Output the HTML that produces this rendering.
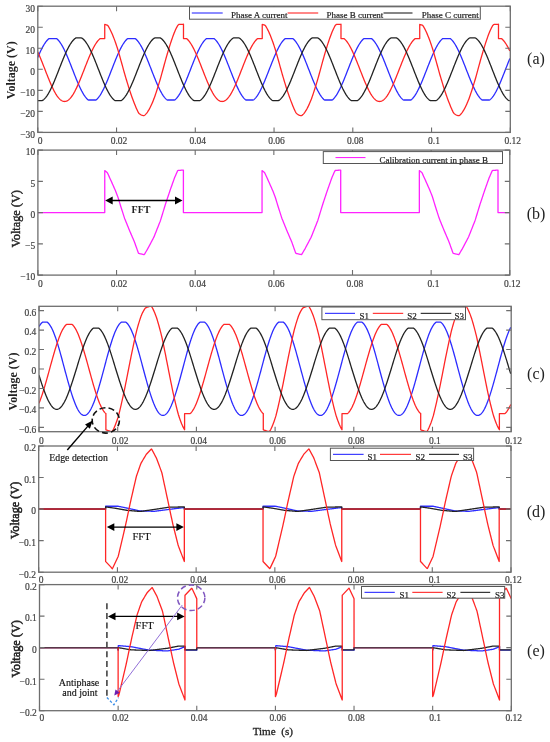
<!DOCTYPE html>
<html><head><meta charset="utf-8"><title>Figure</title>
<style>html,body{margin:0;padding:0;background:#fff;}svg{display:block;}text{font-family:"Liberation Serif", "Times New Roman", serif;}.tl{fill:#444;stroke:#444;stroke-width:0.2px;}.lt{fill:#222;stroke:#222;stroke-width:0.2px;}.an{stroke:#111;stroke-width:0.15px;}</style>
</head><body>
<svg width="550" height="742" viewBox="0 0 550 742">
<rect width="550" height="742" fill="#fff"/>
<clipPath id="ca"><rect x="37.8" y="6.2" width="472.50" height="126.20"/></clipPath>
<g clip-path="url(#ca)">
<polyline points="37.80,57.45 38.27,56.33 38.74,55.23 39.22,54.15 39.69,53.09 40.16,52.06 40.63,51.04 41.11,50.06 41.58,49.10 42.05,48.17 42.52,47.27 43.00,46.40 43.47,45.57 43.94,44.76 44.41,44.00 44.89,43.27 45.36,42.57 45.83,41.91 46.30,41.30 46.78,40.72 47.25,40.18 47.72,39.69 48.20,39.23 48.67,38.82 49.14,38.59 49.61,38.59 50.08,38.59 50.56,38.59 51.03,38.59 51.50,38.59 51.97,38.59 52.45,38.59 52.92,38.59 53.39,38.59 53.86,38.59 54.34,38.59 54.81,38.59 55.28,38.59 55.75,38.59 56.23,38.59 56.70,38.69 57.17,39.09 57.64,39.53 58.12,40.01 58.59,40.54 59.06,41.10 59.53,41.70 60.01,42.35 60.48,43.03 60.95,43.75 61.42,44.50 61.90,45.29 62.37,46.12 62.84,46.98 63.31,47.87 63.79,48.79 64.26,49.74 64.73,50.71 65.20,51.72 65.68,52.74 66.15,53.80 66.62,54.87 67.09,55.96 67.57,57.08 68.04,58.21 68.51,59.36 68.98,60.52 69.46,61.69 69.93,62.87 70.40,64.07 70.88,65.27 71.35,66.47 71.82,67.68 72.29,68.90 72.77,70.11 73.24,71.32 73.71,72.53 74.18,73.73 74.66,74.93 75.13,76.12 75.60,77.30 76.07,78.47 76.55,79.63 77.02,80.77 77.49,81.89 77.96,83.00 78.44,84.09 78.91,85.16 79.38,86.20 79.85,87.22 80.33,88.22 80.80,89.18 81.27,90.12 81.74,91.03 82.22,91.91 82.69,92.76 83.16,93.57 83.63,94.35 84.10,95.10 84.58,95.80 85.05,96.47 85.52,97.10 86.00,97.69 86.47,98.24 86.94,98.75 87.41,99.22 87.88,99.65 88.36,100.01 88.83,100.01 89.30,100.01 89.78,100.01 90.25,100.01 90.72,100.01 91.19,100.01 91.67,100.01 92.14,100.01 92.61,100.01 93.08,100.01 93.56,100.01 94.03,100.01 94.50,100.01 94.97,100.01 95.44,100.01 95.92,100.01 96.39,99.65 96.86,99.22 97.33,98.75 97.81,98.24 98.28,97.69 98.75,97.10 99.22,96.47 99.70,95.80 100.17,95.10 100.64,94.35 101.12,93.57 101.59,92.76 102.06,91.91 102.53,91.03 103.01,90.12 103.48,89.18 103.95,88.22 104.42,87.22 104.74,86.54 104.74,86.54 104.89,86.20 105.37,85.16 105.84,84.09 106.31,83.00 106.78,81.89 107.26,80.77 107.73,79.63 108.20,78.47 108.68,77.30 109.15,76.12 109.62,74.93 110.09,73.73 110.56,72.53 111.04,71.32 111.51,70.11 111.98,68.90 112.45,67.68 112.93,66.47 113.40,65.27 113.87,64.07 114.34,62.87 114.82,61.69 115.29,60.52 115.76,59.36 116.23,58.21 116.71,57.08 117.18,55.96 117.65,54.87 118.13,53.80 118.60,52.74 119.07,51.72 119.54,50.71 120.02,49.74 120.49,48.79 120.96,47.87 121.43,46.98 121.91,46.12 122.38,45.29 122.85,44.50 123.32,43.75 123.80,43.03 124.27,42.35 124.74,41.70 125.21,41.10 125.68,40.54 126.16,40.01 126.63,39.53 127.10,39.09 127.58,38.69 128.05,38.59 128.52,38.59 128.99,38.59 129.47,38.59 129.94,38.59 130.41,38.59 130.88,38.59 131.35,38.59 131.83,38.59 132.30,38.59 132.77,38.59 133.25,38.59 133.72,38.59 134.19,38.59 134.66,38.59 135.13,38.59 135.61,38.82 136.08,39.23 136.55,39.69 137.03,40.18 137.50,40.72 137.97,41.30 138.44,41.91 138.92,42.57 139.39,43.27 139.86,44.00 140.33,44.76 140.81,45.57 141.28,46.40 141.75,47.27 142.22,48.17 142.69,49.10 143.17,50.06 143.64,51.04 144.11,52.06 144.59,53.09 145.06,54.15 145.53,55.23 146.00,56.33 146.48,57.45 146.95,58.59 147.42,59.74 147.89,60.91 148.37,62.08 148.84,63.27 149.31,64.47 149.78,65.67 150.25,66.88 150.73,68.09 151.20,69.30 151.67,70.51 152.14,71.72 152.62,72.93 153.09,74.13 153.56,75.33 154.03,76.52 154.51,77.69 154.98,78.86 155.45,80.01 155.93,81.15 156.40,82.27 156.87,83.37 157.34,84.45 157.81,85.51 158.29,86.54 158.76,87.56 159.23,88.54 159.71,89.50 160.18,90.43 160.65,91.33 161.12,92.20 161.60,93.03 162.07,93.84 162.54,94.60 163.01,95.33 163.49,96.03 163.96,96.69 164.43,97.30 164.90,97.88 165.38,98.42 165.85,98.91 166.32,99.37 166.79,99.78 167.26,100.01 167.74,100.01 168.21,100.01 168.68,100.01 169.16,100.01 169.63,100.01 170.10,100.01 170.57,100.01 171.05,100.01 171.52,100.01 171.99,100.01 172.46,100.01 172.94,100.01 173.41,100.01 173.88,100.01 174.35,100.01 174.82,99.91 175.30,99.51 175.77,99.07 176.24,98.59 176.71,98.06 177.19,97.50 177.66,96.90 178.13,96.25 178.61,95.57 179.08,94.85 179.55,94.10 180.02,93.31 180.50,92.48 180.97,91.62 181.44,90.73 181.91,89.81 182.38,88.86 182.86,87.89 183.33,86.88 183.49,86.54 183.49,86.54 183.80,85.86 184.28,84.80 184.75,83.73 185.22,82.64 185.69,81.52 186.17,80.39 186.64,79.24 187.11,78.08 187.58,76.91 188.06,75.73 188.53,74.53 189.00,73.33 189.47,72.13 189.94,70.92 190.42,69.70 190.89,68.49 191.36,67.28 191.84,66.07 192.31,64.87 192.78,63.67 193.25,62.48 193.73,61.30 194.20,60.13 194.67,58.97 195.14,57.83 195.62,56.71 196.09,55.60 196.56,54.51 197.03,53.44 197.50,52.40 197.98,51.38 198.45,50.38 198.92,49.42 199.40,48.48 199.87,47.57 200.34,46.69 200.81,45.84 201.29,45.03 201.76,44.25 202.23,43.50 202.70,42.80 203.18,42.13 203.65,41.50 204.12,40.91 204.59,40.36 205.07,39.85 205.54,39.38 206.01,38.95 206.48,38.59 206.95,38.59 207.43,38.59 207.90,38.59 208.37,38.59 208.85,38.59 209.32,38.59 209.79,38.59 210.26,38.59 210.74,38.59 211.21,38.59 211.68,38.59 212.15,38.59 212.62,38.59 213.10,38.59 213.57,38.59 214.04,38.59 214.51,38.95 214.99,39.38 215.46,39.85 215.93,40.36 216.41,40.91 216.88,41.50 217.35,42.13 217.82,42.80 218.29,43.50 218.77,44.25 219.24,45.03 219.71,45.84 220.19,46.69 220.66,47.57 221.13,48.48 221.60,49.42 222.07,50.38 222.55,51.38 223.02,52.40 223.49,53.44 223.97,54.51 224.44,55.60 224.91,56.71 225.38,57.83 225.86,58.97 226.33,60.13 226.80,61.30 227.27,62.48 227.75,63.67 228.22,64.87 228.69,66.07 229.16,67.28 229.63,68.49 230.11,69.70 230.58,70.92 231.05,72.13 231.52,73.33 232.00,74.53 232.47,75.73 232.94,76.91 233.42,78.08 233.89,79.24 234.36,80.39 234.83,81.52 235.31,82.64 235.78,83.73 236.25,84.80 236.72,85.86 237.20,86.88 237.67,87.89 238.14,88.86 238.61,89.81 239.08,90.73 239.56,91.62 240.03,92.48 240.50,93.31 240.98,94.10 241.45,94.85 241.92,95.57 242.39,96.25 242.87,96.90 243.34,97.50 243.81,98.06 244.28,98.59 244.75,99.07 245.23,99.51 245.70,99.91 246.17,100.01 246.65,100.01 247.12,100.01 247.59,100.01 248.06,100.01 248.54,100.01 249.01,100.01 249.48,100.01 249.95,100.01 250.43,100.01 250.90,100.01 251.37,100.01 251.84,100.01 252.31,100.01 252.79,100.01 253.26,100.01 253.73,99.78 254.21,99.37 254.68,98.91 255.15,98.42 255.62,97.88 256.10,97.30 256.57,96.69 257.04,96.03 257.51,95.33 257.99,94.60 258.46,93.84 258.93,93.03 259.40,92.20 259.88,91.33 260.35,90.43 260.82,89.50 261.29,88.54 261.77,87.56 262.24,86.54 262.24,86.54 262.24,86.54 262.71,85.51 263.18,84.45 263.65,83.37 264.13,82.27 264.60,81.15 265.07,80.01 265.55,78.86 266.02,77.69 266.49,76.52 266.96,75.33 267.44,74.13 267.91,72.93 268.38,71.72 268.85,70.51 269.32,69.30 269.80,68.09 270.27,66.88 270.74,65.67 271.21,64.47 271.69,63.27 272.16,62.08 272.63,60.91 273.11,59.74 273.58,58.59 274.05,57.45 274.52,56.33 275.00,55.23 275.47,54.15 275.94,53.09 276.41,52.06 276.88,51.04 277.36,50.06 277.83,49.10 278.30,48.17 278.78,47.27 279.25,46.40 279.72,45.57 280.19,44.76 280.67,44.00 281.14,43.27 281.61,42.57 282.08,41.91 282.56,41.30 283.03,40.72 283.50,40.18 283.97,39.69 284.44,39.23 284.92,38.82 285.39,38.59 285.86,38.59 286.33,38.59 286.81,38.59 287.28,38.59 287.75,38.59 288.23,38.59 288.70,38.59 289.17,38.59 289.64,38.59 290.12,38.59 290.59,38.59 291.06,38.59 291.53,38.59 292.01,38.59 292.48,38.59 292.95,38.69 293.42,39.09 293.90,39.53 294.37,40.01 294.84,40.54 295.31,41.10 295.79,41.70 296.26,42.35 296.73,43.03 297.20,43.75 297.68,44.50 298.15,45.29 298.62,46.12 299.09,46.98 299.56,47.87 300.04,48.79 300.51,49.74 300.98,50.71 301.46,51.72 301.93,52.74 302.40,53.80 302.87,54.87 303.35,55.96 303.82,57.08 304.29,58.21 304.76,59.36 305.24,60.52 305.71,61.69 306.18,62.87 306.65,64.07 307.13,65.27 307.60,66.47 308.07,67.68 308.54,68.90 309.02,70.11 309.49,71.32 309.96,72.53 310.43,73.73 310.91,74.93 311.38,76.12 311.85,77.30 312.32,78.47 312.80,79.63 313.27,80.77 313.74,81.89 314.21,83.00 314.69,84.09 315.16,85.16 315.63,86.20 316.10,87.22 316.58,88.22 317.05,89.18 317.52,90.12 317.99,91.03 318.47,91.91 318.94,92.76 319.41,93.57 319.88,94.35 320.36,95.10 320.83,95.80 321.30,96.47 321.77,97.10 322.25,97.69 322.72,98.24 323.19,98.75 323.66,99.22 324.14,99.65 324.61,100.01 325.08,100.01 325.55,100.01 326.03,100.01 326.50,100.01 326.97,100.01 327.44,100.01 327.92,100.01 328.39,100.01 328.86,100.01 329.33,100.01 329.81,100.01 330.28,100.01 330.75,100.01 331.22,100.01 331.70,100.01 332.17,100.01 332.64,99.65 333.11,99.22 333.59,98.75 334.06,98.24 334.53,97.69 335.00,97.10 335.48,96.47 335.95,95.80 336.42,95.10 336.89,94.35 337.37,93.57 337.84,92.76 338.31,91.91 338.78,91.03 339.25,90.12 339.73,89.18 340.20,88.22 340.67,87.22 340.99,86.54 340.99,86.54 341.14,86.20 341.62,85.16 342.09,84.09 342.56,83.00 343.04,81.89 343.51,80.77 343.98,79.63 344.45,78.47 344.93,77.30 345.40,76.12 345.87,74.93 346.34,73.73 346.82,72.53 347.29,71.32 347.76,70.11 348.23,68.90 348.70,67.68 349.18,66.47 349.65,65.27 350.12,64.07 350.59,62.87 351.07,61.69 351.54,60.52 352.01,59.36 352.49,58.21 352.96,57.08 353.43,55.96 353.90,54.87 354.38,53.80 354.85,52.74 355.32,51.72 355.79,50.71 356.27,49.74 356.74,48.79 357.21,47.87 357.68,46.98 358.16,46.12 358.63,45.29 359.10,44.50 359.57,43.75 360.05,43.03 360.52,42.35 360.99,41.70 361.46,41.10 361.94,40.54 362.41,40.01 362.88,39.53 363.35,39.09 363.82,38.69 364.30,38.59 364.77,38.59 365.24,38.59 365.72,38.59 366.19,38.59 366.66,38.59 367.13,38.59 367.61,38.59 368.08,38.59 368.55,38.59 369.02,38.59 369.50,38.59 369.97,38.59 370.44,38.59 370.91,38.59 371.39,38.59 371.86,38.82 372.33,39.23 372.80,39.69 373.28,40.18 373.75,40.72 374.22,41.30 374.69,41.91 375.17,42.57 375.64,43.27 376.11,44.00 376.58,44.76 377.06,45.57 377.53,46.40 378.00,47.27 378.47,48.17 378.95,49.10 379.42,50.06 379.89,51.04 380.36,52.06 380.84,53.09 381.31,54.15 381.78,55.23 382.25,56.33 382.73,57.45 383.20,58.59 383.67,59.74 384.14,60.91 384.62,62.08 385.09,63.27 385.56,64.47 386.03,65.67 386.50,66.88 386.98,68.09 387.45,69.30 387.92,70.51 388.40,71.72 388.87,72.93 389.34,74.13 389.81,75.33 390.29,76.52 390.76,77.69 391.23,78.86 391.70,80.01 392.18,81.15 392.65,82.27 393.12,83.37 393.59,84.45 394.07,85.51 394.54,86.54 395.01,87.56 395.48,88.54 395.96,89.50 396.43,90.43 396.90,91.33 397.37,92.20 397.85,93.03 398.32,93.84 398.79,94.60 399.26,95.33 399.74,96.03 400.21,96.69 400.68,97.30 401.15,97.88 401.62,98.42 402.10,98.91 402.57,99.37 403.04,99.78 403.52,100.01 403.99,100.01 404.46,100.01 404.93,100.01 405.41,100.01 405.88,100.01 406.35,100.01 406.82,100.01 407.30,100.01 407.77,100.01 408.24,100.01 408.71,100.01 409.19,100.01 409.66,100.01 410.13,100.01 410.60,100.01 411.08,99.91 411.55,99.51 412.02,99.07 412.49,98.59 412.97,98.06 413.44,97.50 413.91,96.90 414.38,96.25 414.86,95.57 415.33,94.85 415.80,94.10 416.27,93.31 416.75,92.48 417.22,91.62 417.69,90.73 418.16,89.81 418.64,88.86 419.11,87.89 419.58,86.88 419.74,86.54 419.74,86.54 420.05,85.86 420.53,84.80 421.00,83.73 421.47,82.64 421.94,81.52 422.42,80.39 422.89,79.24 423.36,78.08 423.83,76.91 424.31,75.73 424.78,74.53 425.25,73.33 425.72,72.13 426.20,70.92 426.67,69.70 427.14,68.49 427.61,67.28 428.09,66.07 428.56,64.87 429.03,63.67 429.50,62.48 429.98,61.30 430.45,60.13 430.92,58.97 431.39,57.83 431.87,56.71 432.34,55.60 432.81,54.51 433.28,53.44 433.76,52.40 434.23,51.38 434.70,50.38 435.17,49.42 435.65,48.48 436.12,47.57 436.59,46.69 437.06,45.84 437.54,45.03 438.01,44.25 438.48,43.50 438.95,42.80 439.43,42.13 439.90,41.50 440.37,40.91 440.84,40.36 441.31,39.85 441.79,39.38 442.26,38.95 442.73,38.59 443.20,38.59 443.68,38.59 444.15,38.59 444.62,38.59 445.10,38.59 445.57,38.59 446.04,38.59 446.51,38.59 446.99,38.59 447.46,38.59 447.93,38.59 448.40,38.59 448.88,38.59 449.35,38.59 449.82,38.59 450.29,38.59 450.76,38.95 451.24,39.38 451.71,39.85 452.18,40.36 452.66,40.91 453.13,41.50 453.60,42.13 454.07,42.80 454.55,43.50 455.02,44.25 455.49,45.03 455.96,45.84 456.44,46.69 456.91,47.57 457.38,48.48 457.85,49.42 458.33,50.38 458.80,51.38 459.27,52.40 459.74,53.44 460.22,54.51 460.69,55.60 461.16,56.71 461.63,57.83 462.11,58.97 462.58,60.13 463.05,61.30 463.52,62.48 464.00,63.67 464.47,64.87 464.94,66.07 465.41,67.28 465.88,68.49 466.36,69.70 466.83,70.92 467.30,72.13 467.78,73.33 468.25,74.53 468.72,75.73 469.19,76.91 469.67,78.08 470.14,79.24 470.61,80.39 471.08,81.52 471.56,82.64 472.03,83.73 472.50,84.80 472.97,85.86 473.45,86.88 473.92,87.89 474.39,88.86 474.86,89.81 475.33,90.73 475.81,91.62 476.28,92.48 476.75,93.31 477.23,94.10 477.70,94.85 478.17,95.57 478.64,96.25 479.12,96.90 479.59,97.50 480.06,98.06 480.53,98.59 481.01,99.07 481.48,99.51 481.95,99.91 482.42,100.01 482.90,100.01 483.37,100.01 483.84,100.01 484.31,100.01 484.79,100.01 485.26,100.01 485.73,100.01 486.20,100.01 486.68,100.01 487.15,100.01 487.62,100.01 488.09,100.01 488.56,100.01 489.04,100.01 489.51,100.01 489.98,99.78 490.46,99.37 490.93,98.91 491.40,98.42 491.87,97.88 492.35,97.30 492.82,96.69 493.29,96.03 493.76,95.33 494.24,94.60 494.71,93.84 495.18,93.03 495.65,92.20 496.13,91.33 496.60,90.43 497.07,89.50 497.54,88.54 498.02,87.56 498.49,86.54 498.49,86.54 498.49,86.54 498.96,85.51 499.43,84.45 499.91,83.37 500.38,82.27 500.85,81.15 501.32,80.01 501.80,78.86 502.27,77.69 502.74,76.52 503.21,75.33 503.69,74.13 504.16,72.93 504.63,71.72 505.10,70.51 505.58,69.30 506.05,68.09 506.52,66.88 506.99,65.67 507.47,64.47 507.94,63.27 508.41,62.08 508.88,60.91 509.36,59.74 509.83,58.59" fill="none" stroke="#2c2cff" stroke-width="1.3" stroke-linejoin="round" />
<polyline points="37.80,52.06 38.27,53.09 38.74,54.15 39.22,55.23 39.69,56.33 40.16,57.45 40.63,58.59 41.11,59.74 41.58,60.91 42.05,62.08 42.52,63.27 43.00,64.47 43.47,65.67 43.94,66.88 44.41,68.09 44.89,69.30 45.36,70.51 45.83,71.72 46.30,72.93 46.78,74.13 47.25,75.33 47.72,76.52 48.20,77.69 48.67,78.86 49.14,80.01 49.61,81.15 50.08,82.27 50.56,83.37 51.03,84.45 51.50,85.51 51.97,86.54 52.45,87.56 52.92,88.54 53.39,89.50 53.86,90.43 54.34,91.33 54.81,92.20 55.28,93.03 55.75,93.84 56.23,94.60 56.70,95.33 57.17,96.03 57.64,96.69 58.12,97.30 58.59,97.88 59.06,98.42 59.53,98.91 60.01,99.37 60.48,99.78 60.95,100.15 61.42,100.47 61.90,100.75 62.37,100.98 62.84,101.17 63.31,101.32 63.79,101.42 64.26,101.47 64.73,101.48 65.20,101.44 65.68,101.36 66.15,101.23 66.62,101.05 67.09,100.83 67.57,100.57 68.04,100.26 68.51,99.91 68.98,99.51 69.46,99.07 69.93,98.59 70.40,98.06 70.88,97.50 71.35,96.90 71.82,96.25 72.29,95.57 72.77,94.85 73.24,94.10 73.71,93.31 74.18,92.48 74.66,91.62 75.13,90.73 75.60,89.81 76.07,88.86 76.55,87.89 77.02,86.88 77.49,85.86 77.96,84.80 78.44,83.73 78.91,82.64 79.38,81.52 79.85,80.39 80.33,79.24 80.80,78.08 81.27,76.91 81.74,75.73 82.22,74.53 82.69,73.33 83.16,72.13 83.63,70.92 84.10,69.70 84.58,68.49 85.05,67.28 85.52,66.07 86.00,64.87 86.47,63.67 86.94,62.48 87.41,61.30 87.88,60.13 88.36,58.97 88.83,57.83 89.30,56.71 89.78,55.60 90.25,54.51 90.72,53.44 91.19,52.40 91.67,51.38 92.14,50.38 92.61,49.42 93.08,48.48 93.56,47.57 94.03,46.69 94.50,45.84 94.97,45.03 95.44,44.25 95.92,43.50 96.39,42.80 96.86,42.13 97.33,41.50 97.81,40.91 98.28,40.36 98.75,39.85 99.22,39.38 99.70,38.95 100.17,38.59 100.64,38.59 101.12,38.59 101.59,38.59 102.06,38.59 102.53,38.59 103.01,38.59 103.48,38.59 103.95,38.59 104.42,38.59 104.74,38.59 104.74,24.44 104.89,24.48 105.37,24.61 105.84,24.74 106.31,24.88 106.78,25.01 107.26,25.14 107.73,25.43 108.20,26.15 108.68,26.92 109.15,27.74 109.62,28.60 110.09,29.50 110.56,30.44 111.04,31.42 111.51,32.44 111.98,33.50 112.45,34.61 112.93,35.74 113.40,36.92 113.87,38.12 114.34,39.36 114.82,40.63 115.29,41.93 115.76,43.28 116.23,44.69 116.71,46.12 117.18,47.57 117.65,49.05 118.13,50.58 118.60,52.21 119.07,53.86 119.54,55.52 120.02,57.21 120.49,58.90 120.96,60.58 121.43,62.27 121.91,63.97 122.38,65.67 122.85,67.38 123.32,69.09 123.80,70.81 124.27,72.52 124.74,74.17 125.21,75.77 125.68,77.36 126.16,78.95 126.63,80.52 127.10,82.09 127.58,83.64 128.05,85.18 128.52,86.70 128.99,88.21 129.47,89.69 129.94,91.14 130.41,92.56 130.88,93.96 131.35,95.33 131.83,96.68 132.30,97.99 132.77,99.28 133.25,100.54 133.72,101.77 134.19,102.96 134.66,104.16 135.13,105.36 135.61,106.53 136.08,107.66 136.55,108.75 137.03,109.80 137.50,110.81 137.97,111.78 138.44,112.71 138.92,113.25 139.39,113.69 139.86,114.08 140.33,114.42 140.81,114.72 141.28,114.98 141.75,115.19 142.22,115.36 142.69,115.48 143.17,115.55 143.64,115.58 144.11,115.56 144.59,115.28 145.06,114.87 145.53,114.42 146.00,113.92 146.48,113.38 146.95,112.80 147.42,112.17 147.89,111.47 148.37,110.71 148.84,109.92 149.31,109.08 149.78,108.20 150.25,107.28 150.73,106.32 151.20,105.33 151.67,104.29 152.14,103.22 152.62,102.12 153.09,100.98 153.56,99.81 154.03,98.61 154.51,97.28 154.98,95.92 155.45,94.53 155.93,93.12 156.40,91.69 156.87,90.23 157.34,88.74 157.81,87.24 158.29,85.72 158.76,84.18 159.23,82.63 159.71,81.07 160.18,79.49 160.65,77.87 161.12,76.15 161.60,74.43 162.07,72.70 162.54,70.97 163.01,69.24 163.49,67.50 163.96,65.77 164.43,64.04 164.90,62.32 165.38,60.60 165.85,58.93 166.32,57.28 166.79,55.64 167.26,54.01 167.74,52.40 168.21,50.81 168.68,49.23 169.16,47.67 169.63,46.14 170.10,44.63 170.57,43.15 171.05,41.72 171.52,40.31 171.99,38.94 172.46,37.59 172.94,36.28 173.41,34.99 173.88,33.74 174.35,32.53 174.82,31.40 175.30,30.34 175.77,29.32 176.24,28.33 176.71,27.39 177.19,26.48 177.66,25.62 178.13,25.07 178.61,24.64 179.08,24.40 179.55,24.38 180.02,24.37 180.50,24.36 180.97,24.34 181.44,24.33 181.91,24.31 182.38,24.30 182.86,24.29 183.33,24.27 183.49,24.27 183.49,38.59 183.80,38.59 184.28,38.59 184.75,38.59 185.22,38.59 185.69,38.59 186.17,38.59 186.64,38.69 187.11,39.09 187.58,39.53 188.06,40.01 188.53,40.54 189.00,41.10 189.47,41.70 189.94,42.35 190.42,43.03 190.89,43.75 191.36,44.50 191.84,45.29 192.31,46.12 192.78,46.98 193.25,47.87 193.73,48.79 194.20,49.74 194.67,50.71 195.14,51.72 195.62,52.74 196.09,53.80 196.56,54.87 197.03,55.96 197.50,57.08 197.98,58.21 198.45,59.36 198.92,60.52 199.40,61.69 199.87,62.87 200.34,64.07 200.81,65.27 201.29,66.47 201.76,67.68 202.23,68.90 202.70,70.11 203.18,71.32 203.65,72.53 204.12,73.73 204.59,74.93 205.07,76.12 205.54,77.30 206.01,78.47 206.48,79.63 206.95,80.77 207.43,81.89 207.90,83.00 208.37,84.09 208.85,85.16 209.32,86.20 209.79,87.22 210.26,88.22 210.74,89.18 211.21,90.12 211.68,91.03 212.15,91.91 212.62,92.76 213.10,93.57 213.57,94.35 214.04,95.10 214.51,95.80 214.99,96.47 215.46,97.10 215.93,97.69 216.41,98.24 216.88,98.75 217.35,99.22 217.82,99.65 218.29,100.03 218.77,100.37 219.24,100.66 219.71,100.91 220.19,101.12 220.66,101.28 221.13,101.39 221.60,101.46 222.07,101.48 222.55,101.46 223.02,101.39 223.49,101.28 223.97,101.12 224.44,100.91 224.91,100.66 225.38,100.37 225.86,100.03 226.33,99.65 226.80,99.22 227.27,98.75 227.75,98.24 228.22,97.69 228.69,97.10 229.16,96.47 229.63,95.80 230.11,95.10 230.58,94.35 231.05,93.57 231.52,92.76 232.00,91.91 232.47,91.03 232.94,90.12 233.42,89.18 233.89,88.22 234.36,87.22 234.83,86.20 235.31,85.16 235.78,84.09 236.25,83.00 236.72,81.89 237.20,80.77 237.67,79.63 238.14,78.47 238.61,77.30 239.08,76.12 239.56,74.93 240.03,73.73 240.50,72.53 240.98,71.32 241.45,70.11 241.92,68.90 242.39,67.68 242.87,66.47 243.34,65.27 243.81,64.07 244.28,62.87 244.75,61.69 245.23,60.52 245.70,59.36 246.17,58.21 246.65,57.08 247.12,55.96 247.59,54.87 248.06,53.80 248.54,52.74 249.01,51.72 249.48,50.71 249.95,49.74 250.43,48.79 250.90,47.87 251.37,46.98 251.84,46.12 252.31,45.29 252.79,44.50 253.26,43.75 253.73,43.03 254.21,42.35 254.68,41.70 255.15,41.10 255.62,40.54 256.10,40.01 256.57,39.53 257.04,39.09 257.51,38.69 257.99,38.59 258.46,38.59 258.93,38.59 259.40,38.59 259.88,38.59 260.35,38.59 260.82,38.59 261.29,38.59 261.77,38.59 262.24,38.59 262.24,24.44 262.24,24.44 262.71,24.57 263.18,24.70 263.65,24.83 264.13,24.96 264.60,25.10 265.07,25.32 265.55,25.90 266.02,26.66 266.49,27.46 266.96,28.31 267.44,29.19 267.91,30.12 268.38,31.09 268.85,32.09 269.32,33.14 269.80,34.23 270.27,35.36 270.74,36.52 271.21,37.72 271.69,38.94 272.16,40.20 272.63,41.49 273.11,42.82 273.58,44.22 274.05,45.64 274.52,47.09 275.00,48.55 275.47,50.05 275.94,51.66 276.41,53.31 276.88,54.97 277.36,56.64 277.83,58.33 278.30,60.02 278.78,61.71 279.25,63.40 279.72,65.10 280.19,66.81 280.67,68.52 281.14,70.23 281.61,71.95 282.08,73.64 282.56,75.24 283.03,76.83 283.50,78.42 283.97,80.00 284.44,81.57 284.92,83.12 285.39,84.67 285.86,86.19 286.33,87.71 286.81,89.20 287.28,90.66 287.75,92.09 288.23,93.49 288.70,94.87 289.17,96.23 289.64,97.56 290.12,98.86 290.59,100.13 291.06,101.36 291.53,102.57 292.01,103.75 292.48,104.97 292.95,106.15 293.42,107.29 293.90,108.39 294.37,109.45 294.84,110.48 295.31,111.46 295.79,112.40 296.26,113.10 296.73,113.55 297.20,113.95 297.68,114.31 298.15,114.63 298.62,114.90 299.09,115.13 299.56,115.31 300.04,115.44 300.51,115.53 300.98,115.58 301.46,115.57 301.93,115.40 302.40,115.01 302.87,114.58 303.35,114.09 303.82,113.57 304.29,113.00 304.76,112.38 305.24,111.71 305.71,110.97 306.18,110.19 306.65,109.36 307.13,108.49 307.60,107.59 308.07,106.64 308.54,105.66 309.02,104.64 309.49,103.58 309.96,102.49 310.43,101.37 310.91,100.21 311.38,99.02 311.85,97.73 312.32,96.38 312.80,95.00 313.27,93.60 313.74,92.17 314.21,90.71 314.69,89.24 315.16,87.74 315.63,86.23 316.10,84.70 316.58,83.15 317.05,81.59 317.52,80.02 317.99,78.43 318.47,76.73 318.94,75.01 319.41,73.28 319.88,71.55 320.36,69.82 320.83,68.08 321.30,66.35 321.77,64.62 322.25,62.89 322.72,61.18 323.19,59.48 323.66,57.82 324.14,56.18 324.61,54.55 325.08,52.93 325.55,51.33 326.03,49.75 326.50,48.19 326.97,46.65 327.44,45.13 327.92,43.64 328.39,42.19 328.86,40.78 329.33,39.39 329.81,38.04 330.28,36.71 330.75,35.42 331.22,34.16 331.70,32.93 332.17,31.76 332.64,30.69 333.11,29.65 333.59,28.66 334.06,27.70 334.53,26.78 335.00,25.90 335.48,25.22 335.95,24.78 336.42,24.40 336.89,24.39 337.37,24.37 337.84,24.36 338.31,24.35 338.78,24.33 339.25,24.32 339.73,24.30 340.20,24.29 340.67,24.28 340.99,24.27 340.99,38.59 341.14,38.59 341.62,38.59 342.09,38.59 342.56,38.59 343.04,38.59 343.51,38.59 343.98,38.59 344.45,38.95 344.93,39.38 345.40,39.85 345.87,40.36 346.34,40.91 346.82,41.50 347.29,42.13 347.76,42.80 348.23,43.50 348.70,44.25 349.18,45.03 349.65,45.84 350.12,46.69 350.59,47.57 351.07,48.48 351.54,49.42 352.01,50.38 352.49,51.38 352.96,52.40 353.43,53.44 353.90,54.51 354.38,55.60 354.85,56.71 355.32,57.83 355.79,58.97 356.27,60.13 356.74,61.30 357.21,62.48 357.68,63.67 358.16,64.87 358.63,66.07 359.10,67.28 359.57,68.49 360.05,69.70 360.52,70.92 360.99,72.13 361.46,73.33 361.94,74.53 362.41,75.73 362.88,76.91 363.35,78.08 363.82,79.24 364.30,80.39 364.77,81.52 365.24,82.64 365.72,83.73 366.19,84.80 366.66,85.86 367.13,86.88 367.61,87.89 368.08,88.86 368.55,89.81 369.02,90.73 369.50,91.62 369.97,92.48 370.44,93.31 370.91,94.10 371.39,94.85 371.86,95.57 372.33,96.25 372.80,96.90 373.28,97.50 373.75,98.06 374.22,98.59 374.69,99.07 375.17,99.51 375.64,99.91 376.11,100.26 376.58,100.57 377.06,100.83 377.53,101.05 378.00,101.23 378.47,101.36 378.95,101.44 379.42,101.48 379.89,101.47 380.36,101.42 380.84,101.32 381.31,101.17 381.78,100.98 382.25,100.75 382.73,100.47 383.20,100.15 383.67,99.78 384.14,99.37 384.62,98.91 385.09,98.42 385.56,97.88 386.03,97.30 386.50,96.69 386.98,96.03 387.45,95.33 387.92,94.60 388.40,93.84 388.87,93.03 389.34,92.20 389.81,91.33 390.29,90.43 390.76,89.50 391.23,88.54 391.70,87.56 392.18,86.54 392.65,85.51 393.12,84.45 393.59,83.37 394.07,82.27 394.54,81.15 395.01,80.01 395.48,78.86 395.96,77.69 396.43,76.52 396.90,75.33 397.37,74.13 397.85,72.93 398.32,71.72 398.79,70.51 399.26,69.30 399.74,68.09 400.21,66.88 400.68,65.67 401.15,64.47 401.62,63.27 402.10,62.08 402.57,60.91 403.04,59.74 403.52,58.59 403.99,57.45 404.46,56.33 404.93,55.23 405.41,54.15 405.88,53.09 406.35,52.06 406.82,51.04 407.30,50.06 407.77,49.10 408.24,48.17 408.71,47.27 409.19,46.40 409.66,45.57 410.13,44.76 410.60,44.00 411.08,43.27 411.55,42.57 412.02,41.91 412.49,41.30 412.97,40.72 413.44,40.18 413.91,39.69 414.38,39.23 414.86,38.82 415.33,38.59 415.80,38.59 416.27,38.59 416.75,38.59 417.22,38.59 417.69,38.59 418.16,38.59 418.64,38.59 419.11,38.59 419.58,38.59 419.74,38.59 419.74,24.44 420.05,24.52 420.53,24.66 421.00,24.79 421.47,24.92 421.94,25.05 422.42,25.20 422.89,25.65 423.36,26.40 423.83,27.19 424.31,28.02 424.78,28.89 425.25,29.81 425.72,30.76 426.20,31.75 426.67,32.79 427.14,33.87 427.61,34.98 428.09,36.13 428.56,37.31 429.03,38.53 429.50,39.78 429.98,41.06 430.45,42.37 430.92,43.75 431.39,45.16 431.87,46.60 432.34,48.06 432.81,49.55 433.28,51.12 433.76,52.76 434.23,54.41 434.70,56.08 435.17,57.77 435.65,59.46 436.12,61.14 436.59,62.83 437.06,64.54 437.54,66.24 438.01,67.95 438.48,69.66 438.95,71.38 439.43,73.09 439.90,74.71 440.37,76.30 440.84,77.89 441.31,79.47 441.79,81.05 442.26,82.61 442.73,84.15 443.20,85.69 443.68,87.20 444.15,88.70 444.62,90.18 445.10,91.61 445.57,93.03 446.04,94.42 446.51,95.78 446.99,97.12 447.46,98.43 447.93,99.71 448.40,100.95 448.88,102.17 449.35,103.35 449.82,104.57 450.29,105.76 450.76,106.91 451.24,108.03 451.71,109.10 452.18,110.14 452.66,111.14 453.13,112.09 453.60,112.94 454.07,113.40 454.55,113.82 455.02,114.20 455.49,114.53 455.96,114.81 456.44,115.05 456.91,115.25 457.38,115.40 457.85,115.51 458.33,115.57 458.80,115.58 459.27,115.52 459.74,115.15 460.22,114.73 460.69,114.26 461.16,113.75 461.63,113.19 462.11,112.59 462.58,111.95 463.05,111.22 463.52,110.45 464.00,109.64 464.47,108.79 464.94,107.90 465.41,106.96 465.88,105.99 466.36,104.98 466.83,103.94 467.30,102.86 467.78,101.74 468.25,100.60 468.72,99.42 469.19,98.17 469.67,96.83 470.14,95.46 470.61,94.07 471.08,92.65 471.56,91.20 472.03,89.73 472.50,88.24 472.97,86.74 473.45,85.21 473.92,83.67 474.39,82.11 474.86,80.54 475.33,78.96 475.81,77.30 476.28,75.58 476.75,73.86 477.23,72.13 477.70,70.39 478.17,68.66 478.64,66.93 479.12,65.20 479.59,63.47 480.06,61.75 480.53,60.03 481.01,58.38 481.48,56.73 481.95,55.09 482.42,53.47 482.90,51.87 483.37,50.28 483.84,48.71 484.31,47.16 484.79,45.63 485.26,44.13 485.73,42.67 486.20,41.25 486.68,39.85 487.15,38.48 487.62,37.15 488.09,35.84 488.56,34.57 489.04,33.34 489.51,32.13 489.98,31.04 490.46,29.99 490.93,28.98 491.40,28.01 491.87,27.08 492.35,26.19 492.82,25.37 493.29,24.92 493.76,24.51 494.24,24.39 494.71,24.38 495.18,24.37 495.65,24.35 496.13,24.34 496.60,24.32 497.07,24.31 497.54,24.30 498.02,24.28 498.49,24.27 498.49,38.59 498.49,38.59 498.96,38.59 499.43,38.59 499.91,38.59 500.38,38.59 500.85,38.59 501.32,38.59 501.80,38.82 502.27,39.23 502.74,39.69 503.21,40.18 503.69,40.72 504.16,41.30 504.63,41.91 505.10,42.57 505.58,43.27 506.05,44.00 506.52,44.76 506.99,45.57 507.47,46.40 507.94,47.27 508.41,48.17 508.88,49.10 509.36,50.06 509.83,51.04" fill="none" stroke="#ff2626" stroke-width="1.3" stroke-linejoin="round" />
<polyline points="37.80,100.64 38.27,100.64 38.74,100.64 39.22,100.64 39.69,100.64 40.16,100.64 40.63,100.64 41.11,100.64 41.58,100.64 42.05,100.64 42.52,100.47 43.00,100.15 43.47,99.78 43.94,99.37 44.41,98.91 44.89,98.42 45.36,97.88 45.83,97.30 46.30,96.69 46.78,96.03 47.25,95.33 47.72,94.60 48.20,93.84 48.67,93.03 49.14,92.20 49.61,91.33 50.08,90.43 50.56,89.50 51.03,88.54 51.50,87.56 51.97,86.54 52.45,85.51 52.92,84.45 53.39,83.37 53.86,82.27 54.34,81.15 54.81,80.01 55.28,78.86 55.75,77.69 56.23,76.52 56.70,75.33 57.17,74.13 57.64,72.93 58.12,71.72 58.59,70.51 59.06,69.30 59.53,68.09 60.01,66.88 60.48,65.67 60.95,64.47 61.42,63.27 61.90,62.08 62.37,60.91 62.84,59.74 63.31,58.59 63.79,57.45 64.26,56.33 64.73,55.23 65.20,54.15 65.68,53.09 66.15,52.06 66.62,51.04 67.09,50.06 67.57,49.10 68.04,48.17 68.51,47.27 68.98,46.40 69.46,45.57 69.93,44.76 70.40,44.00 70.88,43.27 71.35,42.57 71.82,41.91 72.29,41.30 72.77,40.72 73.24,40.18 73.71,39.69 74.18,39.23 74.66,38.82 75.13,38.45 75.60,38.13 76.07,37.96 76.55,37.96 77.02,37.96 77.49,37.96 77.96,37.96 78.44,37.96 78.91,37.96 79.38,37.96 79.85,37.96 80.33,37.96 80.80,37.96 81.27,37.96 81.74,38.03 82.22,38.34 82.69,38.69 83.16,39.09 83.63,39.53 84.10,40.01 84.58,40.54 85.05,41.10 85.52,41.70 86.00,42.35 86.47,43.03 86.94,43.75 87.41,44.50 87.88,45.29 88.36,46.12 88.83,46.98 89.30,47.87 89.78,48.79 90.25,49.74 90.72,50.71 91.19,51.72 91.67,52.74 92.14,53.80 92.61,54.87 93.08,55.96 93.56,57.08 94.03,58.21 94.50,59.36 94.97,60.52 95.44,61.69 95.92,62.87 96.39,64.07 96.86,65.27 97.33,66.47 97.81,67.68 98.28,68.90 98.75,70.11 99.22,71.32 99.70,72.53 100.17,73.73 100.64,74.93 101.12,76.12 101.59,77.30 102.06,78.47 102.53,79.63 103.01,80.77 103.48,81.89 103.95,83.00 104.42,84.09 104.74,84.80 104.74,84.80 104.89,85.16 105.37,86.20 105.84,87.22 106.31,88.22 106.78,89.18 107.26,90.12 107.73,91.03 108.20,91.91 108.68,92.76 109.15,93.57 109.62,94.35 110.09,95.10 110.56,95.80 111.04,96.47 111.51,97.10 111.98,97.69 112.45,98.24 112.93,98.75 113.40,99.22 113.87,99.65 114.34,100.03 114.82,100.37 115.29,100.64 115.76,100.64 116.23,100.64 116.71,100.64 117.18,100.64 117.65,100.64 118.13,100.64 118.60,100.64 119.07,100.64 119.54,100.64 120.02,100.64 120.49,100.64 120.96,100.64 121.43,100.37 121.91,100.03 122.38,99.65 122.85,99.22 123.32,98.75 123.80,98.24 124.27,97.69 124.74,97.10 125.21,96.47 125.68,95.80 126.16,95.10 126.63,94.35 127.10,93.57 127.58,92.76 128.05,91.91 128.52,91.03 128.99,90.12 129.47,89.18 129.94,88.22 130.41,87.22 130.88,86.20 131.35,85.16 131.83,84.09 132.30,83.00 132.77,81.89 133.25,80.77 133.72,79.63 134.19,78.47 134.66,77.30 135.13,76.12 135.61,74.93 136.08,73.73 136.55,72.53 137.03,71.32 137.50,70.11 137.97,68.90 138.44,67.68 138.92,66.47 139.39,65.27 139.86,64.07 140.33,62.87 140.81,61.69 141.28,60.52 141.75,59.36 142.22,58.21 142.69,57.08 143.17,55.96 143.64,54.87 144.11,53.80 144.59,52.74 145.06,51.72 145.53,50.71 146.00,49.74 146.48,48.79 146.95,47.87 147.42,46.98 147.89,46.12 148.37,45.29 148.84,44.50 149.31,43.75 149.78,43.03 150.25,42.35 150.73,41.70 151.20,41.10 151.67,40.54 152.14,40.01 152.62,39.53 153.09,39.09 153.56,38.69 154.03,38.34 154.51,38.03 154.98,37.96 155.45,37.96 155.93,37.96 156.40,37.96 156.87,37.96 157.34,37.96 157.81,37.96 158.29,37.96 158.76,37.96 159.23,37.96 159.71,37.96 160.18,37.96 160.65,38.13 161.12,38.45 161.60,38.82 162.07,39.23 162.54,39.69 163.01,40.18 163.49,40.72 163.96,41.30 164.43,41.91 164.90,42.57 165.38,43.27 165.85,44.00 166.32,44.76 166.79,45.57 167.26,46.40 167.74,47.27 168.21,48.17 168.68,49.10 169.16,50.06 169.63,51.04 170.10,52.06 170.57,53.09 171.05,54.15 171.52,55.23 171.99,56.33 172.46,57.45 172.94,58.59 173.41,59.74 173.88,60.91 174.35,62.08 174.82,63.27 175.30,64.47 175.77,65.67 176.24,66.88 176.71,68.09 177.19,69.30 177.66,70.51 178.13,71.72 178.61,72.93 179.08,74.13 179.55,75.33 180.02,76.52 180.50,77.69 180.97,78.86 181.44,80.01 181.91,81.15 182.38,82.27 182.86,83.37 183.33,84.45 183.49,84.80 183.49,84.80 183.80,85.51 184.28,86.54 184.75,87.56 185.22,88.54 185.69,89.50 186.17,90.43 186.64,91.33 187.11,92.20 187.58,93.03 188.06,93.84 188.53,94.60 189.00,95.33 189.47,96.03 189.94,96.69 190.42,97.30 190.89,97.88 191.36,98.42 191.84,98.91 192.31,99.37 192.78,99.78 193.25,100.15 193.73,100.47 194.20,100.64 194.67,100.64 195.14,100.64 195.62,100.64 196.09,100.64 196.56,100.64 197.03,100.64 197.50,100.64 197.98,100.64 198.45,100.64 198.92,100.64 199.40,100.64 199.87,100.57 200.34,100.26 200.81,99.91 201.29,99.51 201.76,99.07 202.23,98.59 202.70,98.06 203.18,97.50 203.65,96.90 204.12,96.25 204.59,95.57 205.07,94.85 205.54,94.10 206.01,93.31 206.48,92.48 206.95,91.62 207.43,90.73 207.90,89.81 208.37,88.86 208.85,87.89 209.32,86.88 209.79,85.86 210.26,84.80 210.74,83.73 211.21,82.64 211.68,81.52 212.15,80.39 212.62,79.24 213.10,78.08 213.57,76.91 214.04,75.73 214.51,74.53 214.99,73.33 215.46,72.13 215.93,70.92 216.41,69.70 216.88,68.49 217.35,67.28 217.82,66.07 218.29,64.87 218.77,63.67 219.24,62.48 219.71,61.30 220.19,60.13 220.66,58.97 221.13,57.83 221.60,56.71 222.07,55.60 222.55,54.51 223.02,53.44 223.49,52.40 223.97,51.38 224.44,50.38 224.91,49.42 225.38,48.48 225.86,47.57 226.33,46.69 226.80,45.84 227.27,45.03 227.75,44.25 228.22,43.50 228.69,42.80 229.16,42.13 229.63,41.50 230.11,40.91 230.58,40.36 231.05,39.85 231.52,39.38 232.00,38.95 232.47,38.57 232.94,38.23 233.42,37.96 233.89,37.96 234.36,37.96 234.83,37.96 235.31,37.96 235.78,37.96 236.25,37.96 236.72,37.96 237.20,37.96 237.67,37.96 238.14,37.96 238.61,37.96 239.08,37.96 239.56,38.23 240.03,38.57 240.50,38.95 240.98,39.38 241.45,39.85 241.92,40.36 242.39,40.91 242.87,41.50 243.34,42.13 243.81,42.80 244.28,43.50 244.75,44.25 245.23,45.03 245.70,45.84 246.17,46.69 246.65,47.57 247.12,48.48 247.59,49.42 248.06,50.38 248.54,51.38 249.01,52.40 249.48,53.44 249.95,54.51 250.43,55.60 250.90,56.71 251.37,57.83 251.84,58.97 252.31,60.13 252.79,61.30 253.26,62.48 253.73,63.67 254.21,64.87 254.68,66.07 255.15,67.28 255.62,68.49 256.10,69.70 256.57,70.92 257.04,72.13 257.51,73.33 257.99,74.53 258.46,75.73 258.93,76.91 259.40,78.08 259.88,79.24 260.35,80.39 260.82,81.52 261.29,82.64 261.77,83.73 262.24,84.80 262.24,84.80 262.24,84.80 262.71,85.86 263.18,86.88 263.65,87.89 264.13,88.86 264.60,89.81 265.07,90.73 265.55,91.62 266.02,92.48 266.49,93.31 266.96,94.10 267.44,94.85 267.91,95.57 268.38,96.25 268.85,96.90 269.32,97.50 269.80,98.06 270.27,98.59 270.74,99.07 271.21,99.51 271.69,99.91 272.16,100.26 272.63,100.57 273.11,100.64 273.58,100.64 274.05,100.64 274.52,100.64 275.00,100.64 275.47,100.64 275.94,100.64 276.41,100.64 276.88,100.64 277.36,100.64 277.83,100.64 278.30,100.64 278.78,100.47 279.25,100.15 279.72,99.78 280.19,99.37 280.67,98.91 281.14,98.42 281.61,97.88 282.08,97.30 282.56,96.69 283.03,96.03 283.50,95.33 283.97,94.60 284.44,93.84 284.92,93.03 285.39,92.20 285.86,91.33 286.33,90.43 286.81,89.50 287.28,88.54 287.75,87.56 288.23,86.54 288.70,85.51 289.17,84.45 289.64,83.37 290.12,82.27 290.59,81.15 291.06,80.01 291.53,78.86 292.01,77.69 292.48,76.52 292.95,75.33 293.42,74.13 293.90,72.93 294.37,71.72 294.84,70.51 295.31,69.30 295.79,68.09 296.26,66.88 296.73,65.67 297.20,64.47 297.68,63.27 298.15,62.08 298.62,60.91 299.09,59.74 299.56,58.59 300.04,57.45 300.51,56.33 300.98,55.23 301.46,54.15 301.93,53.09 302.40,52.06 302.87,51.04 303.35,50.06 303.82,49.10 304.29,48.17 304.76,47.27 305.24,46.40 305.71,45.57 306.18,44.76 306.65,44.00 307.13,43.27 307.60,42.57 308.07,41.91 308.54,41.30 309.02,40.72 309.49,40.18 309.96,39.69 310.43,39.23 310.91,38.82 311.38,38.45 311.85,38.13 312.32,37.96 312.80,37.96 313.27,37.96 313.74,37.96 314.21,37.96 314.69,37.96 315.16,37.96 315.63,37.96 316.10,37.96 316.58,37.96 317.05,37.96 317.52,37.96 317.99,38.03 318.47,38.34 318.94,38.69 319.41,39.09 319.88,39.53 320.36,40.01 320.83,40.54 321.30,41.10 321.77,41.70 322.25,42.35 322.72,43.03 323.19,43.75 323.66,44.50 324.14,45.29 324.61,46.12 325.08,46.98 325.55,47.87 326.03,48.79 326.50,49.74 326.97,50.71 327.44,51.72 327.92,52.74 328.39,53.80 328.86,54.87 329.33,55.96 329.81,57.08 330.28,58.21 330.75,59.36 331.22,60.52 331.70,61.69 332.17,62.87 332.64,64.07 333.11,65.27 333.59,66.47 334.06,67.68 334.53,68.90 335.00,70.11 335.48,71.32 335.95,72.53 336.42,73.73 336.89,74.93 337.37,76.12 337.84,77.30 338.31,78.47 338.78,79.63 339.25,80.77 339.73,81.89 340.20,83.00 340.67,84.09 340.99,84.80 340.99,84.80 341.14,85.16 341.62,86.20 342.09,87.22 342.56,88.22 343.04,89.18 343.51,90.12 343.98,91.03 344.45,91.91 344.93,92.76 345.40,93.57 345.87,94.35 346.34,95.10 346.82,95.80 347.29,96.47 347.76,97.10 348.23,97.69 348.70,98.24 349.18,98.75 349.65,99.22 350.12,99.65 350.59,100.03 351.07,100.37 351.54,100.64 352.01,100.64 352.49,100.64 352.96,100.64 353.43,100.64 353.90,100.64 354.38,100.64 354.85,100.64 355.32,100.64 355.79,100.64 356.27,100.64 356.74,100.64 357.21,100.64 357.68,100.37 358.16,100.03 358.63,99.65 359.10,99.22 359.57,98.75 360.05,98.24 360.52,97.69 360.99,97.10 361.46,96.47 361.94,95.80 362.41,95.10 362.88,94.35 363.35,93.57 363.82,92.76 364.30,91.91 364.77,91.03 365.24,90.12 365.72,89.18 366.19,88.22 366.66,87.22 367.13,86.20 367.61,85.16 368.08,84.09 368.55,83.00 369.02,81.89 369.50,80.77 369.97,79.63 370.44,78.47 370.91,77.30 371.39,76.12 371.86,74.93 372.33,73.73 372.80,72.53 373.28,71.32 373.75,70.11 374.22,68.90 374.69,67.68 375.17,66.47 375.64,65.27 376.11,64.07 376.58,62.87 377.06,61.69 377.53,60.52 378.00,59.36 378.47,58.21 378.95,57.08 379.42,55.96 379.89,54.87 380.36,53.80 380.84,52.74 381.31,51.72 381.78,50.71 382.25,49.74 382.73,48.79 383.20,47.87 383.67,46.98 384.14,46.12 384.62,45.29 385.09,44.50 385.56,43.75 386.03,43.03 386.50,42.35 386.98,41.70 387.45,41.10 387.92,40.54 388.40,40.01 388.87,39.53 389.34,39.09 389.81,38.69 390.29,38.34 390.76,38.03 391.23,37.96 391.70,37.96 392.18,37.96 392.65,37.96 393.12,37.96 393.59,37.96 394.07,37.96 394.54,37.96 395.01,37.96 395.48,37.96 395.96,37.96 396.43,37.96 396.90,38.13 397.37,38.45 397.85,38.82 398.32,39.23 398.79,39.69 399.26,40.18 399.74,40.72 400.21,41.30 400.68,41.91 401.15,42.57 401.62,43.27 402.10,44.00 402.57,44.76 403.04,45.57 403.52,46.40 403.99,47.27 404.46,48.17 404.93,49.10 405.41,50.06 405.88,51.04 406.35,52.06 406.82,53.09 407.30,54.15 407.77,55.23 408.24,56.33 408.71,57.45 409.19,58.59 409.66,59.74 410.13,60.91 410.60,62.08 411.08,63.27 411.55,64.47 412.02,65.67 412.49,66.88 412.97,68.09 413.44,69.30 413.91,70.51 414.38,71.72 414.86,72.93 415.33,74.13 415.80,75.33 416.27,76.52 416.75,77.69 417.22,78.86 417.69,80.01 418.16,81.15 418.64,82.27 419.11,83.37 419.58,84.45 419.74,84.80 419.74,84.80 420.05,85.51 420.53,86.54 421.00,87.56 421.47,88.54 421.94,89.50 422.42,90.43 422.89,91.33 423.36,92.20 423.83,93.03 424.31,93.84 424.78,94.60 425.25,95.33 425.72,96.03 426.20,96.69 426.67,97.30 427.14,97.88 427.61,98.42 428.09,98.91 428.56,99.37 429.03,99.78 429.50,100.15 429.98,100.47 430.45,100.64 430.92,100.64 431.39,100.64 431.87,100.64 432.34,100.64 432.81,100.64 433.28,100.64 433.76,100.64 434.23,100.64 434.70,100.64 435.17,100.64 435.65,100.64 436.12,100.57 436.59,100.26 437.06,99.91 437.54,99.51 438.01,99.07 438.48,98.59 438.95,98.06 439.43,97.50 439.90,96.90 440.37,96.25 440.84,95.57 441.31,94.85 441.79,94.10 442.26,93.31 442.73,92.48 443.20,91.62 443.68,90.73 444.15,89.81 444.62,88.86 445.10,87.89 445.57,86.88 446.04,85.86 446.51,84.80 446.99,83.73 447.46,82.64 447.93,81.52 448.40,80.39 448.88,79.24 449.35,78.08 449.82,76.91 450.29,75.73 450.76,74.53 451.24,73.33 451.71,72.13 452.18,70.92 452.66,69.70 453.13,68.49 453.60,67.28 454.07,66.07 454.55,64.87 455.02,63.67 455.49,62.48 455.96,61.30 456.44,60.13 456.91,58.97 457.38,57.83 457.85,56.71 458.33,55.60 458.80,54.51 459.27,53.44 459.74,52.40 460.22,51.38 460.69,50.38 461.16,49.42 461.63,48.48 462.11,47.57 462.58,46.69 463.05,45.84 463.52,45.03 464.00,44.25 464.47,43.50 464.94,42.80 465.41,42.13 465.88,41.50 466.36,40.91 466.83,40.36 467.30,39.85 467.78,39.38 468.25,38.95 468.72,38.57 469.19,38.23 469.67,37.96 470.14,37.96 470.61,37.96 471.08,37.96 471.56,37.96 472.03,37.96 472.50,37.96 472.97,37.96 473.45,37.96 473.92,37.96 474.39,37.96 474.86,37.96 475.33,37.96 475.81,38.23 476.28,38.57 476.75,38.95 477.23,39.38 477.70,39.85 478.17,40.36 478.64,40.91 479.12,41.50 479.59,42.13 480.06,42.80 480.53,43.50 481.01,44.25 481.48,45.03 481.95,45.84 482.42,46.69 482.90,47.57 483.37,48.48 483.84,49.42 484.31,50.38 484.79,51.38 485.26,52.40 485.73,53.44 486.20,54.51 486.68,55.60 487.15,56.71 487.62,57.83 488.09,58.97 488.56,60.13 489.04,61.30 489.51,62.48 489.98,63.67 490.46,64.87 490.93,66.07 491.40,67.28 491.87,68.49 492.35,69.70 492.82,70.92 493.29,72.13 493.76,73.33 494.24,74.53 494.71,75.73 495.18,76.91 495.65,78.08 496.13,79.24 496.60,80.39 497.07,81.52 497.54,82.64 498.02,83.73 498.49,84.80 498.49,84.80 498.49,84.80 498.96,85.86 499.43,86.88 499.91,87.89 500.38,88.86 500.85,89.81 501.32,90.73 501.80,91.62 502.27,92.48 502.74,93.31 503.21,94.10 503.69,94.85 504.16,95.57 504.63,96.25 505.10,96.90 505.58,97.50 506.05,98.06 506.52,98.59 506.99,99.07 507.47,99.51 507.94,99.91 508.41,100.26 508.88,100.57 509.36,100.64 509.83,100.64" fill="none" stroke="#222" stroke-width="1.3" stroke-linejoin="round" />
</g>
<rect x="37.8" y="6.2" width="472.50" height="126.20" fill="none" stroke="#6e6e6e" stroke-width="1.3"/>
<path d="M37.80,132.4v-5.0M37.80,6.2v5.0M116.55,132.4v-5.0M116.55,6.2v5.0M195.30,132.4v-5.0M195.30,6.2v5.0M274.05,132.4v-5.0M274.05,6.2v5.0M352.80,132.4v-5.0M352.80,6.2v5.0M431.55,132.4v-5.0M431.55,6.2v5.0M510.30,132.4v-5.0M510.30,6.2v5.0M37.8,132.40h5.0M510.3,132.40h-5.0M37.8,111.37h5.0M510.3,111.37h-5.0M37.8,90.33h5.0M510.3,90.33h-5.0M37.8,69.30h5.0M510.3,69.30h-5.0M37.8,48.27h5.0M510.3,48.27h-5.0M37.8,27.23h5.0M510.3,27.23h-5.0M37.8,6.20h5.0M510.3,6.20h-5.0" stroke="#6e6e6e" stroke-width="1.1" fill="none"/>
<rect x="189.5" y="6.8" width="290.80" height="12.40" fill="#fff" stroke="#555" stroke-width="1"/>
<line x1="191.8" y1="13.00" x2="222.7" y2="13.00" stroke="#2c2cff" stroke-width="1.1"/>
<text x="230.9" y="18.24" font-size="9.0" class="lt">Phase A current</text>
<line x1="287.6" y1="13.00" x2="318.2" y2="13.00" stroke="#ff2626" stroke-width="1.1"/>
<text x="326.4" y="18.24" font-size="9.0" class="lt">Phase B current</text>
<line x1="383.5" y1="13.00" x2="412.5" y2="13.00" stroke="#222" stroke-width="1.1"/>
<text x="421.7" y="18.24" font-size="9.0" class="lt">Phase C current</text>
<text x="40.20" y="144.30" text-anchor="middle" font-size="9.5" class="tl">0</text>
<text x="118.95" y="144.30" text-anchor="middle" font-size="9.5" class="tl">0.02</text>
<text x="197.70" y="144.30" text-anchor="middle" font-size="9.5" class="tl">0.04</text>
<text x="276.45" y="144.30" text-anchor="middle" font-size="9.5" class="tl">0.06</text>
<text x="355.20" y="144.30" text-anchor="middle" font-size="9.5" class="tl">0.08</text>
<text x="433.95" y="144.30" text-anchor="middle" font-size="9.5" class="tl">0.1</text>
<text x="512.70" y="144.30" text-anchor="middle" font-size="9.5" class="tl">0.12</text>
<text x="35.10" y="137.73" text-anchor="end" font-size="9.5" class="tl">−30</text>
<text x="35.10" y="116.70" text-anchor="end" font-size="9.5" class="tl">−20</text>
<text x="35.10" y="95.67" text-anchor="end" font-size="9.5" class="tl">−10</text>
<text x="35.10" y="74.64" text-anchor="end" font-size="9.5" class="tl">0</text>
<text x="35.10" y="53.60" text-anchor="end" font-size="9.5" class="tl">10</text>
<text x="35.10" y="32.57" text-anchor="end" font-size="9.5" class="tl">20</text>
<text x="35.10" y="11.54" text-anchor="end" font-size="9.5" class="tl">30</text>
<clipPath id="cb"><rect x="37.9" y="150.1" width="471.90" height="125.00"/></clipPath>
<g clip-path="url(#cb)">
<polyline points="37.90,212.60 38.37,212.60 38.84,212.60 39.32,212.60 39.79,212.60 40.26,212.60 40.73,212.60 41.20,212.60 41.68,212.60 42.15,212.60 42.62,212.60 43.09,212.60 43.56,212.60 44.03,212.60 44.51,212.60 44.98,212.60 45.45,212.60 45.92,212.60 46.39,212.60 46.87,212.60 47.34,212.60 47.81,212.60 48.28,212.60 48.75,212.60 49.23,212.60 49.70,212.60 50.17,212.60 50.64,212.60 51.11,212.60 51.59,212.60 52.06,212.60 52.53,212.60 53.00,212.60 53.47,212.60 53.94,212.60 54.42,212.60 54.89,212.60 55.36,212.60 55.83,212.60 56.30,212.60 56.78,212.60 57.25,212.60 57.72,212.60 58.19,212.60 58.66,212.60 59.14,212.60 59.61,212.60 60.08,212.60 60.55,212.60 61.02,212.60 61.50,212.60 61.97,212.60 62.44,212.60 62.91,212.60 63.38,212.60 63.85,212.60 64.33,212.60 64.80,212.60 65.27,212.60 65.74,212.60 66.21,212.60 66.69,212.60 67.16,212.60 67.63,212.60 68.10,212.60 68.57,212.60 69.05,212.60 69.52,212.60 69.99,212.60 70.46,212.60 70.93,212.60 71.40,212.60 71.88,212.60 72.35,212.60 72.82,212.60 73.29,212.60 73.76,212.60 74.24,212.60 74.71,212.60 75.18,212.60 75.65,212.60 76.12,212.60 76.60,212.60 77.07,212.60 77.54,212.60 78.01,212.60 78.48,212.60 78.96,212.60 79.43,212.60 79.90,212.60 80.37,212.60 80.84,212.60 81.31,212.60 81.79,212.60 82.26,212.60 82.73,212.60 83.20,212.60 83.67,212.60 84.15,212.60 84.62,212.60 85.09,212.60 85.56,212.60 86.03,212.60 86.51,212.60 86.98,212.60 87.45,212.60 87.92,212.60 88.39,212.60 88.87,212.60 89.34,212.60 89.81,212.60 90.28,212.60 90.75,212.60 91.22,212.60 91.70,212.60 92.17,212.60 92.64,212.60 93.11,212.60 93.58,212.60 94.06,212.60 94.53,212.60 95.00,212.60 95.47,212.60 95.94,212.60 96.42,212.60 96.89,212.60 97.36,212.60 97.83,212.60 98.30,212.60 98.78,212.60 99.25,212.60 99.72,212.60 100.19,212.60 100.66,212.60 101.13,212.60 101.61,212.60 102.08,212.60 102.55,212.60 103.02,212.60 103.49,212.60 103.97,212.60 104.44,212.60 104.75,212.60 104.75,170.54 104.91,170.67 105.38,171.06 105.85,171.45 106.33,171.84 106.80,172.24 107.27,172.63 107.74,173.50 108.21,174.54 108.69,175.58 109.16,176.62 109.63,177.66 110.10,178.70 110.57,179.73 111.04,180.77 111.52,181.81 111.99,182.88 112.46,183.95 112.93,185.01 113.40,186.08 113.88,187.14 114.35,188.21 114.82,189.28 115.29,190.34 115.76,191.50 116.24,192.72 116.71,193.94 117.18,195.15 117.65,196.37 118.12,197.68 118.59,199.24 119.07,200.80 119.54,202.36 120.01,203.92 120.48,205.47 120.95,206.96 121.43,208.45 121.90,209.93 122.37,211.42 122.84,212.90 123.31,214.39 123.79,215.87 124.26,217.36 124.73,218.68 125.20,219.85 125.67,221.01 126.15,222.17 126.62,223.34 127.09,224.50 127.56,225.66 128.03,226.83 128.50,227.99 128.98,229.15 129.45,230.32 129.92,231.42 130.39,232.52 130.86,233.62 131.34,234.71 131.81,235.81 132.28,236.91 132.75,238.01 133.22,239.11 133.70,240.20 134.17,241.30 134.64,242.51 135.11,243.84 135.58,245.17 136.06,246.49 136.53,247.82 137.00,249.15 137.47,250.48 137.94,251.80 138.41,253.13 138.89,253.44 139.36,253.55 139.83,253.66 140.30,253.77 140.77,253.88 141.25,253.98 141.72,254.09 142.19,254.20 142.66,254.31 143.13,254.42 143.61,254.53 144.08,254.64 144.55,254.08 145.02,253.30 145.49,252.53 145.97,251.75 146.44,250.97 146.91,250.20 147.38,249.42 147.85,248.55 148.32,247.66 148.80,246.76 149.27,245.87 149.74,244.97 150.21,244.08 150.68,243.18 151.16,242.29 151.63,241.39 152.10,240.49 152.57,239.60 153.04,238.70 153.52,237.81 153.99,236.91 154.46,235.72 154.93,234.53 155.40,233.34 155.88,232.15 156.35,230.96 156.82,229.77 157.29,228.58 157.76,227.39 158.23,226.19 158.71,225.00 159.18,223.81 159.65,222.62 160.12,221.43 160.59,220.15 161.07,218.60 161.54,217.06 162.01,215.51 162.48,213.96 162.95,212.41 163.43,210.87 163.90,209.32 164.37,207.77 164.84,206.23 165.31,204.68 165.78,203.22 166.26,201.81 166.73,200.40 167.20,198.99 167.67,197.58 168.14,196.17 168.62,194.76 169.09,193.35 169.56,191.94 170.03,190.53 170.50,189.14 170.98,187.82 171.45,186.49 171.92,185.16 172.39,183.84 172.86,182.51 173.34,181.18 173.81,179.85 174.28,178.53 174.75,177.34 175.22,176.25 175.69,175.16 176.17,174.07 176.64,172.99 177.11,171.90 177.58,170.81 178.05,170.51 178.53,170.47 179.00,170.42 179.47,170.38 179.94,170.34 180.41,170.30 180.89,170.26 181.36,170.22 181.83,170.18 182.30,170.13 182.77,170.09 183.25,170.05 183.40,170.04 183.40,212.60 183.72,212.60 184.19,212.60 184.66,212.60 185.13,212.60 185.60,212.60 186.08,212.60 186.55,212.60 187.02,212.60 187.49,212.60 187.96,212.60 188.44,212.60 188.91,212.60 189.38,212.60 189.85,212.60 190.32,212.60 190.80,212.60 191.27,212.60 191.74,212.60 192.21,212.60 192.68,212.60 193.16,212.60 193.63,212.60 194.10,212.60 194.57,212.60 195.04,212.60 195.51,212.60 195.99,212.60 196.46,212.60 196.93,212.60 197.40,212.60 197.87,212.60 198.35,212.60 198.82,212.60 199.29,212.60 199.76,212.60 200.23,212.60 200.71,212.60 201.18,212.60 201.65,212.60 202.12,212.60 202.59,212.60 203.07,212.60 203.54,212.60 204.01,212.60 204.48,212.60 204.95,212.60 205.42,212.60 205.90,212.60 206.37,212.60 206.84,212.60 207.31,212.60 207.78,212.60 208.26,212.60 208.73,212.60 209.20,212.60 209.67,212.60 210.14,212.60 210.62,212.60 211.09,212.60 211.56,212.60 212.03,212.60 212.50,212.60 212.97,212.60 213.45,212.60 213.92,212.60 214.39,212.60 214.86,212.60 215.33,212.60 215.81,212.60 216.28,212.60 216.75,212.60 217.22,212.60 217.69,212.60 218.17,212.60 218.64,212.60 219.11,212.60 219.58,212.60 220.05,212.60 220.53,212.60 221.00,212.60 221.47,212.60 221.94,212.60 222.41,212.60 222.88,212.60 223.36,212.60 223.83,212.60 224.30,212.60 224.77,212.60 225.24,212.60 225.72,212.60 226.19,212.60 226.66,212.60 227.13,212.60 227.60,212.60 228.08,212.60 228.55,212.60 229.02,212.60 229.49,212.60 229.96,212.60 230.44,212.60 230.91,212.60 231.38,212.60 231.85,212.60 232.32,212.60 232.79,212.60 233.27,212.60 233.74,212.60 234.21,212.60 234.68,212.60 235.15,212.60 235.63,212.60 236.10,212.60 236.57,212.60 237.04,212.60 237.51,212.60 237.99,212.60 238.46,212.60 238.93,212.60 239.40,212.60 239.87,212.60 240.35,212.60 240.82,212.60 241.29,212.60 241.76,212.60 242.23,212.60 242.70,212.60 243.18,212.60 243.65,212.60 244.12,212.60 244.59,212.60 245.06,212.60 245.54,212.60 246.01,212.60 246.48,212.60 246.95,212.60 247.42,212.60 247.90,212.60 248.37,212.60 248.84,212.60 249.31,212.60 249.78,212.60 250.26,212.60 250.73,212.60 251.20,212.60 251.67,212.60 252.14,212.60 252.61,212.60 253.09,212.60 253.56,212.60 254.03,212.60 254.50,212.60 254.97,212.60 255.45,212.60 255.92,212.60 256.39,212.60 256.86,212.60 257.33,212.60 257.81,212.60 258.28,212.60 258.75,212.60 259.22,212.60 259.69,212.60 260.16,212.60 260.64,212.60 261.11,212.60 261.58,212.60 262.05,212.60 262.05,170.54 262.05,170.54 262.52,170.93 263.00,171.32 263.47,171.71 263.94,172.10 264.41,172.50 264.88,173.16 265.36,174.20 265.83,175.23 266.30,176.27 266.77,177.31 267.24,178.35 267.72,179.39 268.19,180.43 268.66,181.47 269.13,182.52 269.60,183.59 270.07,184.66 270.55,185.72 271.02,186.79 271.49,187.86 271.96,188.92 272.43,189.99 272.91,191.09 273.38,192.31 273.85,193.53 274.32,194.75 274.79,195.97 275.27,197.19 275.74,198.72 276.21,200.28 276.68,201.84 277.15,203.40 277.63,204.96 278.10,206.47 278.57,207.95 279.04,209.44 279.51,210.92 279.98,212.41 280.46,213.89 280.93,215.38 281.40,216.86 281.87,218.29 282.34,219.46 282.82,220.62 283.29,221.78 283.76,222.95 284.23,224.11 284.70,225.27 285.18,226.44 285.65,227.60 286.12,228.76 286.59,229.93 287.06,231.05 287.54,232.15 288.01,233.25 288.48,234.35 288.95,235.45 289.42,236.54 289.89,237.64 290.37,238.74 290.84,239.84 291.31,240.94 291.78,242.07 292.25,243.40 292.73,244.72 293.20,246.05 293.67,247.38 294.14,248.71 294.61,250.03 295.09,251.36 295.56,252.69 296.03,253.40 296.50,253.51 296.97,253.62 297.44,253.73 297.92,253.84 298.39,253.95 298.86,254.06 299.33,254.16 299.80,254.27 300.28,254.38 300.75,254.49 301.22,254.60 301.69,254.34 302.16,253.56 302.64,252.79 303.11,252.01 303.58,251.23 304.05,250.45 304.52,249.68 305.00,248.85 305.47,247.96 305.94,247.06 306.41,246.17 306.88,245.27 307.35,244.37 307.83,243.48 308.30,242.58 308.77,241.69 309.24,240.79 309.71,239.90 310.19,239.00 310.66,238.11 311.13,237.21 311.60,236.12 312.07,234.93 312.55,233.74 313.02,232.55 313.49,231.35 313.96,230.16 314.43,228.97 314.91,227.78 315.38,226.59 315.85,225.40 316.32,224.21 316.79,223.02 317.26,221.83 317.74,220.64 318.21,219.12 318.68,217.57 319.15,216.02 319.62,214.48 320.10,212.93 320.57,211.38 321.04,209.84 321.51,208.29 321.98,206.74 322.46,205.19 322.93,203.69 323.40,202.28 323.87,200.87 324.34,199.46 324.82,198.05 325.29,196.64 325.76,195.23 326.23,193.82 326.70,192.41 327.17,191.00 327.65,189.59 328.12,188.26 328.59,186.93 329.06,185.60 329.53,184.28 330.01,182.95 330.48,181.62 330.95,180.30 331.42,178.97 331.89,177.70 332.37,176.61 332.84,175.53 333.31,174.44 333.78,173.35 334.25,172.26 334.73,171.17 335.20,170.52 335.67,170.48 336.14,170.44 336.61,170.40 337.08,170.35 337.56,170.31 338.03,170.27 338.50,170.23 338.97,170.19 339.44,170.15 339.92,170.11 340.39,170.07 340.70,170.04 340.70,212.60 340.86,212.60 341.33,212.60 341.80,212.60 342.28,212.60 342.75,212.60 343.22,212.60 343.69,212.60 344.16,212.60 344.63,212.60 345.11,212.60 345.58,212.60 346.05,212.60 346.52,212.60 346.99,212.60 347.47,212.60 347.94,212.60 348.41,212.60 348.88,212.60 349.35,212.60 349.83,212.60 350.30,212.60 350.77,212.60 351.24,212.60 351.71,212.60 352.19,212.60 352.66,212.60 353.13,212.60 353.60,212.60 354.07,212.60 354.54,212.60 355.02,212.60 355.49,212.60 355.96,212.60 356.43,212.60 356.90,212.60 357.38,212.60 357.85,212.60 358.32,212.60 358.79,212.60 359.26,212.60 359.74,212.60 360.21,212.60 360.68,212.60 361.15,212.60 361.62,212.60 362.10,212.60 362.57,212.60 363.04,212.60 363.51,212.60 363.98,212.60 364.45,212.60 364.93,212.60 365.40,212.60 365.87,212.60 366.34,212.60 366.81,212.60 367.29,212.60 367.76,212.60 368.23,212.60 368.70,212.60 369.17,212.60 369.65,212.60 370.12,212.60 370.59,212.60 371.06,212.60 371.53,212.60 372.01,212.60 372.48,212.60 372.95,212.60 373.42,212.60 373.89,212.60 374.36,212.60 374.84,212.60 375.31,212.60 375.78,212.60 376.25,212.60 376.72,212.60 377.20,212.60 377.67,212.60 378.14,212.60 378.61,212.60 379.08,212.60 379.56,212.60 380.03,212.60 380.50,212.60 380.97,212.60 381.44,212.60 381.92,212.60 382.39,212.60 382.86,212.60 383.33,212.60 383.80,212.60 384.27,212.60 384.75,212.60 385.22,212.60 385.69,212.60 386.16,212.60 386.63,212.60 387.11,212.60 387.58,212.60 388.05,212.60 388.52,212.60 388.99,212.60 389.47,212.60 389.94,212.60 390.41,212.60 390.88,212.60 391.35,212.60 391.83,212.60 392.30,212.60 392.77,212.60 393.24,212.60 393.71,212.60 394.18,212.60 394.66,212.60 395.13,212.60 395.60,212.60 396.07,212.60 396.54,212.60 397.02,212.60 397.49,212.60 397.96,212.60 398.43,212.60 398.90,212.60 399.38,212.60 399.85,212.60 400.32,212.60 400.79,212.60 401.26,212.60 401.73,212.60 402.21,212.60 402.68,212.60 403.15,212.60 403.62,212.60 404.09,212.60 404.57,212.60 405.04,212.60 405.51,212.60 405.98,212.60 406.45,212.60 406.93,212.60 407.40,212.60 407.87,212.60 408.34,212.60 408.81,212.60 409.29,212.60 409.76,212.60 410.23,212.60 410.70,212.60 411.17,212.60 411.64,212.60 412.12,212.60 412.59,212.60 413.06,212.60 413.53,212.60 414.00,212.60 414.48,212.60 414.95,212.60 415.42,212.60 415.89,212.60 416.36,212.60 416.84,212.60 417.31,212.60 417.78,212.60 418.25,212.60 418.72,212.60 419.20,212.60 419.35,212.60 419.35,170.54 419.67,170.80 420.14,171.19 420.61,171.58 421.08,171.97 421.55,172.37 422.03,172.81 422.50,173.85 422.97,174.89 423.44,175.93 423.91,176.97 424.39,178.00 424.86,179.04 425.33,180.08 425.80,181.12 426.27,182.17 426.75,183.24 427.22,184.30 427.69,185.37 428.16,186.43 428.63,187.50 429.11,188.57 429.58,189.63 430.05,190.70 430.52,191.90 430.99,193.12 431.46,194.34 431.94,195.56 432.41,196.78 432.88,198.20 433.35,199.76 433.82,201.32 434.30,202.88 434.77,204.44 435.24,205.97 435.71,207.46 436.18,208.94 436.66,210.43 437.13,211.91 437.60,213.40 438.07,214.88 438.54,216.37 439.02,217.85 439.49,219.07 439.96,220.23 440.43,221.40 440.90,222.56 441.37,223.72 441.85,224.89 442.32,226.05 442.79,227.21 443.26,228.38 443.73,229.54 444.21,230.69 444.68,231.79 445.15,232.88 445.62,233.98 446.09,235.08 446.57,236.18 447.04,237.28 447.51,238.37 447.98,239.47 448.45,240.57 448.92,241.67 449.40,242.96 449.87,244.28 450.34,245.61 450.81,246.94 451.28,248.26 451.76,249.59 452.23,250.92 452.70,252.24 453.17,253.37 453.64,253.48 454.12,253.59 454.59,253.69 455.06,253.80 455.53,253.91 456.00,254.02 456.48,254.13 456.95,254.24 457.42,254.35 457.89,254.45 458.36,254.56 458.83,254.60 459.31,253.82 459.78,253.04 460.25,252.27 460.72,251.49 461.19,250.71 461.67,249.94 462.14,249.15 462.61,248.25 463.08,247.36 463.55,246.46 464.03,245.57 464.50,244.67 464.97,243.78 465.44,242.88 465.91,241.99 466.39,241.09 466.86,240.20 467.33,239.30 467.80,238.40 468.27,237.51 468.74,236.52 469.22,235.32 469.69,234.13 470.16,232.94 470.63,231.75 471.10,230.56 471.58,229.37 472.05,228.18 472.52,226.99 472.99,225.80 473.46,224.61 473.94,223.42 474.41,222.22 474.88,221.03 475.35,219.63 475.82,218.09 476.30,216.54 476.77,214.99 477.24,213.45 477.71,211.90 478.18,210.35 478.65,208.80 479.13,207.26 479.60,205.71 480.07,204.16 480.54,202.75 481.01,201.34 481.49,199.93 481.96,198.52 482.43,197.11 482.90,195.70 483.37,194.29 483.85,192.88 484.32,191.47 484.79,190.06 485.26,188.70 485.73,187.37 486.21,186.05 486.68,184.72 487.15,183.39 487.62,182.07 488.09,180.74 488.56,179.41 489.04,178.09 489.51,176.98 489.98,175.89 490.45,174.80 490.92,173.71 491.40,172.62 491.87,171.54 492.34,170.53 492.81,170.49 493.28,170.45 493.76,170.41 494.23,170.37 494.70,170.33 495.17,170.29 495.64,170.24 496.11,170.20 496.59,170.16 497.06,170.12 497.53,170.08 498.00,170.04 498.00,212.60 498.00,212.60 498.47,212.60 498.95,212.60 499.42,212.60 499.89,212.60 500.36,212.60 500.83,212.60 501.31,212.60 501.78,212.60 502.25,212.60 502.72,212.60 503.19,212.60 503.67,212.60 504.14,212.60 504.61,212.60 505.08,212.60 505.55,212.60 506.02,212.60 506.50,212.60 506.97,212.60 507.44,212.60 507.91,212.60 508.38,212.60 508.86,212.60 509.33,212.60" fill="none" stroke="#ff22ff" stroke-width="1.3" stroke-linejoin="round" />
</g>
<rect x="37.9" y="150.1" width="471.90" height="125.00" fill="none" stroke="#6e6e6e" stroke-width="1.3"/>
<path d="M37.90,275.1v-5.0M37.90,150.1v5.0M116.55,275.1v-5.0M116.55,150.1v5.0M195.20,275.1v-5.0M195.20,150.1v5.0M273.85,275.1v-5.0M273.85,150.1v5.0M352.50,275.1v-5.0M352.50,150.1v5.0M431.15,275.1v-5.0M431.15,150.1v5.0M509.80,275.1v-5.0M509.80,150.1v5.0M37.9,275.10h5.0M509.8,275.10h-5.0M37.9,243.85h5.0M509.8,243.85h-5.0M37.9,212.60h5.0M509.8,212.60h-5.0M37.9,181.35h5.0M509.8,181.35h-5.0M37.9,150.10h5.0M509.8,150.10h-5.0" stroke="#6e6e6e" stroke-width="1.1" fill="none"/>
<rect x="323.3" y="151.6" width="179.20" height="11.90" fill="#fff" stroke="#555" stroke-width="1"/>
<line x1="335.5" y1="157.55" x2="365.5" y2="157.55" stroke="#ff22ff" stroke-width="1.1"/>
<text x="379.6" y="162.79" font-size="9.0" class="lt">Calibration current in phase B</text>
<text x="40.30" y="286.70" text-anchor="middle" font-size="9.5" class="tl">0</text>
<text x="118.95" y="286.70" text-anchor="middle" font-size="9.5" class="tl">0.02</text>
<text x="197.60" y="286.70" text-anchor="middle" font-size="9.5" class="tl">0.04</text>
<text x="276.25" y="286.70" text-anchor="middle" font-size="9.5" class="tl">0.06</text>
<text x="354.90" y="286.70" text-anchor="middle" font-size="9.5" class="tl">0.08</text>
<text x="433.55" y="286.70" text-anchor="middle" font-size="9.5" class="tl">0.1</text>
<text x="512.20" y="286.70" text-anchor="middle" font-size="9.5" class="tl">0.12</text>
<text x="35.20" y="280.44" text-anchor="end" font-size="9.5" class="tl">−10</text>
<text x="35.20" y="249.19" text-anchor="end" font-size="9.5" class="tl">−5</text>
<text x="35.20" y="217.94" text-anchor="end" font-size="9.5" class="tl">0</text>
<text x="35.20" y="186.68" text-anchor="end" font-size="9.5" class="tl">5</text>
<text x="35.20" y="155.43" text-anchor="end" font-size="9.5" class="tl">10</text>
<clipPath id="cc"><rect x="39.0" y="306.3" width="472.20" height="125.40"/></clipPath>
<g clip-path="url(#cc)">
<polyline points="39.00,326.56 39.47,325.77 39.94,325.05 40.42,324.39 40.89,323.79 41.36,323.26 41.83,322.79 42.31,322.39 42.78,322.05 43.25,322.05 43.72,322.05 44.19,322.05 44.67,322.05 45.14,322.05 45.61,322.05 46.08,322.05 46.56,322.05 47.03,322.05 47.50,322.39 47.97,322.79 48.44,323.26 48.92,323.79 49.39,324.39 49.86,325.05 50.33,325.77 50.80,326.56 51.28,327.40 51.75,328.31 52.22,329.27 52.69,330.29 53.17,331.36 53.64,332.49 54.11,333.67 54.58,334.90 55.05,336.18 55.53,337.50 56.00,338.87 56.47,340.28 56.94,341.73 57.42,343.23 57.89,344.75 58.36,346.32 58.83,347.91 59.30,349.53 59.78,351.19 60.25,352.87 60.72,354.57 61.19,356.29 61.67,358.03 62.14,359.78 62.61,361.55 63.08,363.33 63.55,365.11 64.03,366.91 64.50,368.70 64.97,370.46 65.44,372.21 65.92,373.95 66.39,375.69 66.86,377.42 67.33,379.13 67.80,380.83 68.28,382.52 68.75,384.18 69.22,385.82 69.69,387.44 70.17,389.04 70.64,390.60 71.11,392.14 71.58,393.64 72.05,395.10 72.53,396.53 73.00,397.92 73.47,399.27 73.94,400.58 74.42,401.84 74.89,403.05 75.36,404.22 75.83,405.34 76.30,406.40 76.78,407.41 77.25,408.37 77.72,409.27 78.19,410.11 78.66,410.90 79.14,411.62 79.61,412.29 80.08,412.89 80.55,413.43 81.03,413.91 81.50,414.32 81.97,414.67 82.44,414.96 82.91,415.18 83.39,415.33 83.86,415.42 84.33,415.44 84.80,415.40 85.28,415.29 85.75,415.11 86.22,414.87 86.69,414.56 87.16,414.19 87.64,413.76 88.11,413.26 88.58,412.70 89.05,412.07 89.53,411.39 90.00,410.64 90.47,409.84 90.94,408.97 91.41,408.05 91.89,407.08 92.36,406.05 92.83,404.97 93.30,403.84 93.78,402.65 94.25,401.42 94.72,400.15 95.19,398.83 95.66,397.46 96.14,396.06 96.61,394.62 97.08,393.14 97.55,391.63 98.03,390.08 98.50,388.51 98.97,386.91 99.44,385.28 99.91,383.63 100.39,381.96 100.86,380.27 101.33,378.56 101.80,376.84 102.27,375.11 102.75,373.37 103.22,371.62 103.69,369.88 104.16,368.10 104.64,366.31 105.11,364.52 105.58,362.73 105.89,361.55 105.90,361.55 106.05,360.96 106.52,359.19 107.00,357.44 107.47,355.71 107.94,354.00 108.41,352.30 108.89,350.63 109.36,348.99 109.83,347.38 110.30,345.79 110.77,344.24 111.25,342.72 111.72,341.24 112.19,339.81 112.66,338.41 113.14,337.05 113.61,335.74 114.08,334.48 114.55,333.27 115.02,332.11 115.50,331.00 115.97,329.94 116.44,328.94 116.91,328.00 117.39,327.12 117.86,326.29 118.33,325.53 118.80,324.82 119.27,324.18 119.75,323.61 120.22,323.10 120.69,322.65 121.16,322.27 121.64,322.05 122.11,322.05 122.58,322.05 123.05,322.05 123.52,322.05 124.00,322.05 124.47,322.05 124.94,322.05 125.41,322.05 125.88,322.16 126.36,322.51 126.83,322.94 127.30,323.43 127.77,323.98 128.25,324.60 128.72,325.28 129.19,326.03 129.66,326.83 130.13,327.70 130.61,328.62 131.08,329.60 131.55,330.64 132.02,331.73 132.50,332.88 132.97,334.07 133.44,335.32 133.91,336.61 134.38,337.95 134.86,339.34 135.33,340.76 135.80,342.23 136.27,343.73 136.75,345.27 137.22,346.84 137.69,348.45 138.16,350.08 138.63,351.74 139.11,353.43 139.58,355.14 140.05,356.86 140.52,358.61 141.00,360.37 141.47,362.14 141.94,363.92 142.41,365.71 142.88,367.50 143.36,369.29 143.83,371.04 144.30,372.79 144.77,374.53 145.25,376.27 145.72,377.99 146.19,379.70 146.66,381.40 147.13,383.07 147.61,384.73 148.08,386.37 148.55,387.98 149.02,389.56 149.49,391.12 149.97,392.64 150.44,394.13 150.91,395.58 151.38,397.00 151.86,398.38 152.33,399.71 152.80,401.00 153.27,402.25 153.74,403.45 154.22,404.60 154.69,405.70 155.16,406.74 155.63,407.74 156.11,408.67 156.58,409.56 157.05,410.38 157.52,411.15 157.99,411.85 158.47,412.50 158.94,413.08 159.41,413.60 159.88,414.05 160.36,414.45 160.83,414.78 161.30,415.04 161.77,415.24 162.24,415.37 162.72,415.43 163.19,415.43 163.66,415.37 164.13,415.24 164.61,415.04 165.08,414.78 165.55,414.45 166.02,414.05 166.49,413.60 166.97,413.08 167.44,412.50 167.91,411.85 168.38,411.15 168.86,410.38 169.33,409.56 169.80,408.67 170.27,407.74 170.74,406.74 171.22,405.70 171.69,404.60 172.16,403.45 172.63,402.25 173.10,401.00 173.58,399.71 174.05,398.38 174.52,397.00 174.99,395.58 175.47,394.13 175.94,392.64 176.41,391.12 176.88,389.56 177.35,387.98 177.83,386.37 178.30,384.73 178.77,383.07 179.24,381.40 179.72,379.70 180.19,377.99 180.66,376.27 181.13,374.53 181.60,372.79 182.08,371.04 182.55,369.29 183.02,367.50 183.49,365.71 183.97,363.92 184.44,362.14 184.59,361.55 184.60,361.55 184.91,360.37 185.38,358.61 185.85,356.86 186.33,355.14 186.80,353.43 187.27,351.74 187.74,350.08 188.22,348.45 188.69,346.84 189.16,345.27 189.63,343.73 190.10,342.23 190.58,340.76 191.05,339.34 191.52,337.95 191.99,336.61 192.47,335.32 192.94,334.07 193.41,332.88 193.88,331.73 194.35,330.64 194.83,329.60 195.30,328.62 195.77,327.70 196.24,326.83 196.71,326.03 197.19,325.28 197.66,324.60 198.13,323.98 198.60,323.43 199.08,322.94 199.55,322.51 200.02,322.16 200.49,322.05 200.96,322.05 201.44,322.05 201.91,322.05 202.38,322.05 202.85,322.05 203.33,322.05 203.80,322.05 204.27,322.05 204.74,322.27 205.21,322.65 205.69,323.10 206.16,323.61 206.63,324.18 207.10,324.82 207.58,325.53 208.05,326.29 208.52,327.12 208.99,328.00 209.46,328.94 209.94,329.94 210.41,331.00 210.88,332.11 211.35,333.27 211.83,334.48 212.30,335.74 212.77,337.05 213.24,338.41 213.71,339.81 214.19,341.24 214.66,342.72 215.13,344.24 215.60,345.79 216.07,347.38 216.55,348.99 217.02,350.63 217.49,352.30 217.96,354.00 218.44,355.71 218.91,357.44 219.38,359.19 219.85,360.96 220.32,362.73 220.80,364.52 221.27,366.31 221.74,368.10 222.21,369.88 222.69,371.62 223.16,373.37 223.63,375.11 224.10,376.84 224.57,378.56 225.05,380.27 225.52,381.96 225.99,383.63 226.46,385.28 226.94,386.91 227.41,388.51 227.88,390.08 228.35,391.63 228.82,393.14 229.30,394.62 229.77,396.06 230.24,397.46 230.71,398.83 231.19,400.15 231.66,401.42 232.13,402.65 232.60,403.84 233.07,404.97 233.55,406.05 234.02,407.08 234.49,408.05 234.96,408.97 235.44,409.84 235.91,410.64 236.38,411.39 236.85,412.07 237.32,412.70 237.80,413.26 238.27,413.76 238.74,414.19 239.21,414.56 239.69,414.87 240.16,415.11 240.63,415.29 241.10,415.40 241.57,415.44 242.05,415.42 242.52,415.33 242.99,415.18 243.46,414.96 243.93,414.67 244.41,414.32 244.88,413.91 245.35,413.43 245.82,412.89 246.30,412.29 246.77,411.62 247.24,410.90 247.71,410.11 248.18,409.27 248.66,408.37 249.13,407.41 249.60,406.40 250.07,405.34 250.55,404.22 251.02,403.05 251.49,401.84 251.96,400.58 252.43,399.27 252.91,397.92 253.38,396.53 253.85,395.10 254.32,393.64 254.80,392.14 255.27,390.60 255.74,389.04 256.21,387.44 256.68,385.82 257.16,384.18 257.63,382.52 258.10,380.83 258.57,379.13 259.05,377.42 259.52,375.69 259.99,373.95 260.46,372.21 260.93,370.46 261.41,368.70 261.88,366.91 262.35,365.11 262.82,363.33 263.29,361.55 263.30,361.55 263.30,361.55 263.77,359.78 264.24,358.03 264.71,356.29 265.18,354.57 265.66,352.87 266.13,351.19 266.60,349.53 267.07,347.91 267.54,346.32 268.02,344.75 268.49,343.23 268.96,341.73 269.43,340.28 269.91,338.87 270.38,337.50 270.85,336.18 271.32,334.90 271.79,333.67 272.27,332.49 272.74,331.36 273.21,330.29 273.68,329.27 274.16,328.31 274.63,327.40 275.10,326.56 275.57,325.77 276.04,325.05 276.52,324.39 276.99,323.79 277.46,323.26 277.93,322.79 278.41,322.39 278.88,322.05 279.35,322.05 279.82,322.05 280.29,322.05 280.77,322.05 281.24,322.05 281.71,322.05 282.18,322.05 282.66,322.05 283.13,322.05 283.60,322.39 284.07,322.79 284.54,323.26 285.02,323.79 285.49,324.39 285.96,325.05 286.43,325.77 286.90,326.56 287.38,327.40 287.85,328.31 288.32,329.27 288.79,330.29 289.27,331.36 289.74,332.49 290.21,333.67 290.68,334.90 291.15,336.18 291.63,337.50 292.10,338.87 292.57,340.28 293.04,341.73 293.52,343.23 293.99,344.75 294.46,346.32 294.93,347.91 295.40,349.53 295.88,351.19 296.35,352.87 296.82,354.57 297.29,356.29 297.77,358.03 298.24,359.78 298.71,361.55 299.18,363.33 299.65,365.11 300.13,366.91 300.60,368.70 301.07,370.46 301.54,372.21 302.02,373.95 302.49,375.69 302.96,377.42 303.43,379.13 303.90,380.83 304.38,382.52 304.85,384.18 305.32,385.82 305.79,387.44 306.27,389.04 306.74,390.60 307.21,392.14 307.68,393.64 308.15,395.10 308.63,396.53 309.10,397.92 309.57,399.27 310.04,400.58 310.52,401.84 310.99,403.05 311.46,404.22 311.93,405.34 312.40,406.40 312.88,407.41 313.35,408.37 313.82,409.27 314.29,410.11 314.76,410.90 315.24,411.62 315.71,412.29 316.18,412.89 316.65,413.43 317.13,413.91 317.60,414.32 318.07,414.67 318.54,414.96 319.01,415.18 319.49,415.33 319.96,415.42 320.43,415.44 320.90,415.40 321.38,415.29 321.85,415.11 322.32,414.87 322.79,414.56 323.26,414.19 323.74,413.76 324.21,413.26 324.68,412.70 325.15,412.07 325.63,411.39 326.10,410.64 326.57,409.84 327.04,408.97 327.51,408.05 327.99,407.08 328.46,406.05 328.93,404.97 329.40,403.84 329.88,402.65 330.35,401.42 330.82,400.15 331.29,398.83 331.76,397.46 332.24,396.06 332.71,394.62 333.18,393.14 333.65,391.63 334.12,390.08 334.60,388.51 335.07,386.91 335.54,385.28 336.01,383.63 336.49,381.96 336.96,380.27 337.43,378.56 337.90,376.84 338.37,375.11 338.85,373.37 339.32,371.62 339.79,369.88 340.26,368.10 340.74,366.31 341.21,364.52 341.68,362.73 341.99,361.55 342.00,361.55 342.15,360.96 342.62,359.19 343.10,357.44 343.57,355.71 344.04,354.00 344.51,352.30 344.99,350.63 345.46,348.99 345.93,347.38 346.40,345.79 346.87,344.24 347.35,342.72 347.82,341.24 348.29,339.81 348.76,338.41 349.24,337.05 349.71,335.74 350.18,334.48 350.65,333.27 351.12,332.11 351.60,331.00 352.07,329.94 352.54,328.94 353.01,328.00 353.49,327.12 353.96,326.29 354.43,325.53 354.90,324.82 355.37,324.18 355.85,323.61 356.32,323.10 356.79,322.65 357.26,322.27 357.74,322.05 358.21,322.05 358.68,322.05 359.15,322.05 359.62,322.05 360.10,322.05 360.57,322.05 361.04,322.05 361.51,322.05 361.98,322.16 362.46,322.51 362.93,322.94 363.40,323.43 363.87,323.98 364.35,324.60 364.82,325.28 365.29,326.03 365.76,326.83 366.23,327.70 366.71,328.62 367.18,329.60 367.65,330.64 368.12,331.73 368.60,332.88 369.07,334.07 369.54,335.32 370.01,336.61 370.48,337.95 370.96,339.34 371.43,340.76 371.90,342.23 372.37,343.73 372.85,345.27 373.32,346.84 373.79,348.45 374.26,350.08 374.73,351.74 375.21,353.43 375.68,355.14 376.15,356.86 376.62,358.61 377.10,360.37 377.57,362.14 378.04,363.92 378.51,365.71 378.98,367.50 379.46,369.29 379.93,371.04 380.40,372.79 380.87,374.53 381.35,376.27 381.82,377.99 382.29,379.70 382.76,381.40 383.23,383.07 383.71,384.73 384.18,386.37 384.65,387.98 385.12,389.56 385.59,391.12 386.07,392.64 386.54,394.13 387.01,395.58 387.48,397.00 387.96,398.38 388.43,399.71 388.90,401.00 389.37,402.25 389.84,403.45 390.32,404.60 390.79,405.70 391.26,406.74 391.73,407.74 392.21,408.67 392.68,409.56 393.15,410.38 393.62,411.15 394.09,411.85 394.57,412.50 395.04,413.08 395.51,413.60 395.98,414.05 396.46,414.45 396.93,414.78 397.40,415.04 397.87,415.24 398.34,415.37 398.82,415.43 399.29,415.43 399.76,415.37 400.23,415.24 400.71,415.04 401.18,414.78 401.65,414.45 402.12,414.05 402.59,413.60 403.07,413.08 403.54,412.50 404.01,411.85 404.48,411.15 404.96,410.38 405.43,409.56 405.90,408.67 406.37,407.74 406.84,406.74 407.32,405.70 407.79,404.60 408.26,403.45 408.73,402.25 409.20,401.00 409.68,399.71 410.15,398.38 410.62,397.00 411.09,395.58 411.57,394.13 412.04,392.64 412.51,391.12 412.98,389.56 413.45,387.98 413.93,386.37 414.40,384.73 414.87,383.07 415.34,381.40 415.82,379.70 416.29,377.99 416.76,376.27 417.23,374.53 417.70,372.79 418.18,371.04 418.65,369.29 419.12,367.50 419.59,365.71 420.07,363.92 420.54,362.14 420.69,361.55 420.70,361.55 421.01,360.37 421.48,358.61 421.95,356.86 422.43,355.14 422.90,353.43 423.37,351.74 423.84,350.08 424.32,348.45 424.79,346.84 425.26,345.27 425.73,343.73 426.20,342.23 426.68,340.76 427.15,339.34 427.62,337.95 428.09,336.61 428.56,335.32 429.04,334.07 429.51,332.88 429.98,331.73 430.45,330.64 430.93,329.60 431.40,328.62 431.87,327.70 432.34,326.83 432.81,326.03 433.29,325.28 433.76,324.60 434.23,323.98 434.70,323.43 435.18,322.94 435.65,322.51 436.12,322.16 436.59,322.05 437.06,322.05 437.54,322.05 438.01,322.05 438.48,322.05 438.95,322.05 439.43,322.05 439.90,322.05 440.37,322.05 440.84,322.27 441.31,322.65 441.79,323.10 442.26,323.61 442.73,324.18 443.20,324.82 443.68,325.53 444.15,326.29 444.62,327.12 445.09,328.00 445.56,328.94 446.04,329.94 446.51,331.00 446.98,332.11 447.45,333.27 447.93,334.48 448.40,335.74 448.87,337.05 449.34,338.41 449.81,339.81 450.29,341.24 450.76,342.72 451.23,344.24 451.70,345.79 452.17,347.38 452.65,348.99 453.12,350.63 453.59,352.30 454.06,354.00 454.54,355.71 455.01,357.44 455.48,359.19 455.95,360.96 456.42,362.73 456.90,364.52 457.37,366.31 457.84,368.10 458.31,369.88 458.79,371.62 459.26,373.37 459.73,375.11 460.20,376.84 460.67,378.56 461.15,380.27 461.62,381.96 462.09,383.63 462.56,385.28 463.04,386.91 463.51,388.51 463.98,390.08 464.45,391.63 464.92,393.14 465.40,394.62 465.87,396.06 466.34,397.46 466.81,398.83 467.29,400.15 467.76,401.42 468.23,402.65 468.70,403.84 469.17,404.97 469.65,406.05 470.12,407.08 470.59,408.05 471.06,408.97 471.54,409.84 472.01,410.64 472.48,411.39 472.95,412.07 473.42,412.70 473.90,413.26 474.37,413.76 474.84,414.19 475.31,414.56 475.79,414.87 476.26,415.11 476.73,415.29 477.20,415.40 477.67,415.44 478.15,415.42 478.62,415.33 479.09,415.18 479.56,414.96 480.03,414.67 480.51,414.32 480.98,413.91 481.45,413.43 481.92,412.89 482.40,412.29 482.87,411.62 483.34,410.90 483.81,410.11 484.28,409.27 484.76,408.37 485.23,407.41 485.70,406.40 486.17,405.34 486.65,404.22 487.12,403.05 487.59,401.84 488.06,400.58 488.53,399.27 489.01,397.92 489.48,396.53 489.95,395.10 490.42,393.64 490.90,392.14 491.37,390.60 491.84,389.04 492.31,387.44 492.78,385.82 493.26,384.18 493.73,382.52 494.20,380.83 494.67,379.13 495.15,377.42 495.62,375.69 496.09,373.95 496.56,372.21 497.03,370.46 497.51,368.70 497.98,366.91 498.45,365.11 498.92,363.33 499.39,361.55 499.39,361.55 499.40,361.55 499.87,359.78 500.34,358.03 500.81,356.29 501.28,354.57 501.76,352.87 502.23,351.19 502.70,349.53 503.17,347.91 503.64,346.32 504.12,344.75 504.59,343.23 505.06,341.73 505.53,340.28 506.01,338.87 506.48,337.50 506.95,336.18 507.42,334.90 507.89,333.67 508.37,332.49 508.84,331.36 509.31,330.29 509.78,329.27 510.26,328.31 510.73,327.40" fill="none" stroke="#2c2cff" stroke-width="1.3" stroke-linejoin="round" />
<polyline points="39.00,403.27 39.47,402.11 39.94,400.90 40.42,399.64 40.89,398.34 41.36,397.00 41.83,395.62 42.31,394.20 42.78,392.75 43.25,391.26 43.72,389.74 44.19,388.19 44.67,386.62 45.14,385.02 45.61,383.39 46.08,381.75 46.56,380.08 47.03,378.41 47.50,376.71 47.97,375.01 48.44,373.30 48.92,371.58 49.39,369.86 49.86,368.14 50.33,366.42 50.80,364.70 51.28,362.99 51.75,361.29 52.22,359.59 52.69,357.92 53.17,356.25 53.64,354.61 54.11,352.98 54.58,351.38 55.05,349.81 55.53,348.26 56.00,346.74 56.47,345.25 56.94,343.80 57.42,342.38 57.89,341.00 58.36,339.66 58.83,338.36 59.30,337.10 59.78,335.89 60.25,334.73 60.72,333.61 61.19,332.55 61.67,331.54 62.14,330.58 62.61,329.67 63.08,328.83 63.55,328.03 64.03,327.30 64.50,326.63 64.97,326.01 65.44,325.46 65.92,324.97 66.39,324.54 66.86,324.28 67.33,324.28 67.80,324.28 68.28,324.28 68.75,324.28 69.22,324.28 69.69,324.28 70.17,324.28 70.64,324.28 71.11,324.28 71.58,324.28 72.05,324.41 72.53,324.82 73.00,325.29 73.47,325.82 73.94,326.42 74.42,327.07 74.89,327.78 75.36,328.56 75.83,329.38 76.30,330.27 76.78,331.21 77.25,332.21 77.72,333.25 78.19,334.35 78.66,335.50 79.14,336.69 79.61,337.93 80.08,339.22 80.55,340.55 81.03,341.91 81.50,343.32 81.97,344.76 82.44,346.24 82.91,347.75 83.39,349.29 83.86,350.85 84.33,352.45 84.80,354.07 85.28,355.70 85.75,357.36 86.22,359.03 86.69,360.72 87.16,362.42 87.64,364.13 88.11,365.84 88.58,367.56 89.05,369.29 89.53,371.01 90.00,372.73 90.47,374.44 90.94,376.15 91.41,377.84 91.89,379.53 92.36,381.19 92.83,382.85 93.30,384.48 93.78,386.09 94.25,387.67 94.72,389.23 95.19,390.76 95.66,392.26 96.14,393.72 96.61,395.15 97.08,396.55 97.55,397.90 98.03,399.21 98.50,400.48 98.97,401.71 99.44,402.89 99.91,404.02 100.39,405.10 100.86,406.13 101.33,407.11 101.80,408.03 102.27,408.90 102.75,409.71 103.22,410.46 103.69,411.16 104.16,411.79 104.64,412.36 105.11,412.87 105.58,413.32 105.89,413.59 105.90,429.73 106.05,429.90 106.52,430.06 107.00,430.21 107.47,430.37 107.94,430.53 108.41,430.68 108.89,430.84 109.36,430.99 109.83,431.15 110.30,431.30 110.77,431.46 111.25,431.60 111.72,431.37 112.19,431.08 112.66,430.72 113.14,429.88 113.61,428.93 114.08,427.93 114.55,426.87 115.02,425.75 115.50,424.57 115.97,423.34 116.44,422.05 116.91,420.71 117.39,419.32 117.86,417.88 118.33,416.39 118.80,414.65 119.27,412.77 119.75,410.83 120.22,408.86 120.69,406.85 121.16,404.80 121.64,402.72 122.11,400.60 122.58,398.45 123.05,396.28 123.52,394.08 124.00,391.85 124.47,389.60 124.94,387.33 125.41,385.04 125.88,382.73 126.36,380.35 126.83,377.96 127.30,375.56 127.77,373.15 128.25,370.75 128.72,368.34 129.19,365.94 129.66,363.54 130.13,361.14 130.61,358.76 131.08,356.39 131.55,354.07 132.02,351.78 132.50,349.52 132.97,347.27 133.44,345.05 133.91,342.85 134.38,340.68 134.86,338.54 135.33,336.44 135.80,334.36 136.27,332.33 136.75,330.37 137.22,328.62 137.69,326.92 138.16,325.27 138.63,323.66 139.11,322.09 139.58,320.58 140.05,319.12 140.52,317.71 141.00,316.35 141.47,315.15 141.94,314.07 142.41,313.06 142.88,312.10 143.36,311.20 143.83,310.37 144.30,309.59 144.77,308.88 145.25,308.23 145.72,307.86 146.19,307.61 146.66,307.37 147.13,307.22 147.61,307.06 148.08,306.91 148.55,306.76 149.02,306.61 149.49,306.45 149.97,306.30 150.44,306.15 150.91,306.25 151.38,306.53 151.86,306.94 152.33,307.76 152.80,308.65 153.27,309.60 153.74,310.60 154.22,311.67 154.69,312.79 155.16,313.97 155.63,315.20 156.11,316.48 156.58,317.82 157.05,319.30 157.52,320.86 157.99,322.46 158.47,324.10 158.94,325.79 159.41,327.52 159.88,329.29 160.36,331.09 160.83,332.94 161.30,334.81 161.77,336.72 162.24,338.76 162.72,341.01 163.19,343.29 163.66,345.60 164.13,347.92 164.61,350.27 165.08,352.62 165.55,354.99 166.02,357.38 166.49,359.77 166.97,362.17 167.44,364.57 167.91,366.97 168.38,369.38 168.86,371.78 169.33,374.18 169.80,376.56 170.27,378.94 170.74,381.30 171.22,383.65 171.69,385.98 172.16,388.29 172.63,390.57 173.10,392.81 173.58,394.94 174.05,397.04 174.52,399.10 174.99,401.14 175.47,403.13 175.94,405.09 176.41,407.01 176.88,408.89 177.35,410.73 177.83,412.52 178.30,414.26 178.77,415.82 179.24,417.26 179.72,418.66 180.19,420.00 180.66,421.28 181.13,422.51 181.60,423.69 182.08,424.80 182.55,425.86 183.02,426.85 183.49,427.79 183.97,428.66 184.44,429.47 184.59,429.72 184.60,413.59 184.91,413.72 185.38,413.72 185.85,413.72 186.33,413.72 186.80,413.72 187.27,413.72 187.74,413.72 188.22,413.72 188.69,413.72 189.16,413.72 189.63,413.72 190.10,413.59 190.58,413.18 191.05,412.71 191.52,412.18 191.99,411.58 192.47,410.93 192.94,410.22 193.41,409.44 193.88,408.62 194.35,407.73 194.83,406.79 195.30,405.79 195.77,404.75 196.24,403.65 196.71,402.50 197.19,401.31 197.66,400.07 198.13,398.78 198.60,397.45 199.08,396.09 199.55,394.68 200.02,393.24 200.49,391.76 200.96,390.25 201.44,388.71 201.91,387.15 202.38,385.55 202.85,383.93 203.33,382.30 203.80,380.64 204.27,378.97 204.74,377.28 205.21,375.58 205.69,373.87 206.16,372.16 206.63,370.44 207.10,368.71 207.58,366.99 208.05,365.27 208.52,363.56 208.99,361.85 209.46,360.16 209.94,358.47 210.41,356.81 210.88,355.15 211.35,353.52 211.83,351.91 212.30,350.33 212.77,348.77 213.24,347.24 213.71,345.74 214.19,344.28 214.66,342.85 215.13,341.45 215.60,340.10 216.07,338.79 216.55,337.52 217.02,336.29 217.49,335.11 217.96,333.98 218.44,332.90 218.91,331.87 219.38,330.89 219.85,329.97 220.32,329.10 220.80,328.29 221.27,327.54 221.74,326.84 222.21,326.21 222.69,325.64 223.16,325.13 223.63,324.68 224.10,324.29 224.57,324.28 225.05,324.28 225.52,324.28 225.99,324.28 226.46,324.28 226.94,324.28 227.41,324.28 227.88,324.28 228.35,324.28 228.82,324.28 229.30,324.29 229.77,324.68 230.24,325.13 230.71,325.64 231.19,326.21 231.66,326.84 232.13,327.54 232.60,328.29 233.07,329.10 233.55,329.97 234.02,330.89 234.49,331.87 234.96,332.90 235.44,333.98 235.91,335.11 236.38,336.29 236.85,337.52 237.32,338.79 237.80,340.10 238.27,341.45 238.74,342.85 239.21,344.28 239.69,345.74 240.16,347.24 240.63,348.77 241.10,350.33 241.57,351.91 242.05,353.52 242.52,355.15 242.99,356.81 243.46,358.47 243.93,360.16 244.41,361.85 244.88,363.56 245.35,365.27 245.82,366.99 246.30,368.71 246.77,370.44 247.24,372.16 247.71,373.87 248.18,375.58 248.66,377.28 249.13,378.97 249.60,380.64 250.07,382.30 250.55,383.93 251.02,385.55 251.49,387.15 251.96,388.71 252.43,390.25 252.91,391.76 253.38,393.24 253.85,394.68 254.32,396.09 254.80,397.45 255.27,398.78 255.74,400.07 256.21,401.31 256.68,402.50 257.16,403.65 257.63,404.75 258.10,405.79 258.57,406.79 259.05,407.73 259.52,408.62 259.99,409.44 260.46,410.22 260.93,410.93 261.41,411.58 261.88,412.18 262.35,412.71 262.82,413.18 263.29,413.59 263.30,429.72 263.30,429.73 263.77,430.01 264.24,430.16 264.71,430.32 265.18,430.47 265.66,430.63 266.13,430.78 266.60,430.94 267.07,431.09 267.54,431.25 268.02,431.40 268.49,431.56 268.96,431.46 269.43,431.18 269.91,430.85 270.38,430.18 270.85,429.26 271.32,428.27 271.79,427.23 272.27,426.13 272.74,424.97 273.21,423.76 273.68,422.49 274.16,421.17 274.63,419.79 275.10,418.37 275.57,416.90 276.04,415.27 276.52,413.40 276.99,411.48 277.46,409.52 277.93,407.53 278.41,405.49 278.88,403.42 279.35,401.31 279.82,399.17 280.29,397.01 280.77,394.81 281.24,392.59 281.71,390.35 282.18,388.09 282.66,385.81 283.13,383.51 283.60,381.14 284.07,378.75 284.54,376.36 285.02,373.96 285.49,371.55 285.96,369.14 286.43,366.74 286.90,364.33 287.38,361.94 287.85,359.55 288.32,357.17 288.79,354.83 289.27,352.54 289.74,350.27 290.21,348.02 290.68,345.78 291.15,343.58 291.63,341.40 292.10,339.25 292.57,337.13 293.04,335.05 293.52,333.00 293.99,330.99 294.46,329.20 294.93,327.49 295.40,325.81 295.88,324.19 296.35,322.61 296.82,321.08 297.29,319.60 297.77,318.17 298.24,316.80 298.71,315.52 299.18,314.43 299.65,313.39 300.13,312.41 300.60,311.50 301.07,310.64 301.54,309.84 302.02,309.11 302.49,308.44 302.96,307.94 303.43,307.69 303.90,307.45 304.38,307.27 304.85,307.12 305.32,306.96 305.79,306.81 306.27,306.66 306.74,306.50 307.21,306.35 307.68,306.20 308.15,306.18 308.63,306.43 309.10,306.75 309.57,307.48 310.04,308.35 310.52,309.28 310.99,310.26 311.46,311.31 311.93,312.41 312.40,313.57 312.88,314.78 313.35,316.05 313.82,317.37 314.29,318.80 314.76,320.33 315.24,321.92 315.71,323.55 316.18,325.22 316.65,326.94 317.13,328.69 317.60,330.49 318.07,332.32 318.54,334.18 319.01,336.08 319.49,338.01 319.96,340.26 320.43,342.53 320.90,344.83 321.38,347.15 321.85,349.48 322.32,351.84 322.79,354.20 323.26,356.58 323.74,358.97 324.21,361.37 324.68,363.77 325.15,366.17 325.63,368.58 326.10,370.98 326.57,373.38 327.04,375.77 327.51,378.15 327.99,380.52 328.46,382.87 328.93,385.21 329.40,387.52 329.88,389.82 330.35,392.09 330.82,394.23 331.29,396.34 331.76,398.42 332.24,400.46 332.71,402.47 333.18,404.44 333.65,406.38 334.12,408.27 334.60,410.12 335.07,411.92 335.54,413.68 336.01,415.33 336.49,416.79 336.96,418.20 337.43,419.56 337.90,420.86 338.37,422.11 338.85,423.30 339.32,424.44 339.79,425.51 340.26,426.53 340.74,427.48 341.21,428.38 341.68,429.21 341.99,429.72 342.00,413.59 342.15,413.71 342.62,413.72 343.10,413.72 343.57,413.72 344.04,413.72 344.51,413.72 344.99,413.72 345.46,413.72 345.93,413.72 346.40,413.72 346.87,413.72 347.35,413.71 347.82,413.32 348.29,412.87 348.76,412.36 349.24,411.79 349.71,411.16 350.18,410.46 350.65,409.71 351.12,408.90 351.60,408.03 352.07,407.11 352.54,406.13 353.01,405.10 353.49,404.02 353.96,402.89 354.43,401.71 354.90,400.48 355.37,399.21 355.85,397.90 356.32,396.55 356.79,395.15 357.26,393.72 357.74,392.26 358.21,390.76 358.68,389.23 359.15,387.67 359.62,386.09 360.10,384.48 360.57,382.85 361.04,381.19 361.51,379.53 361.98,377.84 362.46,376.15 362.93,374.44 363.40,372.73 363.87,371.01 364.35,369.29 364.82,367.56 365.29,365.84 365.76,364.13 366.23,362.42 366.71,360.72 367.18,359.03 367.65,357.36 368.12,355.70 368.60,354.07 369.07,352.45 369.54,350.85 370.01,349.29 370.48,347.75 370.96,346.24 371.43,344.76 371.90,343.32 372.37,341.91 372.85,340.55 373.32,339.22 373.79,337.93 374.26,336.69 374.73,335.50 375.21,334.35 375.68,333.25 376.15,332.21 376.62,331.21 377.10,330.27 377.57,329.38 378.04,328.56 378.51,327.78 378.98,327.07 379.46,326.42 379.93,325.82 380.40,325.29 380.87,324.82 381.35,324.41 381.82,324.28 382.29,324.28 382.76,324.28 383.23,324.28 383.71,324.28 384.18,324.28 384.65,324.28 385.12,324.28 385.59,324.28 386.07,324.28 386.54,324.28 387.01,324.54 387.48,324.97 387.96,325.46 388.43,326.01 388.90,326.63 389.37,327.30 389.84,328.03 390.32,328.83 390.79,329.67 391.26,330.58 391.73,331.54 392.21,332.55 392.68,333.61 393.15,334.73 393.62,335.89 394.09,337.10 394.57,338.36 395.04,339.66 395.51,341.00 395.98,342.38 396.46,343.80 396.93,345.25 397.40,346.74 397.87,348.26 398.34,349.81 398.82,351.38 399.29,352.98 399.76,354.61 400.23,356.25 400.71,357.92 401.18,359.59 401.65,361.29 402.12,362.99 402.59,364.70 403.07,366.42 403.54,368.14 404.01,369.86 404.48,371.58 404.96,373.30 405.43,375.01 405.90,376.71 406.37,378.41 406.84,380.08 407.32,381.75 407.79,383.39 408.26,385.02 408.73,386.62 409.20,388.19 409.68,389.74 410.15,391.26 410.62,392.75 411.09,394.20 411.57,395.62 412.04,397.00 412.51,398.34 412.98,399.64 413.45,400.90 413.93,402.11 414.40,403.27 414.87,404.39 415.34,405.45 415.82,406.46 416.29,407.42 416.76,408.33 417.23,409.17 417.70,409.97 418.18,410.70 418.65,411.37 419.12,411.99 419.59,412.54 420.07,413.03 420.54,413.46 420.69,413.59 420.70,429.73 421.01,429.96 421.48,430.11 421.95,430.27 422.43,430.42 422.90,430.58 423.37,430.73 423.84,430.89 424.32,431.04 424.79,431.20 425.26,431.35 425.73,431.51 426.20,431.53 426.68,431.28 427.15,430.97 427.62,430.47 428.09,429.57 428.56,428.61 429.04,427.58 429.51,426.50 429.98,425.36 430.45,424.17 430.93,422.92 431.40,421.61 431.87,420.26 432.34,418.85 432.81,417.39 433.29,415.89 433.76,414.03 434.23,412.13 434.70,410.18 435.18,408.20 435.65,406.17 436.12,404.11 436.59,402.02 437.06,399.89 437.54,397.73 438.01,395.55 438.48,393.34 438.95,391.10 439.43,388.85 439.90,386.57 440.37,384.28 440.84,381.93 441.31,379.55 441.79,377.16 442.26,374.76 442.73,372.35 443.20,369.94 443.68,367.54 444.15,365.13 444.62,362.74 445.09,360.35 445.56,357.97 446.04,355.60 446.51,353.30 446.98,351.02 447.45,348.76 447.93,346.53 448.40,344.31 448.87,342.12 449.34,339.96 449.81,337.84 450.29,335.74 450.76,333.68 451.23,331.66 451.70,329.78 452.17,328.05 452.65,326.37 453.12,324.72 453.59,323.13 454.06,321.58 454.54,320.09 455.01,318.64 455.48,317.25 455.95,315.91 456.42,314.78 456.90,313.73 457.37,312.73 457.84,311.80 458.31,310.92 458.79,310.10 459.26,309.35 459.73,308.65 460.20,308.02 460.67,307.77 461.15,307.53 461.62,307.32 462.09,307.17 462.56,307.01 463.04,306.86 463.51,306.71 463.98,306.56 464.45,306.40 464.92,306.25 465.40,306.10 465.87,306.34 466.34,306.64 466.81,307.21 467.29,308.05 467.76,308.96 468.23,309.93 468.70,310.95 469.17,312.04 469.65,313.18 470.12,314.37 470.59,315.62 471.06,316.92 471.54,318.30 472.01,319.82 472.48,321.38 472.95,323.00 473.42,324.66 473.90,326.36 474.37,328.10 474.84,329.89 475.31,331.70 475.79,333.56 476.26,335.45 476.73,337.37 477.20,339.51 477.67,341.77 478.15,344.06 478.62,346.37 479.09,348.70 479.56,351.05 480.03,353.41 480.51,355.79 480.98,358.17 481.45,360.57 481.92,362.97 482.40,365.37 482.87,367.77 483.34,370.18 483.81,372.58 484.28,374.97 484.76,377.36 485.23,379.73 485.70,382.09 486.17,384.43 486.65,386.75 487.12,389.05 487.59,391.33 488.06,393.52 488.53,395.64 489.01,397.73 489.48,399.78 489.95,401.81 490.42,403.79 490.90,405.74 491.37,407.64 491.84,409.51 492.31,411.33 492.78,413.10 493.26,414.83 493.73,416.31 494.20,417.73 494.67,419.11 495.15,420.43 495.62,421.70 496.09,422.91 496.56,424.07 497.03,425.16 497.51,426.20 497.98,427.17 498.45,428.08 498.92,428.94 499.39,429.72 499.39,413.59 499.40,413.59 499.87,413.72 500.34,413.72 500.81,413.72 501.28,413.72 501.76,413.72 502.23,413.72 502.70,413.72 503.17,413.72 503.64,413.72 504.12,413.72 504.59,413.72 505.06,413.46 505.53,413.03 506.01,412.54 506.48,411.99 506.95,411.37 507.42,410.70 507.89,409.97 508.37,409.17 508.84,408.33 509.31,407.42 509.78,406.46 510.26,405.45 510.73,404.39" fill="none" stroke="#ff2626" stroke-width="1.3" stroke-linejoin="round" />
<polyline points="39.00,375.31 39.47,376.81 39.94,378.29 40.42,379.77 40.89,381.22 41.36,382.66 41.83,384.08 42.31,385.48 42.78,386.86 43.25,388.21 43.72,389.53 44.19,390.83 44.67,392.09 45.14,393.32 45.61,394.52 46.08,395.68 46.56,396.80 47.03,397.88 47.50,398.92 47.97,399.92 48.44,400.87 48.92,401.78 49.39,402.64 49.86,403.46 50.33,404.22 50.80,404.94 51.28,405.61 51.75,406.22 52.22,406.78 52.69,407.28 53.17,407.74 53.64,408.13 54.11,408.47 54.58,408.76 55.05,408.99 55.53,409.16 56.00,409.27 56.47,409.33 56.94,409.33 57.42,409.27 57.89,409.16 58.36,408.99 58.83,408.76 59.30,408.47 59.78,408.13 60.25,407.74 60.72,407.28 61.19,406.78 61.67,406.22 62.14,405.61 62.61,404.94 63.08,404.22 63.55,403.46 64.03,402.64 64.50,401.78 64.97,400.87 65.44,399.92 65.92,398.92 66.39,397.88 66.86,396.80 67.33,395.68 67.80,394.52 68.28,393.32 68.75,392.09 69.22,390.83 69.69,389.53 70.17,388.21 70.64,386.86 71.11,385.48 71.58,384.08 72.05,382.66 72.53,381.22 73.00,379.77 73.47,378.29 73.94,376.81 74.42,375.31 74.89,373.80 75.36,372.29 75.83,370.77 76.30,369.25 76.78,367.69 77.25,366.11 77.72,364.54 78.19,362.98 78.66,361.43 79.14,359.88 79.61,358.35 80.08,356.83 80.55,355.34 81.03,353.86 81.50,352.40 81.97,350.97 82.44,349.56 82.91,348.18 83.39,346.82 83.86,345.50 84.33,344.22 84.80,342.97 85.28,341.75 85.75,340.58 86.22,339.44 86.69,338.35 87.16,337.30 87.64,336.30 88.11,335.34 88.58,334.43 89.05,333.57 89.53,332.76 90.00,332.00 90.47,331.29 90.94,330.64 91.41,330.04 91.89,329.50 92.36,329.01 92.83,328.58 93.30,328.21 93.78,328.17 94.25,328.17 94.72,328.17 95.19,328.17 95.66,328.17 96.14,328.17 96.61,328.17 97.08,328.17 97.55,328.17 98.03,328.17 98.50,328.17 98.97,328.32 99.44,328.72 99.91,329.17 100.39,329.67 100.86,330.23 101.33,330.85 101.80,331.52 102.27,332.24 102.75,333.02 103.22,333.85 103.69,334.73 104.16,335.65 104.64,336.63 105.11,337.65 105.58,338.71 105.89,339.44 105.90,339.44 106.05,339.82 106.52,340.97 107.00,342.15 107.47,343.38 107.94,344.64 108.41,345.94 108.89,347.27 109.36,348.63 109.83,350.02 110.30,351.44 110.77,352.88 111.25,354.35 111.72,355.83 112.19,357.34 112.66,358.86 113.14,360.39 113.61,361.94 114.08,363.50 114.55,365.07 115.02,366.64 115.50,368.21 115.97,369.76 116.44,371.28 116.91,372.80 117.39,374.31 117.86,375.81 118.33,377.30 118.80,378.79 119.27,380.25 119.75,381.71 120.22,383.14 120.69,384.55 121.16,385.94 121.64,387.31 122.11,388.65 122.58,389.97 123.05,391.25 123.52,392.50 124.00,393.72 124.47,394.91 124.94,396.05 125.41,397.16 125.88,398.23 126.36,399.26 126.83,400.24 127.30,401.18 127.77,402.07 128.25,402.92 128.72,403.72 129.19,404.47 129.66,405.17 130.13,405.82 130.61,406.41 131.08,406.95 131.55,407.44 132.02,407.87 132.50,408.25 132.97,408.57 133.44,408.84 133.91,409.05 134.38,409.20 134.86,409.30 135.33,409.34 135.80,409.32 136.27,409.24 136.75,409.11 137.22,408.92 137.69,408.67 138.16,408.37 138.63,408.01 139.11,407.59 139.58,407.12 140.05,406.60 140.52,406.02 141.00,405.39 141.47,404.71 141.94,403.98 142.41,403.19 142.88,402.36 143.36,401.48 143.83,400.56 144.30,399.59 144.77,398.58 145.25,397.52 145.72,396.43 146.19,395.29 146.66,394.12 147.13,392.91 147.61,391.67 148.08,390.40 148.55,389.10 149.02,387.76 149.49,386.40 149.97,385.02 150.44,383.61 150.91,382.19 151.38,380.74 151.86,379.28 152.33,377.80 152.80,376.31 153.27,374.81 153.74,373.30 154.22,371.79 154.69,370.27 155.16,368.74 155.63,367.16 156.11,365.59 156.58,364.02 157.05,362.46 157.52,360.91 157.99,359.37 158.47,357.84 158.94,356.33 159.41,354.84 159.88,353.37 160.36,351.92 160.83,350.49 161.30,349.09 161.77,347.72 162.24,346.38 162.72,345.07 163.19,343.80 163.66,342.56 164.13,341.36 164.61,340.20 165.08,339.07 165.55,338.00 166.02,336.96 166.49,335.97 166.97,335.03 167.44,334.14 167.91,333.29 168.38,332.50 168.86,331.76 169.33,331.07 169.80,330.43 170.27,329.85 170.74,329.33 171.22,328.86 171.69,328.45 172.16,328.17 172.63,328.17 173.10,328.17 173.58,328.17 174.05,328.17 174.52,328.17 174.99,328.17 175.47,328.17 175.94,328.17 176.41,328.17 176.88,328.17 177.35,328.17 177.83,328.45 178.30,328.86 178.77,329.33 179.24,329.85 179.72,330.43 180.19,331.07 180.66,331.76 181.13,332.50 181.60,333.29 182.08,334.14 182.55,335.03 183.02,335.97 183.49,336.96 183.97,338.00 184.44,339.07 184.59,339.44 184.60,339.44 184.91,340.20 185.38,341.36 185.85,342.56 186.33,343.80 186.80,345.07 187.27,346.38 187.74,347.72 188.22,349.09 188.69,350.49 189.16,351.92 189.63,353.37 190.10,354.84 190.58,356.33 191.05,357.84 191.52,359.37 191.99,360.91 192.47,362.46 192.94,364.02 193.41,365.59 193.88,367.16 194.35,368.74 194.83,370.27 195.30,371.79 195.77,373.30 196.24,374.81 196.71,376.31 197.19,377.80 197.66,379.28 198.13,380.74 198.60,382.19 199.08,383.61 199.55,385.02 200.02,386.40 200.49,387.76 200.96,389.10 201.44,390.40 201.91,391.67 202.38,392.91 202.85,394.12 203.33,395.29 203.80,396.43 204.27,397.52 204.74,398.58 205.21,399.59 205.69,400.56 206.16,401.48 206.63,402.36 207.10,403.19 207.58,403.98 208.05,404.71 208.52,405.39 208.99,406.02 209.46,406.60 209.94,407.12 210.41,407.59 210.88,408.01 211.35,408.37 211.83,408.67 212.30,408.92 212.77,409.11 213.24,409.24 213.71,409.32 214.19,409.34 214.66,409.30 215.13,409.20 215.60,409.05 216.07,408.84 216.55,408.57 217.02,408.25 217.49,407.87 217.96,407.44 218.44,406.95 218.91,406.41 219.38,405.82 219.85,405.17 220.32,404.47 220.80,403.72 221.27,402.92 221.74,402.07 222.21,401.18 222.69,400.24 223.16,399.26 223.63,398.23 224.10,397.16 224.57,396.05 225.05,394.91 225.52,393.72 225.99,392.50 226.46,391.25 226.94,389.97 227.41,388.65 227.88,387.31 228.35,385.94 228.82,384.55 229.30,383.14 229.77,381.71 230.24,380.25 230.71,378.79 231.19,377.30 231.66,375.81 232.13,374.31 232.60,372.80 233.07,371.28 233.55,369.76 234.02,368.21 234.49,366.64 234.96,365.07 235.44,363.50 235.91,361.94 236.38,360.39 236.85,358.86 237.32,357.34 237.80,355.83 238.27,354.35 238.74,352.88 239.21,351.44 239.69,350.02 240.16,348.63 240.63,347.27 241.10,345.94 241.57,344.64 242.05,343.38 242.52,342.15 242.99,340.97 243.46,339.82 243.93,338.71 244.41,337.65 244.88,336.63 245.35,335.65 245.82,334.73 246.30,333.85 246.77,333.02 247.24,332.24 247.71,331.52 248.18,330.85 248.66,330.23 249.13,329.67 249.60,329.17 250.07,328.72 250.55,328.32 251.02,328.17 251.49,328.17 251.96,328.17 252.43,328.17 252.91,328.17 253.38,328.17 253.85,328.17 254.32,328.17 254.80,328.17 255.27,328.17 255.74,328.17 256.21,328.21 256.68,328.58 257.16,329.01 257.63,329.50 258.10,330.04 258.57,330.64 259.05,331.29 259.52,332.00 259.99,332.76 260.46,333.57 260.93,334.43 261.41,335.34 261.88,336.30 262.35,337.30 262.82,338.35 263.29,339.44 263.30,339.44 263.30,339.44 263.77,340.58 264.24,341.75 264.71,342.97 265.18,344.22 265.66,345.50 266.13,346.82 266.60,348.18 267.07,349.56 267.54,350.97 268.02,352.40 268.49,353.86 268.96,355.34 269.43,356.83 269.91,358.35 270.38,359.88 270.85,361.43 271.32,362.98 271.79,364.54 272.27,366.11 272.74,367.69 273.21,369.25 273.68,370.77 274.16,372.29 274.63,373.80 275.10,375.31 275.57,376.81 276.04,378.29 276.52,379.77 276.99,381.22 277.46,382.66 277.93,384.08 278.41,385.48 278.88,386.86 279.35,388.21 279.82,389.53 280.29,390.83 280.77,392.09 281.24,393.32 281.71,394.52 282.18,395.68 282.66,396.80 283.13,397.88 283.60,398.92 284.07,399.92 284.54,400.87 285.02,401.78 285.49,402.64 285.96,403.46 286.43,404.22 286.90,404.94 287.38,405.61 287.85,406.22 288.32,406.78 288.79,407.28 289.27,407.74 289.74,408.13 290.21,408.47 290.68,408.76 291.15,408.99 291.63,409.16 292.10,409.27 292.57,409.33 293.04,409.33 293.52,409.27 293.99,409.16 294.46,408.99 294.93,408.76 295.40,408.47 295.88,408.13 296.35,407.74 296.82,407.28 297.29,406.78 297.77,406.22 298.24,405.61 298.71,404.94 299.18,404.22 299.65,403.46 300.13,402.64 300.60,401.78 301.07,400.87 301.54,399.92 302.02,398.92 302.49,397.88 302.96,396.80 303.43,395.68 303.90,394.52 304.38,393.32 304.85,392.09 305.32,390.83 305.79,389.53 306.27,388.21 306.74,386.86 307.21,385.48 307.68,384.08 308.15,382.66 308.63,381.22 309.10,379.77 309.57,378.29 310.04,376.81 310.52,375.31 310.99,373.80 311.46,372.29 311.93,370.77 312.40,369.25 312.88,367.69 313.35,366.11 313.82,364.54 314.29,362.98 314.76,361.43 315.24,359.88 315.71,358.35 316.18,356.83 316.65,355.34 317.13,353.86 317.60,352.40 318.07,350.97 318.54,349.56 319.01,348.18 319.49,346.82 319.96,345.50 320.43,344.22 320.90,342.97 321.38,341.75 321.85,340.58 322.32,339.44 322.79,338.35 323.26,337.30 323.74,336.30 324.21,335.34 324.68,334.43 325.15,333.57 325.63,332.76 326.10,332.00 326.57,331.29 327.04,330.64 327.51,330.04 327.99,329.50 328.46,329.01 328.93,328.58 329.40,328.21 329.88,328.17 330.35,328.17 330.82,328.17 331.29,328.17 331.76,328.17 332.24,328.17 332.71,328.17 333.18,328.17 333.65,328.17 334.12,328.17 334.60,328.17 335.07,328.32 335.54,328.72 336.01,329.17 336.49,329.67 336.96,330.23 337.43,330.85 337.90,331.52 338.37,332.24 338.85,333.02 339.32,333.85 339.79,334.73 340.26,335.65 340.74,336.63 341.21,337.65 341.68,338.71 341.99,339.44 342.00,339.44 342.15,339.82 342.62,340.97 343.10,342.15 343.57,343.38 344.04,344.64 344.51,345.94 344.99,347.27 345.46,348.63 345.93,350.02 346.40,351.44 346.87,352.88 347.35,354.35 347.82,355.83 348.29,357.34 348.76,358.86 349.24,360.39 349.71,361.94 350.18,363.50 350.65,365.07 351.12,366.64 351.60,368.21 352.07,369.76 352.54,371.28 353.01,372.80 353.49,374.31 353.96,375.81 354.43,377.30 354.90,378.79 355.37,380.25 355.85,381.71 356.32,383.14 356.79,384.55 357.26,385.94 357.74,387.31 358.21,388.65 358.68,389.97 359.15,391.25 359.62,392.50 360.10,393.72 360.57,394.91 361.04,396.05 361.51,397.16 361.98,398.23 362.46,399.26 362.93,400.24 363.40,401.18 363.87,402.07 364.35,402.92 364.82,403.72 365.29,404.47 365.76,405.17 366.23,405.82 366.71,406.41 367.18,406.95 367.65,407.44 368.12,407.87 368.60,408.25 369.07,408.57 369.54,408.84 370.01,409.05 370.48,409.20 370.96,409.30 371.43,409.34 371.90,409.32 372.37,409.24 372.85,409.11 373.32,408.92 373.79,408.67 374.26,408.37 374.73,408.01 375.21,407.59 375.68,407.12 376.15,406.60 376.62,406.02 377.10,405.39 377.57,404.71 378.04,403.98 378.51,403.19 378.98,402.36 379.46,401.48 379.93,400.56 380.40,399.59 380.87,398.58 381.35,397.52 381.82,396.43 382.29,395.29 382.76,394.12 383.23,392.91 383.71,391.67 384.18,390.40 384.65,389.10 385.12,387.76 385.59,386.40 386.07,385.02 386.54,383.61 387.01,382.19 387.48,380.74 387.96,379.28 388.43,377.80 388.90,376.31 389.37,374.81 389.84,373.30 390.32,371.79 390.79,370.27 391.26,368.74 391.73,367.16 392.21,365.59 392.68,364.02 393.15,362.46 393.62,360.91 394.09,359.37 394.57,357.84 395.04,356.33 395.51,354.84 395.98,353.37 396.46,351.92 396.93,350.49 397.40,349.09 397.87,347.72 398.34,346.38 398.82,345.07 399.29,343.80 399.76,342.56 400.23,341.36 400.71,340.20 401.18,339.07 401.65,338.00 402.12,336.96 402.59,335.97 403.07,335.03 403.54,334.14 404.01,333.29 404.48,332.50 404.96,331.76 405.43,331.07 405.90,330.43 406.37,329.85 406.84,329.33 407.32,328.86 407.79,328.45 408.26,328.17 408.73,328.17 409.20,328.17 409.68,328.17 410.15,328.17 410.62,328.17 411.09,328.17 411.57,328.17 412.04,328.17 412.51,328.17 412.98,328.17 413.45,328.17 413.93,328.45 414.40,328.86 414.87,329.33 415.34,329.85 415.82,330.43 416.29,331.07 416.76,331.76 417.23,332.50 417.70,333.29 418.18,334.14 418.65,335.03 419.12,335.97 419.59,336.96 420.07,338.00 420.54,339.07 420.69,339.44 420.70,339.44 421.01,340.20 421.48,341.36 421.95,342.56 422.43,343.80 422.90,345.07 423.37,346.38 423.84,347.72 424.32,349.09 424.79,350.49 425.26,351.92 425.73,353.37 426.20,354.84 426.68,356.33 427.15,357.84 427.62,359.37 428.09,360.91 428.56,362.46 429.04,364.02 429.51,365.59 429.98,367.16 430.45,368.74 430.93,370.27 431.40,371.79 431.87,373.30 432.34,374.81 432.81,376.31 433.29,377.80 433.76,379.28 434.23,380.74 434.70,382.19 435.18,383.61 435.65,385.02 436.12,386.40 436.59,387.76 437.06,389.10 437.54,390.40 438.01,391.67 438.48,392.91 438.95,394.12 439.43,395.29 439.90,396.43 440.37,397.52 440.84,398.58 441.31,399.59 441.79,400.56 442.26,401.48 442.73,402.36 443.20,403.19 443.68,403.98 444.15,404.71 444.62,405.39 445.09,406.02 445.56,406.60 446.04,407.12 446.51,407.59 446.98,408.01 447.45,408.37 447.93,408.67 448.40,408.92 448.87,409.11 449.34,409.24 449.81,409.32 450.29,409.34 450.76,409.30 451.23,409.20 451.70,409.05 452.17,408.84 452.65,408.57 453.12,408.25 453.59,407.87 454.06,407.44 454.54,406.95 455.01,406.41 455.48,405.82 455.95,405.17 456.42,404.47 456.90,403.72 457.37,402.92 457.84,402.07 458.31,401.18 458.79,400.24 459.26,399.26 459.73,398.23 460.20,397.16 460.67,396.05 461.15,394.91 461.62,393.72 462.09,392.50 462.56,391.25 463.04,389.97 463.51,388.65 463.98,387.31 464.45,385.94 464.92,384.55 465.40,383.14 465.87,381.71 466.34,380.25 466.81,378.79 467.29,377.30 467.76,375.81 468.23,374.31 468.70,372.80 469.17,371.28 469.65,369.76 470.12,368.21 470.59,366.64 471.06,365.07 471.54,363.50 472.01,361.94 472.48,360.39 472.95,358.86 473.42,357.34 473.90,355.83 474.37,354.35 474.84,352.88 475.31,351.44 475.79,350.02 476.26,348.63 476.73,347.27 477.20,345.94 477.67,344.64 478.15,343.38 478.62,342.15 479.09,340.97 479.56,339.82 480.03,338.71 480.51,337.65 480.98,336.63 481.45,335.65 481.92,334.73 482.40,333.85 482.87,333.02 483.34,332.24 483.81,331.52 484.28,330.85 484.76,330.23 485.23,329.67 485.70,329.17 486.17,328.72 486.65,328.32 487.12,328.17 487.59,328.17 488.06,328.17 488.53,328.17 489.01,328.17 489.48,328.17 489.95,328.17 490.42,328.17 490.90,328.17 491.37,328.17 491.84,328.17 492.31,328.21 492.78,328.58 493.26,329.01 493.73,329.50 494.20,330.04 494.67,330.64 495.15,331.29 495.62,332.00 496.09,332.76 496.56,333.57 497.03,334.43 497.51,335.34 497.98,336.30 498.45,337.30 498.92,338.35 499.39,339.44 499.39,339.44 499.40,339.44 499.87,340.58 500.34,341.75 500.81,342.97 501.28,344.22 501.76,345.50 502.23,346.82 502.70,348.18 503.17,349.56 503.64,350.97 504.12,352.40 504.59,353.86 505.06,355.34 505.53,356.83 506.01,358.35 506.48,359.88 506.95,361.43 507.42,362.98 507.89,364.54 508.37,366.11 508.84,367.69 509.31,369.25 509.78,370.77 510.26,372.29 510.73,373.80" fill="none" stroke="#222" stroke-width="1.3" stroke-linejoin="round" />
</g>
<rect x="39.0" y="306.3" width="472.20" height="125.40" fill="none" stroke="#6e6e6e" stroke-width="1.3"/>
<path d="M39.00,431.7v-5.0M39.00,306.3v5.0M117.70,431.7v-5.0M117.70,306.3v5.0M196.40,431.7v-5.0M196.40,306.3v5.0M275.10,431.7v-5.0M275.10,306.3v5.0M353.80,431.7v-5.0M353.80,306.3v5.0M432.50,431.7v-5.0M432.50,306.3v5.0M511.20,431.7v-5.0M511.20,306.3v5.0M39.0,427.33h5.0M511.2,427.33h-5.0M39.0,407.88h5.0M511.2,407.88h-5.0M39.0,388.44h5.0M511.2,388.44h-5.0M39.0,369.00h5.0M511.2,369.00h-5.0M39.0,349.56h5.0M511.2,349.56h-5.0M39.0,330.12h5.0M511.2,330.12h-5.0M39.0,310.67h5.0M511.2,310.67h-5.0" stroke="#6e6e6e" stroke-width="1.1" fill="none"/>
<rect x="321.9" y="307.0" width="143.60" height="12.70" fill="#fff" stroke="#555" stroke-width="1"/>
<line x1="325" y1="313.35" x2="355" y2="313.35" stroke="#2c2cff" stroke-width="1.1"/>
<text x="359.5" y="318.59" font-size="9.0" class="lt">S1</text>
<line x1="372.8" y1="313.35" x2="403.2" y2="313.35" stroke="#ff2626" stroke-width="1.1"/>
<text x="407.2" y="318.59" font-size="9.0" class="lt">S2</text>
<line x1="420.7" y1="313.35" x2="451.3" y2="313.35" stroke="#222" stroke-width="1.1"/>
<text x="454.5" y="318.59" font-size="9.0" class="lt">S3</text>
<text x="41.40" y="443.60" text-anchor="middle" font-size="9.5" class="tl">0</text>
<text x="120.10" y="443.60" text-anchor="middle" font-size="9.5" class="tl">0.02</text>
<text x="198.80" y="443.60" text-anchor="middle" font-size="9.5" class="tl">0.04</text>
<text x="277.50" y="443.60" text-anchor="middle" font-size="9.5" class="tl">0.06</text>
<text x="356.20" y="443.60" text-anchor="middle" font-size="9.5" class="tl">0.08</text>
<text x="434.90" y="443.60" text-anchor="middle" font-size="9.5" class="tl">0.1</text>
<text x="513.60" y="443.60" text-anchor="middle" font-size="9.5" class="tl">0.12</text>
<text x="36.30" y="432.66" text-anchor="end" font-size="9.5" class="tl">−0.6</text>
<text x="36.30" y="413.22" text-anchor="end" font-size="9.5" class="tl">−0.4</text>
<text x="36.30" y="393.78" text-anchor="end" font-size="9.5" class="tl">−0.2</text>
<text x="36.30" y="374.33" text-anchor="end" font-size="9.5" class="tl">0</text>
<text x="36.30" y="354.89" text-anchor="end" font-size="9.5" class="tl">0.2</text>
<text x="36.30" y="335.45" text-anchor="end" font-size="9.5" class="tl">0.4</text>
<text x="36.30" y="316.01" text-anchor="end" font-size="9.5" class="tl">0.6</text>
<ellipse cx="105.8" cy="420.4" rx="13.6" ry="12.7" fill="none" stroke="#111" stroke-width="1.6" stroke-dasharray="6,3.2"/>
<clipPath id="cd"><rect x="38.7" y="446.0" width="472.30" height="126.20"/></clipPath>
<g clip-path="url(#cd)">
<polyline points="38.70,509.10 39.17,509.10 39.64,509.10 40.12,509.10 40.59,509.10 41.06,509.10 41.53,509.10 42.01,509.10 42.48,509.10 42.95,509.10 43.42,509.10 43.90,509.10 44.37,509.10 44.84,509.10 45.31,509.10 45.78,509.10 46.26,509.10 46.73,509.10 47.20,509.10 47.67,509.10 48.15,509.10 48.62,509.10 49.09,509.10 49.56,509.10 50.04,509.10 50.51,509.10 50.98,509.10 51.45,509.10 51.92,509.10 52.40,509.10 52.87,509.10 53.34,509.10 53.81,509.10 54.29,509.10 54.76,509.10 55.23,509.10 55.70,509.10 56.18,509.10 56.65,509.10 57.12,509.10 57.59,509.10 58.06,509.10 58.54,509.10 59.01,509.10 59.48,509.10 59.95,509.10 60.43,509.10 60.90,509.10 61.37,509.10 61.84,509.10 62.32,509.10 62.79,509.10 63.26,509.10 63.73,509.10 64.20,509.10 64.68,509.10 65.15,509.10 65.62,509.10 66.09,509.10 66.57,509.10 67.04,509.10 67.51,509.10 67.98,509.10 68.45,509.10 68.93,509.10 69.40,509.10 69.87,509.10 70.34,509.10 70.82,509.10 71.29,509.10 71.76,509.10 72.23,509.10 72.71,509.10 73.18,509.10 73.65,509.10 74.12,509.10 74.59,509.10 75.07,509.10 75.54,509.10 76.01,509.10 76.48,509.10 76.96,509.10 77.43,509.10 77.90,509.10 78.37,509.10 78.85,509.10 79.32,509.10 79.79,509.10 80.26,509.10 80.73,509.10 81.21,509.10 81.68,509.10 82.15,509.10 82.62,509.10 83.10,509.10 83.57,509.10 84.04,509.10 84.51,509.10 84.99,509.10 85.46,509.10 85.93,509.10 86.40,509.10 86.87,509.10 87.35,509.10 87.82,509.10 88.29,509.10 88.76,509.10 89.24,509.10 89.71,509.10 90.18,509.10 90.65,509.10 91.13,509.10 91.60,509.10 92.07,509.10 92.54,509.10 93.01,509.10 93.49,509.10 93.96,509.10 94.43,509.10 94.90,509.10 95.38,509.10 95.85,509.10 96.32,509.10 96.79,509.10 97.27,509.10 97.74,509.10 98.21,509.10 98.68,509.10 99.15,509.10 99.63,509.10 100.10,509.10 100.57,509.10 101.04,509.10 101.52,509.10 101.99,509.10 102.46,509.10 102.93,509.10 103.41,509.10 103.88,509.10 104.35,509.10 104.82,509.10 105.29,509.10 105.61,509.10 105.61,506.26 105.77,506.26 106.24,506.26 106.71,506.26 107.18,506.26 107.66,506.26 108.13,506.26 108.60,506.26 109.07,506.26 109.55,506.26 110.02,506.26 110.49,506.26 110.96,506.26 111.43,506.26 111.91,506.26 112.38,506.26 112.85,506.26 113.32,506.26 113.80,506.26 114.27,506.26 114.74,506.26 115.21,506.26 115.68,506.26 116.16,506.26 116.63,506.26 117.10,506.26 117.57,506.26 118.05,506.26 118.52,506.33 118.99,506.43 119.46,506.52 119.94,506.62 120.41,506.72 120.88,506.82 121.35,506.92 121.82,507.02 122.30,507.12 122.77,507.22 123.24,507.31 123.71,507.41 124.19,507.51 124.66,507.61 125.13,507.71 125.60,507.81 126.08,507.91 126.55,508.01 127.02,508.10 127.49,508.21 127.96,508.31 128.44,508.41 128.91,508.51 129.38,508.62 129.85,508.72 130.33,508.82 130.80,508.93 131.27,509.03 131.74,509.13 132.22,509.24 132.69,509.34 133.16,509.44 133.63,509.55 134.10,509.65 134.58,509.75 135.05,509.86 135.52,509.96 135.99,510.06 136.47,510.17 136.94,510.27 137.41,510.37 137.88,510.48 138.36,510.58 138.83,510.68 139.30,510.79 139.77,510.89 140.24,510.99 140.72,511.00 141.19,511.01 141.66,511.02 142.13,511.04 142.61,511.05 143.08,511.06 143.55,511.07 144.02,511.08 144.50,511.09 144.97,511.10 145.44,511.11 145.91,511.12 146.38,511.13 146.86,511.14 147.33,511.15 147.80,511.16 148.27,511.17 148.75,511.18 149.22,511.19 149.69,511.20 150.16,511.21 150.64,511.22 151.11,511.23 151.58,511.25 152.05,511.26 152.52,511.27 153.00,511.28 153.47,511.29 153.94,511.30 154.41,511.31 154.89,511.25 155.36,511.19 155.83,511.12 156.30,511.06 156.78,511.00 157.25,510.94 157.72,510.88 158.19,510.82 158.66,510.76 159.14,510.69 159.61,510.63 160.08,510.57 160.55,510.51 161.03,510.45 161.50,510.39 161.97,510.33 162.44,510.26 162.91,510.20 163.39,510.14 163.86,510.08 164.33,510.02 164.80,509.96 165.28,509.90 165.75,509.84 166.22,509.77 166.69,509.71 167.17,509.65 167.64,509.59 168.11,509.53 168.58,509.47 169.05,509.41 169.53,509.35 170.00,509.29 170.47,509.23 170.94,509.17 171.42,509.11 171.89,509.06 172.36,509.00 172.83,508.94 173.31,508.88 173.78,508.82 174.25,508.77 174.72,508.71 175.19,508.65 175.67,508.59 176.14,508.53 176.61,508.47 177.08,508.42 177.56,508.36 178.03,508.30 178.50,508.24 178.97,508.18 179.45,508.12 179.92,508.07 180.39,508.01 180.86,507.95 181.33,507.89 181.81,507.83 182.28,507.77 182.75,507.72 183.22,507.66 183.70,507.60 184.17,507.54 184.33,507.52 184.33,509.10 184.64,509.10 185.11,509.10 185.59,509.10 186.06,509.10 186.53,509.10 187.00,509.10 187.47,509.10 187.95,509.10 188.42,509.10 188.89,509.10 189.36,509.10 189.84,509.10 190.31,509.10 190.78,509.10 191.25,509.10 191.73,509.10 192.20,509.10 192.67,509.10 193.14,509.10 193.61,509.10 194.09,509.10 194.56,509.10 195.03,509.10 195.50,509.10 195.98,509.10 196.45,509.10 196.92,509.10 197.39,509.10 197.87,509.10 198.34,509.10 198.81,509.10 199.28,509.10 199.75,509.10 200.23,509.10 200.70,509.10 201.17,509.10 201.64,509.10 202.12,509.10 202.59,509.10 203.06,509.10 203.53,509.10 204.00,509.10 204.48,509.10 204.95,509.10 205.42,509.10 205.89,509.10 206.37,509.10 206.84,509.10 207.31,509.10 207.78,509.10 208.26,509.10 208.73,509.10 209.20,509.10 209.67,509.10 210.14,509.10 210.62,509.10 211.09,509.10 211.56,509.10 212.03,509.10 212.51,509.10 212.98,509.10 213.45,509.10 213.92,509.10 214.40,509.10 214.87,509.10 215.34,509.10 215.81,509.10 216.28,509.10 216.76,509.10 217.23,509.10 217.70,509.10 218.17,509.10 218.65,509.10 219.12,509.10 219.59,509.10 220.06,509.10 220.54,509.10 221.01,509.10 221.48,509.10 221.95,509.10 222.42,509.10 222.90,509.10 223.37,509.10 223.84,509.10 224.31,509.10 224.79,509.10 225.26,509.10 225.73,509.10 226.20,509.10 226.68,509.10 227.15,509.10 227.62,509.10 228.09,509.10 228.56,509.10 229.04,509.10 229.51,509.10 229.98,509.10 230.45,509.10 230.93,509.10 231.40,509.10 231.87,509.10 232.34,509.10 232.82,509.10 233.29,509.10 233.76,509.10 234.23,509.10 234.70,509.10 235.18,509.10 235.65,509.10 236.12,509.10 236.59,509.10 237.07,509.10 237.54,509.10 238.01,509.10 238.48,509.10 238.96,509.10 239.43,509.10 239.90,509.10 240.37,509.10 240.84,509.10 241.32,509.10 241.79,509.10 242.26,509.10 242.73,509.10 243.21,509.10 243.68,509.10 244.15,509.10 244.62,509.10 245.10,509.10 245.57,509.10 246.04,509.10 246.51,509.10 246.98,509.10 247.46,509.10 247.93,509.10 248.40,509.10 248.87,509.10 249.35,509.10 249.82,509.10 250.29,509.10 250.76,509.10 251.24,509.10 251.71,509.10 252.18,509.10 252.65,509.10 253.12,509.10 253.60,509.10 254.07,509.10 254.54,509.10 255.01,509.10 255.49,509.10 255.96,509.10 256.43,509.10 256.90,509.10 257.37,509.10 257.85,509.10 258.32,509.10 258.79,509.10 259.26,509.10 259.74,509.10 260.21,509.10 260.68,509.10 261.15,509.10 261.63,509.10 262.10,509.10 262.57,509.10 263.04,509.10 263.04,506.26 263.04,506.26 263.51,506.26 263.99,506.26 264.46,506.26 264.93,506.26 265.40,506.26 265.88,506.26 266.35,506.26 266.82,506.26 267.29,506.26 267.77,506.26 268.24,506.26 268.71,506.26 269.18,506.26 269.65,506.26 270.13,506.26 270.60,506.26 271.07,506.26 271.54,506.26 272.02,506.26 272.49,506.26 272.96,506.26 273.43,506.26 273.91,506.26 274.38,506.26 274.85,506.26 275.32,506.26 275.79,506.29 276.27,506.39 276.74,506.49 277.21,506.59 277.68,506.69 278.16,506.79 278.63,506.89 279.10,506.98 279.57,507.08 280.05,507.18 280.52,507.28 280.99,507.38 281.46,507.48 281.93,507.58 282.41,507.68 282.88,507.77 283.35,507.87 283.82,507.97 284.30,508.07 284.77,508.17 285.24,508.27 285.71,508.38 286.19,508.48 286.66,508.58 287.13,508.69 287.60,508.79 288.07,508.89 288.55,509.00 289.02,509.10 289.49,509.20 289.96,509.31 290.44,509.41 290.91,509.51 291.38,509.62 291.85,509.72 292.33,509.82 292.80,509.93 293.27,510.03 293.74,510.13 294.21,510.24 294.69,510.34 295.16,510.44 295.63,510.55 296.10,510.65 296.58,510.75 297.05,510.86 297.52,510.96 297.99,511.00 298.47,511.01 298.94,511.02 299.41,511.03 299.88,511.04 300.35,511.05 300.83,511.06 301.30,511.07 301.77,511.08 302.24,511.09 302.72,511.11 303.19,511.12 303.66,511.13 304.13,511.14 304.60,511.15 305.08,511.16 305.55,511.17 306.02,511.18 306.49,511.19 306.97,511.20 307.44,511.21 307.91,511.22 308.38,511.23 308.86,511.24 309.33,511.25 309.80,511.26 310.27,511.27 310.74,511.28 311.22,511.29 311.69,511.30 312.16,511.27 312.63,511.21 313.11,511.14 313.58,511.08 314.05,511.02 314.52,510.96 315.00,510.90 315.47,510.84 315.94,510.78 316.41,510.72 316.88,510.65 317.36,510.59 317.83,510.53 318.30,510.47 318.77,510.41 319.25,510.35 319.72,510.29 320.19,510.22 320.66,510.16 321.14,510.10 321.61,510.04 322.08,509.98 322.55,509.92 323.02,509.86 323.50,509.79 323.97,509.73 324.44,509.67 324.91,509.61 325.39,509.55 325.86,509.49 326.33,509.43 326.80,509.37 327.28,509.31 327.75,509.25 328.22,509.19 328.69,509.13 329.16,509.08 329.64,509.02 330.11,508.96 330.58,508.90 331.05,508.84 331.53,508.78 332.00,508.73 332.47,508.67 332.94,508.61 333.42,508.55 333.89,508.49 334.36,508.44 334.83,508.38 335.30,508.32 335.78,508.26 336.25,508.20 336.72,508.14 337.19,508.09 337.67,508.03 338.14,507.97 338.61,507.91 339.08,507.85 339.56,507.79 340.03,507.74 340.50,507.68 340.97,507.62 341.44,507.56 341.76,507.52 341.76,509.10 341.92,509.10 342.39,509.10 342.86,509.10 343.33,509.10 343.81,509.10 344.28,509.10 344.75,509.10 345.22,509.10 345.69,509.10 346.17,509.10 346.64,509.10 347.11,509.10 347.58,509.10 348.06,509.10 348.53,509.10 349.00,509.10 349.47,509.10 349.95,509.10 350.42,509.10 350.89,509.10 351.36,509.10 351.83,509.10 352.31,509.10 352.78,509.10 353.25,509.10 353.72,509.10 354.20,509.10 354.67,509.10 355.14,509.10 355.61,509.10 356.09,509.10 356.56,509.10 357.03,509.10 357.50,509.10 357.97,509.10 358.45,509.10 358.92,509.10 359.39,509.10 359.86,509.10 360.34,509.10 360.81,509.10 361.28,509.10 361.75,509.10 362.23,509.10 362.70,509.10 363.17,509.10 363.64,509.10 364.11,509.10 364.59,509.10 365.06,509.10 365.53,509.10 366.00,509.10 366.48,509.10 366.95,509.10 367.42,509.10 367.89,509.10 368.37,509.10 368.84,509.10 369.31,509.10 369.78,509.10 370.25,509.10 370.73,509.10 371.20,509.10 371.67,509.10 372.14,509.10 372.62,509.10 373.09,509.10 373.56,509.10 374.03,509.10 374.51,509.10 374.98,509.10 375.45,509.10 375.92,509.10 376.39,509.10 376.87,509.10 377.34,509.10 377.81,509.10 378.28,509.10 378.76,509.10 379.23,509.10 379.70,509.10 380.17,509.10 380.65,509.10 381.12,509.10 381.59,509.10 382.06,509.10 382.53,509.10 383.01,509.10 383.48,509.10 383.95,509.10 384.42,509.10 384.90,509.10 385.37,509.10 385.84,509.10 386.31,509.10 386.79,509.10 387.26,509.10 387.73,509.10 388.20,509.10 388.67,509.10 389.15,509.10 389.62,509.10 390.09,509.10 390.56,509.10 391.04,509.10 391.51,509.10 391.98,509.10 392.45,509.10 392.93,509.10 393.40,509.10 393.87,509.10 394.34,509.10 394.81,509.10 395.29,509.10 395.76,509.10 396.23,509.10 396.70,509.10 397.18,509.10 397.65,509.10 398.12,509.10 398.59,509.10 399.06,509.10 399.54,509.10 400.01,509.10 400.48,509.10 400.95,509.10 401.43,509.10 401.90,509.10 402.37,509.10 402.84,509.10 403.32,509.10 403.79,509.10 404.26,509.10 404.73,509.10 405.20,509.10 405.68,509.10 406.15,509.10 406.62,509.10 407.09,509.10 407.57,509.10 408.04,509.10 408.51,509.10 408.98,509.10 409.46,509.10 409.93,509.10 410.40,509.10 410.87,509.10 411.34,509.10 411.82,509.10 412.29,509.10 412.76,509.10 413.23,509.10 413.71,509.10 414.18,509.10 414.65,509.10 415.12,509.10 415.60,509.10 416.07,509.10 416.54,509.10 417.01,509.10 417.48,509.10 417.96,509.10 418.43,509.10 418.90,509.10 419.37,509.10 419.85,509.10 420.32,509.10 420.48,509.10 420.48,506.26 420.79,506.26 421.26,506.26 421.74,506.26 422.21,506.26 422.68,506.26 423.15,506.26 423.62,506.26 424.10,506.26 424.57,506.26 425.04,506.26 425.51,506.26 425.99,506.26 426.46,506.26 426.93,506.26 427.40,506.26 427.88,506.26 428.35,506.26 428.82,506.26 429.29,506.26 429.76,506.26 430.24,506.26 430.71,506.26 431.18,506.26 431.65,506.26 432.13,506.26 432.60,506.26 433.07,506.26 433.54,506.36 434.02,506.46 434.49,506.56 434.96,506.66 435.43,506.75 435.90,506.85 436.38,506.95 436.85,507.05 437.32,507.15 437.79,507.25 438.27,507.35 438.74,507.45 439.21,507.54 439.68,507.64 440.16,507.74 440.63,507.84 441.10,507.94 441.57,508.04 442.04,508.14 442.52,508.24 442.99,508.34 443.46,508.45 443.93,508.55 444.41,508.65 444.88,508.76 445.35,508.86 445.82,508.96 446.29,509.07 446.77,509.17 447.24,509.27 447.71,509.38 448.18,509.48 448.66,509.58 449.13,509.69 449.60,509.79 450.07,509.89 450.55,509.99 451.02,510.10 451.49,510.20 451.96,510.30 452.43,510.41 452.91,510.51 453.38,510.61 453.85,510.72 454.32,510.82 454.80,510.92 455.27,511.00 455.74,511.01 456.21,511.02 456.69,511.03 457.16,511.04 457.63,511.05 458.10,511.06 458.57,511.07 459.05,511.08 459.52,511.09 459.99,511.10 460.46,511.11 460.94,511.12 461.41,511.13 461.88,511.14 462.35,511.15 462.83,511.16 463.30,511.18 463.77,511.19 464.24,511.20 464.71,511.21 465.19,511.22 465.66,511.23 466.13,511.24 466.60,511.25 467.08,511.26 467.55,511.27 468.02,511.28 468.49,511.29 468.97,511.30 469.44,511.29 469.91,511.23 470.38,511.17 470.85,511.10 471.33,511.04 471.80,510.98 472.27,510.92 472.74,510.86 473.22,510.80 473.69,510.74 474.16,510.67 474.63,510.61 475.11,510.55 475.58,510.49 476.05,510.43 476.52,510.37 476.99,510.31 477.47,510.24 477.94,510.18 478.41,510.12 478.88,510.06 479.36,510.00 479.83,509.94 480.30,509.88 480.77,509.81 481.25,509.75 481.72,509.69 482.19,509.63 482.66,509.57 483.13,509.51 483.61,509.45 484.08,509.39 484.55,509.33 485.02,509.27 485.50,509.21 485.97,509.15 486.44,509.10 486.91,509.04 487.39,508.98 487.86,508.92 488.33,508.86 488.80,508.80 489.27,508.75 489.75,508.69 490.22,508.63 490.69,508.57 491.16,508.51 491.64,508.45 492.11,508.40 492.58,508.34 493.05,508.28 493.52,508.22 494.00,508.16 494.47,508.10 494.94,508.05 495.41,507.99 495.89,507.93 496.36,507.87 496.83,507.81 497.30,507.76 497.78,507.70 498.25,507.64 498.72,507.58 499.19,507.52 499.19,509.10 499.19,509.10 499.66,509.10 500.14,509.10 500.61,509.10 501.08,509.10 501.55,509.10 502.03,509.10 502.50,509.10 502.97,509.10 503.44,509.10 503.92,509.10 504.39,509.10 504.86,509.10 505.33,509.10 505.80,509.10 506.28,509.10 506.75,509.10 507.22,509.10 507.69,509.10 508.17,509.10 508.64,509.10 509.11,509.10 509.58,509.10 510.06,509.10 510.53,509.10" fill="none" stroke="#2c2cff" stroke-width="1.3" stroke-linejoin="round" />
<polyline points="38.70,509.10 39.17,509.10 39.64,509.10 40.12,509.10 40.59,509.10 41.06,509.10 41.53,509.10 42.01,509.10 42.48,509.10 42.95,509.10 43.42,509.10 43.90,509.10 44.37,509.10 44.84,509.10 45.31,509.10 45.78,509.10 46.26,509.10 46.73,509.10 47.20,509.10 47.67,509.10 48.15,509.10 48.62,509.10 49.09,509.10 49.56,509.10 50.04,509.10 50.51,509.10 50.98,509.10 51.45,509.10 51.92,509.10 52.40,509.10 52.87,509.10 53.34,509.10 53.81,509.10 54.29,509.10 54.76,509.10 55.23,509.10 55.70,509.10 56.18,509.10 56.65,509.10 57.12,509.10 57.59,509.10 58.06,509.10 58.54,509.10 59.01,509.10 59.48,509.10 59.95,509.10 60.43,509.10 60.90,509.10 61.37,509.10 61.84,509.10 62.32,509.10 62.79,509.10 63.26,509.10 63.73,509.10 64.20,509.10 64.68,509.10 65.15,509.10 65.62,509.10 66.09,509.10 66.57,509.10 67.04,509.10 67.51,509.10 67.98,509.10 68.45,509.10 68.93,509.10 69.40,509.10 69.87,509.10 70.34,509.10 70.82,509.10 71.29,509.10 71.76,509.10 72.23,509.10 72.71,509.10 73.18,509.10 73.65,509.10 74.12,509.10 74.59,509.10 75.07,509.10 75.54,509.10 76.01,509.10 76.48,509.10 76.96,509.10 77.43,509.10 77.90,509.10 78.37,509.10 78.85,509.10 79.32,509.10 79.79,509.10 80.26,509.10 80.73,509.10 81.21,509.10 81.68,509.10 82.15,509.10 82.62,509.10 83.10,509.10 83.57,509.10 84.04,509.10 84.51,509.10 84.99,509.10 85.46,509.10 85.93,509.10 86.40,509.10 86.87,509.10 87.35,509.10 87.82,509.10 88.29,509.10 88.76,509.10 89.24,509.10 89.71,509.10 90.18,509.10 90.65,509.10 91.13,509.10 91.60,509.10 92.07,509.10 92.54,509.10 93.01,509.10 93.49,509.10 93.96,509.10 94.43,509.10 94.90,509.10 95.38,509.10 95.85,509.10 96.32,509.10 96.79,509.10 97.27,509.10 97.74,509.10 98.21,509.10 98.68,509.10 99.15,509.10 99.63,509.10 100.10,509.10 100.57,509.10 101.04,509.10 101.52,509.10 101.99,509.10 102.46,509.10 102.93,509.10 103.41,509.10 103.88,509.10 104.35,509.10 104.82,509.10 105.29,509.10 105.61,509.10 105.61,506.89 105.77,506.91 106.24,506.98 106.71,507.05 107.18,507.11 107.66,507.18 108.13,507.24 108.60,507.31 109.07,507.37 109.55,507.44 110.02,507.51 110.49,507.57 110.96,507.64 111.43,507.70 111.91,507.77 112.38,507.84 112.85,507.90 113.32,507.97 113.80,508.03 114.27,508.10 114.74,508.17 115.21,508.25 115.68,508.33 116.16,508.42 116.63,508.50 117.10,508.58 117.57,508.66 118.05,508.75 118.52,508.83 118.99,508.91 119.46,509.00 119.94,509.08 120.41,509.16 120.88,509.24 121.35,509.33 121.82,509.41 122.30,509.49 122.77,509.58 123.24,509.66 123.71,509.74 124.19,509.82 124.66,509.91 125.13,509.99 125.60,510.07 126.08,510.15 126.55,510.24 127.02,510.32 127.49,510.38 127.96,510.42 128.44,510.46 128.91,510.50 129.38,510.54 129.85,510.58 130.33,510.62 130.80,510.66 131.27,510.70 131.74,510.74 132.22,510.78 132.69,510.82 133.16,510.86 133.63,510.90 134.10,510.94 134.58,510.98 135.05,511.02 135.52,511.06 135.99,511.10 136.47,511.15 136.94,511.19 137.41,511.23 137.88,511.27 138.36,511.31 138.83,511.35 139.30,511.39 139.77,511.43 140.24,511.47 140.72,511.40 141.19,511.33 141.66,511.26 142.13,511.19 142.61,511.12 143.08,511.06 143.55,510.99 144.02,510.92 144.50,510.85 144.97,510.78 145.44,510.71 145.91,510.65 146.38,510.58 146.86,510.51 147.33,510.44 147.80,510.37 148.27,510.30 148.75,510.24 149.22,510.17 149.69,510.10 150.16,510.03 150.64,509.96 151.11,509.89 151.58,509.83 152.05,509.76 152.52,509.69 153.00,509.62 153.47,509.55 153.94,509.48 154.41,509.42 154.89,509.34 155.36,509.27 155.83,509.20 156.30,509.13 156.78,509.06 157.25,508.99 157.72,508.91 158.19,508.84 158.66,508.77 159.14,508.70 159.61,508.63 160.08,508.56 160.55,508.48 161.03,508.41 161.50,508.34 161.97,508.27 162.44,508.20 162.91,508.13 163.39,508.05 163.86,507.98 164.33,507.91 164.80,507.84 165.28,507.77 165.75,507.70 166.22,507.62 166.69,507.55 167.17,507.48 167.64,507.41 168.11,507.34 168.58,507.27 169.05,507.21 169.53,507.20 170.00,507.19 170.47,507.18 170.94,507.17 171.42,507.16 171.89,507.15 172.36,507.14 172.83,507.13 173.31,507.12 173.78,507.11 174.25,507.10 174.72,507.09 175.19,507.08 175.67,507.07 176.14,507.06 176.61,507.05 177.08,507.04 177.56,507.03 178.03,507.02 178.50,507.01 178.97,507.00 179.45,506.99 179.92,506.98 180.39,506.97 180.86,506.96 181.33,506.95 181.81,506.94 182.28,506.93 182.75,506.92 183.22,506.91 183.70,506.90 184.17,506.89 184.33,506.89 184.33,509.10 184.64,509.10 185.11,509.10 185.59,509.10 186.06,509.10 186.53,509.10 187.00,509.10 187.47,509.10 187.95,509.10 188.42,509.10 188.89,509.10 189.36,509.10 189.84,509.10 190.31,509.10 190.78,509.10 191.25,509.10 191.73,509.10 192.20,509.10 192.67,509.10 193.14,509.10 193.61,509.10 194.09,509.10 194.56,509.10 195.03,509.10 195.50,509.10 195.98,509.10 196.45,509.10 196.92,509.10 197.39,509.10 197.87,509.10 198.34,509.10 198.81,509.10 199.28,509.10 199.75,509.10 200.23,509.10 200.70,509.10 201.17,509.10 201.64,509.10 202.12,509.10 202.59,509.10 203.06,509.10 203.53,509.10 204.00,509.10 204.48,509.10 204.95,509.10 205.42,509.10 205.89,509.10 206.37,509.10 206.84,509.10 207.31,509.10 207.78,509.10 208.26,509.10 208.73,509.10 209.20,509.10 209.67,509.10 210.14,509.10 210.62,509.10 211.09,509.10 211.56,509.10 212.03,509.10 212.51,509.10 212.98,509.10 213.45,509.10 213.92,509.10 214.40,509.10 214.87,509.10 215.34,509.10 215.81,509.10 216.28,509.10 216.76,509.10 217.23,509.10 217.70,509.10 218.17,509.10 218.65,509.10 219.12,509.10 219.59,509.10 220.06,509.10 220.54,509.10 221.01,509.10 221.48,509.10 221.95,509.10 222.42,509.10 222.90,509.10 223.37,509.10 223.84,509.10 224.31,509.10 224.79,509.10 225.26,509.10 225.73,509.10 226.20,509.10 226.68,509.10 227.15,509.10 227.62,509.10 228.09,509.10 228.56,509.10 229.04,509.10 229.51,509.10 229.98,509.10 230.45,509.10 230.93,509.10 231.40,509.10 231.87,509.10 232.34,509.10 232.82,509.10 233.29,509.10 233.76,509.10 234.23,509.10 234.70,509.10 235.18,509.10 235.65,509.10 236.12,509.10 236.59,509.10 237.07,509.10 237.54,509.10 238.01,509.10 238.48,509.10 238.96,509.10 239.43,509.10 239.90,509.10 240.37,509.10 240.84,509.10 241.32,509.10 241.79,509.10 242.26,509.10 242.73,509.10 243.21,509.10 243.68,509.10 244.15,509.10 244.62,509.10 245.10,509.10 245.57,509.10 246.04,509.10 246.51,509.10 246.98,509.10 247.46,509.10 247.93,509.10 248.40,509.10 248.87,509.10 249.35,509.10 249.82,509.10 250.29,509.10 250.76,509.10 251.24,509.10 251.71,509.10 252.18,509.10 252.65,509.10 253.12,509.10 253.60,509.10 254.07,509.10 254.54,509.10 255.01,509.10 255.49,509.10 255.96,509.10 256.43,509.10 256.90,509.10 257.37,509.10 257.85,509.10 258.32,509.10 258.79,509.10 259.26,509.10 259.74,509.10 260.21,509.10 260.68,509.10 261.15,509.10 261.63,509.10 262.10,509.10 262.57,509.10 263.04,509.10 263.04,506.89 263.04,506.89 263.51,506.96 263.99,507.02 264.46,507.09 264.93,507.15 265.40,507.22 265.88,507.29 266.35,507.35 266.82,507.42 267.29,507.48 267.77,507.55 268.24,507.62 268.71,507.68 269.18,507.75 269.65,507.81 270.13,507.88 270.60,507.94 271.07,508.01 271.54,508.08 272.02,508.14 272.49,508.22 272.96,508.31 273.43,508.39 273.91,508.47 274.38,508.55 274.85,508.64 275.32,508.72 275.79,508.80 276.27,508.89 276.74,508.97 277.21,509.05 277.68,509.13 278.16,509.22 278.63,509.30 279.10,509.38 279.57,509.46 280.05,509.55 280.52,509.63 280.99,509.71 281.46,509.80 281.93,509.88 282.41,509.96 282.88,510.04 283.35,510.13 283.82,510.21 284.30,510.29 284.77,510.37 285.24,510.41 285.71,510.45 286.19,510.49 286.66,510.53 287.13,510.57 287.60,510.61 288.07,510.65 288.55,510.69 289.02,510.73 289.49,510.77 289.96,510.81 290.44,510.85 290.91,510.89 291.38,510.93 291.85,510.97 292.33,511.01 292.80,511.05 293.27,511.09 293.74,511.13 294.21,511.17 294.69,511.21 295.16,511.25 295.63,511.29 296.10,511.33 296.58,511.37 297.05,511.41 297.52,511.45 297.99,511.42 298.47,511.35 298.94,511.28 299.41,511.22 299.88,511.15 300.35,511.08 300.83,511.01 301.30,510.94 301.77,510.87 302.24,510.81 302.72,510.74 303.19,510.67 303.66,510.60 304.13,510.53 304.60,510.46 305.08,510.40 305.55,510.33 306.02,510.26 306.49,510.19 306.97,510.12 307.44,510.05 307.91,509.99 308.38,509.92 308.86,509.85 309.33,509.78 309.80,509.71 310.27,509.64 310.74,509.58 311.22,509.51 311.69,509.44 312.16,509.37 312.63,509.30 313.11,509.22 313.58,509.15 314.05,509.08 314.52,509.01 315.00,508.94 315.47,508.87 315.94,508.79 316.41,508.72 316.88,508.65 317.36,508.58 317.83,508.51 318.30,508.44 318.77,508.36 319.25,508.29 319.72,508.22 320.19,508.15 320.66,508.08 321.14,508.01 321.61,507.94 322.08,507.86 322.55,507.79 323.02,507.72 323.50,507.65 323.97,507.58 324.44,507.51 324.91,507.43 325.39,507.36 325.86,507.29 326.33,507.22 326.80,507.20 327.28,507.19 327.75,507.18 328.22,507.17 328.69,507.16 329.16,507.15 329.64,507.14 330.11,507.13 330.58,507.12 331.05,507.11 331.53,507.10 332.00,507.09 332.47,507.08 332.94,507.07 333.42,507.06 333.89,507.05 334.36,507.04 334.83,507.03 335.30,507.02 335.78,507.01 336.25,507.00 336.72,507.00 337.19,506.99 337.67,506.98 338.14,506.97 338.61,506.96 339.08,506.95 339.56,506.94 340.03,506.93 340.50,506.92 340.97,506.91 341.44,506.90 341.76,506.89 341.76,509.10 341.92,509.10 342.39,509.10 342.86,509.10 343.33,509.10 343.81,509.10 344.28,509.10 344.75,509.10 345.22,509.10 345.69,509.10 346.17,509.10 346.64,509.10 347.11,509.10 347.58,509.10 348.06,509.10 348.53,509.10 349.00,509.10 349.47,509.10 349.95,509.10 350.42,509.10 350.89,509.10 351.36,509.10 351.83,509.10 352.31,509.10 352.78,509.10 353.25,509.10 353.72,509.10 354.20,509.10 354.67,509.10 355.14,509.10 355.61,509.10 356.09,509.10 356.56,509.10 357.03,509.10 357.50,509.10 357.97,509.10 358.45,509.10 358.92,509.10 359.39,509.10 359.86,509.10 360.34,509.10 360.81,509.10 361.28,509.10 361.75,509.10 362.23,509.10 362.70,509.10 363.17,509.10 363.64,509.10 364.11,509.10 364.59,509.10 365.06,509.10 365.53,509.10 366.00,509.10 366.48,509.10 366.95,509.10 367.42,509.10 367.89,509.10 368.37,509.10 368.84,509.10 369.31,509.10 369.78,509.10 370.25,509.10 370.73,509.10 371.20,509.10 371.67,509.10 372.14,509.10 372.62,509.10 373.09,509.10 373.56,509.10 374.03,509.10 374.51,509.10 374.98,509.10 375.45,509.10 375.92,509.10 376.39,509.10 376.87,509.10 377.34,509.10 377.81,509.10 378.28,509.10 378.76,509.10 379.23,509.10 379.70,509.10 380.17,509.10 380.65,509.10 381.12,509.10 381.59,509.10 382.06,509.10 382.53,509.10 383.01,509.10 383.48,509.10 383.95,509.10 384.42,509.10 384.90,509.10 385.37,509.10 385.84,509.10 386.31,509.10 386.79,509.10 387.26,509.10 387.73,509.10 388.20,509.10 388.67,509.10 389.15,509.10 389.62,509.10 390.09,509.10 390.56,509.10 391.04,509.10 391.51,509.10 391.98,509.10 392.45,509.10 392.93,509.10 393.40,509.10 393.87,509.10 394.34,509.10 394.81,509.10 395.29,509.10 395.76,509.10 396.23,509.10 396.70,509.10 397.18,509.10 397.65,509.10 398.12,509.10 398.59,509.10 399.06,509.10 399.54,509.10 400.01,509.10 400.48,509.10 400.95,509.10 401.43,509.10 401.90,509.10 402.37,509.10 402.84,509.10 403.32,509.10 403.79,509.10 404.26,509.10 404.73,509.10 405.20,509.10 405.68,509.10 406.15,509.10 406.62,509.10 407.09,509.10 407.57,509.10 408.04,509.10 408.51,509.10 408.98,509.10 409.46,509.10 409.93,509.10 410.40,509.10 410.87,509.10 411.34,509.10 411.82,509.10 412.29,509.10 412.76,509.10 413.23,509.10 413.71,509.10 414.18,509.10 414.65,509.10 415.12,509.10 415.60,509.10 416.07,509.10 416.54,509.10 417.01,509.10 417.48,509.10 417.96,509.10 418.43,509.10 418.90,509.10 419.37,509.10 419.85,509.10 420.32,509.10 420.48,509.10 420.48,506.89 420.79,506.94 421.26,507.00 421.74,507.07 422.21,507.13 422.68,507.20 423.15,507.26 423.62,507.33 424.10,507.40 424.57,507.46 425.04,507.53 425.51,507.59 425.99,507.66 426.46,507.73 426.93,507.79 427.40,507.86 427.88,507.92 428.35,507.99 428.82,508.05 429.29,508.12 429.76,508.19 430.24,508.28 430.71,508.36 431.18,508.44 431.65,508.53 432.13,508.61 432.60,508.69 433.07,508.77 433.54,508.86 434.02,508.94 434.49,509.02 434.96,509.11 435.43,509.19 435.90,509.27 436.38,509.35 436.85,509.44 437.32,509.52 437.79,509.60 438.27,509.69 438.74,509.77 439.21,509.85 439.68,509.93 440.16,510.02 440.63,510.10 441.10,510.18 441.57,510.27 442.04,510.35 442.52,510.40 442.99,510.44 443.46,510.48 443.93,510.52 444.41,510.56 444.88,510.60 445.35,510.64 445.82,510.68 446.29,510.72 446.77,510.76 447.24,510.80 447.71,510.84 448.18,510.88 448.66,510.92 449.13,510.96 449.60,511.00 450.07,511.04 450.55,511.08 451.02,511.12 451.49,511.16 451.96,511.20 452.43,511.24 452.91,511.28 453.38,511.32 453.85,511.36 454.32,511.40 454.80,511.44 455.27,511.44 455.74,511.38 456.21,511.31 456.69,511.24 457.16,511.17 457.63,511.10 458.10,511.03 458.57,510.96 459.05,510.90 459.52,510.83 459.99,510.76 460.46,510.69 460.94,510.62 461.41,510.55 461.88,510.49 462.35,510.42 462.83,510.35 463.30,510.28 463.77,510.21 464.24,510.14 464.71,510.08 465.19,510.01 465.66,509.94 466.13,509.87 466.60,509.80 467.08,509.73 467.55,509.67 468.02,509.60 468.49,509.53 468.97,509.46 469.44,509.39 469.91,509.32 470.38,509.25 470.85,509.18 471.33,509.11 471.80,509.03 472.27,508.96 472.74,508.89 473.22,508.82 473.69,508.75 474.16,508.68 474.63,508.60 475.11,508.53 475.58,508.46 476.05,508.39 476.52,508.32 476.99,508.25 477.47,508.17 477.94,508.10 478.41,508.03 478.88,507.96 479.36,507.89 479.83,507.82 480.30,507.74 480.77,507.67 481.25,507.60 481.72,507.53 482.19,507.46 482.66,507.39 483.13,507.31 483.61,507.24 484.08,507.20 484.55,507.19 485.02,507.18 485.50,507.17 485.97,507.16 486.44,507.15 486.91,507.14 487.39,507.13 487.86,507.12 488.33,507.11 488.80,507.11 489.27,507.10 489.75,507.09 490.22,507.08 490.69,507.07 491.16,507.06 491.64,507.05 492.11,507.04 492.58,507.03 493.05,507.02 493.52,507.01 494.00,507.00 494.47,506.99 494.94,506.98 495.41,506.97 495.89,506.96 496.36,506.95 496.83,506.94 497.30,506.93 497.78,506.92 498.25,506.91 498.72,506.90 499.19,506.89 499.19,509.10 499.19,509.10 499.66,509.10 500.14,509.10 500.61,509.10 501.08,509.10 501.55,509.10 502.03,509.10 502.50,509.10 502.97,509.10 503.44,509.10 503.92,509.10 504.39,509.10 504.86,509.10 505.33,509.10 505.80,509.10 506.28,509.10 506.75,509.10 507.22,509.10 507.69,509.10 508.17,509.10 508.64,509.10 509.11,509.10 509.58,509.10 510.06,509.10 510.53,509.10" fill="none" stroke="#222" stroke-width="1.3" stroke-linejoin="round" />
<polyline points="38.70,509.10 39.17,509.10 39.64,509.10 40.12,509.10 40.59,509.10 41.06,509.10 41.53,509.10 42.01,509.10 42.48,509.10 42.95,509.10 43.42,509.10 43.90,509.10 44.37,509.10 44.84,509.10 45.31,509.10 45.78,509.10 46.26,509.10 46.73,509.10 47.20,509.10 47.67,509.10 48.15,509.10 48.62,509.10 49.09,509.10 49.56,509.10 50.04,509.10 50.51,509.10 50.98,509.10 51.45,509.10 51.92,509.10 52.40,509.10 52.87,509.10 53.34,509.10 53.81,509.10 54.29,509.10 54.76,509.10 55.23,509.10 55.70,509.10 56.18,509.10 56.65,509.10 57.12,509.10 57.59,509.10 58.06,509.10 58.54,509.10 59.01,509.10 59.48,509.10 59.95,509.10 60.43,509.10 60.90,509.10 61.37,509.10 61.84,509.10 62.32,509.10 62.79,509.10 63.26,509.10 63.73,509.10 64.20,509.10 64.68,509.10 65.15,509.10 65.62,509.10 66.09,509.10 66.57,509.10 67.04,509.10 67.51,509.10 67.98,509.10 68.45,509.10 68.93,509.10 69.40,509.10 69.87,509.10 70.34,509.10 70.82,509.10 71.29,509.10 71.76,509.10 72.23,509.10 72.71,509.10 73.18,509.10 73.65,509.10 74.12,509.10 74.59,509.10 75.07,509.10 75.54,509.10 76.01,509.10 76.48,509.10 76.96,509.10 77.43,509.10 77.90,509.10 78.37,509.10 78.85,509.10 79.32,509.10 79.79,509.10 80.26,509.10 80.73,509.10 81.21,509.10 81.68,509.10 82.15,509.10 82.62,509.10 83.10,509.10 83.57,509.10 84.04,509.10 84.51,509.10 84.99,509.10 85.46,509.10 85.93,509.10 86.40,509.10 86.87,509.10 87.35,509.10 87.82,509.10 88.29,509.10 88.76,509.10 89.24,509.10 89.71,509.10 90.18,509.10 90.65,509.10 91.13,509.10 91.60,509.10 92.07,509.10 92.54,509.10 93.01,509.10 93.49,509.10 93.96,509.10 94.43,509.10 94.90,509.10 95.38,509.10 95.85,509.10 96.32,509.10 96.79,509.10 97.27,509.10 97.74,509.10 98.21,509.10 98.68,509.10 99.15,509.10 99.63,509.10 100.10,509.10 100.57,509.10 101.04,509.10 101.52,509.10 101.99,509.10 102.46,509.10 102.93,509.10 103.41,509.10 103.88,509.10 104.35,509.10 104.82,509.10 105.29,509.10 105.61,509.10 105.61,561.47 105.77,561.64 106.24,562.14 106.71,562.65 107.18,563.15 107.66,563.65 108.13,564.16 108.60,564.66 109.07,565.16 109.55,565.67 110.02,566.17 110.49,566.67 110.96,567.18 111.43,567.68 111.91,568.18 112.38,568.69 112.85,567.81 113.32,566.80 113.80,565.80 114.27,564.80 114.74,563.79 115.21,562.79 115.68,561.78 116.16,560.78 116.63,559.77 117.10,558.77 117.57,557.76 118.05,556.76 118.52,555.09 118.99,553.08 119.46,551.08 119.94,549.07 120.41,547.07 120.88,545.06 121.35,543.05 121.82,541.05 122.30,539.04 122.77,537.04 123.24,535.03 123.71,533.03 124.19,531.02 124.66,529.02 125.13,527.01 125.60,524.95 126.08,522.73 126.55,520.51 127.02,518.28 127.49,516.06 127.96,513.84 128.44,511.62 128.91,509.39 129.38,507.17 129.85,504.95 130.33,502.73 130.80,500.51 131.27,498.42 131.74,496.38 132.22,494.33 132.69,492.29 133.16,490.25 133.63,488.20 134.10,486.16 134.58,484.12 135.05,482.08 135.52,480.03 135.99,477.99 136.47,476.06 136.94,474.71 137.41,473.36 137.88,472.01 138.36,470.66 138.83,469.31 139.30,467.96 139.77,466.61 140.24,465.26 140.72,463.91 141.19,462.89 141.66,462.10 142.13,461.31 142.61,460.52 143.08,459.73 143.55,458.94 144.02,458.15 144.50,457.36 144.97,456.57 145.44,455.78 145.91,454.99 146.38,454.20 146.86,453.71 147.33,453.21 147.80,452.72 148.27,452.22 148.75,451.73 149.22,451.23 149.69,450.74 150.16,450.24 150.64,449.75 151.11,449.25 151.58,448.99 152.05,449.87 152.52,450.76 153.00,451.64 153.47,452.53 153.94,453.41 154.41,454.30 154.89,455.19 155.36,456.07 155.83,456.96 156.30,457.84 156.78,459.04 157.25,460.30 157.72,461.56 158.19,462.83 158.66,464.09 159.14,465.35 159.61,466.61 160.08,467.87 160.55,469.14 161.03,470.40 161.50,471.66 161.97,473.24 162.44,475.44 162.91,477.65 163.39,479.86 163.86,482.06 164.33,484.27 164.80,486.47 165.28,488.68 165.75,490.89 166.22,493.09 166.69,495.30 167.17,497.51 167.64,499.72 168.11,501.95 168.58,504.17 169.05,506.39 169.53,508.61 170.00,510.84 170.47,513.06 170.94,515.28 171.42,517.50 171.89,519.72 172.36,521.95 172.83,524.08 173.31,525.96 173.78,527.84 174.25,529.72 174.72,531.60 175.19,533.48 175.67,535.36 176.14,537.24 176.61,539.12 177.08,541.00 177.56,542.88 178.03,544.76 178.50,546.21 178.97,547.45 179.45,548.68 179.92,549.92 180.39,551.16 180.86,552.40 181.33,553.63 181.81,554.87 182.28,556.11 182.75,557.35 183.22,558.58 183.70,559.82 184.17,561.06 184.33,561.47 184.33,509.10 184.64,509.10 185.11,509.10 185.59,509.10 186.06,509.10 186.53,509.10 187.00,509.10 187.47,509.10 187.95,509.10 188.42,509.10 188.89,509.10 189.36,509.10 189.84,509.10 190.31,509.10 190.78,509.10 191.25,509.10 191.73,509.10 192.20,509.10 192.67,509.10 193.14,509.10 193.61,509.10 194.09,509.10 194.56,509.10 195.03,509.10 195.50,509.10 195.98,509.10 196.45,509.10 196.92,509.10 197.39,509.10 197.87,509.10 198.34,509.10 198.81,509.10 199.28,509.10 199.75,509.10 200.23,509.10 200.70,509.10 201.17,509.10 201.64,509.10 202.12,509.10 202.59,509.10 203.06,509.10 203.53,509.10 204.00,509.10 204.48,509.10 204.95,509.10 205.42,509.10 205.89,509.10 206.37,509.10 206.84,509.10 207.31,509.10 207.78,509.10 208.26,509.10 208.73,509.10 209.20,509.10 209.67,509.10 210.14,509.10 210.62,509.10 211.09,509.10 211.56,509.10 212.03,509.10 212.51,509.10 212.98,509.10 213.45,509.10 213.92,509.10 214.40,509.10 214.87,509.10 215.34,509.10 215.81,509.10 216.28,509.10 216.76,509.10 217.23,509.10 217.70,509.10 218.17,509.10 218.65,509.10 219.12,509.10 219.59,509.10 220.06,509.10 220.54,509.10 221.01,509.10 221.48,509.10 221.95,509.10 222.42,509.10 222.90,509.10 223.37,509.10 223.84,509.10 224.31,509.10 224.79,509.10 225.26,509.10 225.73,509.10 226.20,509.10 226.68,509.10 227.15,509.10 227.62,509.10 228.09,509.10 228.56,509.10 229.04,509.10 229.51,509.10 229.98,509.10 230.45,509.10 230.93,509.10 231.40,509.10 231.87,509.10 232.34,509.10 232.82,509.10 233.29,509.10 233.76,509.10 234.23,509.10 234.70,509.10 235.18,509.10 235.65,509.10 236.12,509.10 236.59,509.10 237.07,509.10 237.54,509.10 238.01,509.10 238.48,509.10 238.96,509.10 239.43,509.10 239.90,509.10 240.37,509.10 240.84,509.10 241.32,509.10 241.79,509.10 242.26,509.10 242.73,509.10 243.21,509.10 243.68,509.10 244.15,509.10 244.62,509.10 245.10,509.10 245.57,509.10 246.04,509.10 246.51,509.10 246.98,509.10 247.46,509.10 247.93,509.10 248.40,509.10 248.87,509.10 249.35,509.10 249.82,509.10 250.29,509.10 250.76,509.10 251.24,509.10 251.71,509.10 252.18,509.10 252.65,509.10 253.12,509.10 253.60,509.10 254.07,509.10 254.54,509.10 255.01,509.10 255.49,509.10 255.96,509.10 256.43,509.10 256.90,509.10 257.37,509.10 257.85,509.10 258.32,509.10 258.79,509.10 259.26,509.10 259.74,509.10 260.21,509.10 260.68,509.10 261.15,509.10 261.63,509.10 262.10,509.10 262.57,509.10 263.04,509.10 263.04,561.47 263.04,561.47 263.51,561.98 263.99,562.48 264.46,562.98 264.93,563.49 265.40,563.99 265.88,564.49 266.35,565.00 266.82,565.50 267.29,566.00 267.77,566.51 268.24,567.01 268.71,567.51 269.18,568.02 269.65,568.52 270.13,568.14 270.60,567.14 271.07,566.13 271.54,565.13 272.02,564.13 272.49,563.12 272.96,562.12 273.43,561.11 273.91,560.11 274.38,559.10 274.85,558.10 275.32,557.09 275.79,555.76 276.27,553.75 276.74,551.75 277.21,549.74 277.68,547.73 278.16,545.73 278.63,543.72 279.10,541.72 279.57,539.71 280.05,537.71 280.52,535.70 280.99,533.70 281.46,531.69 281.93,529.68 282.41,527.68 282.88,525.67 283.35,523.47 283.82,521.25 284.30,519.02 284.77,516.80 285.24,514.58 285.71,512.36 286.19,510.14 286.66,507.91 287.13,505.69 287.60,503.47 288.07,501.25 288.55,499.10 289.02,497.06 289.49,495.01 289.96,492.97 290.44,490.93 290.91,488.89 291.38,486.84 291.85,484.80 292.33,482.76 292.80,480.71 293.27,478.67 293.74,476.63 294.21,475.16 294.69,473.81 295.16,472.46 295.63,471.11 296.10,469.76 296.58,468.41 297.05,467.06 297.52,465.71 297.99,464.36 298.47,463.16 298.94,462.37 299.41,461.58 299.88,460.79 300.35,460.00 300.83,459.21 301.30,458.42 301.77,457.63 302.24,456.84 302.72,456.05 303.19,455.26 303.66,454.47 304.13,453.87 304.60,453.38 305.08,452.88 305.55,452.39 306.02,451.89 306.49,451.40 306.97,450.90 307.44,450.41 307.91,449.91 308.38,449.42 308.86,448.92 309.33,449.58 309.80,450.46 310.27,451.35 310.74,452.23 311.22,453.12 311.69,454.00 312.16,454.89 312.63,455.78 313.11,456.66 313.58,457.55 314.05,458.62 314.52,459.88 315.00,461.14 315.47,462.41 315.94,463.67 316.41,464.93 316.88,466.19 317.36,467.45 317.83,468.72 318.30,469.98 318.77,471.24 319.25,472.50 319.72,474.71 320.19,476.91 320.66,479.12 321.14,481.33 321.61,483.53 322.08,485.74 322.55,487.95 323.02,490.15 323.50,492.36 323.97,494.56 324.44,496.77 324.91,498.98 325.39,501.21 325.86,503.43 326.33,505.65 326.80,507.87 327.28,510.09 327.75,512.32 328.22,514.54 328.69,516.76 329.16,518.98 329.64,521.21 330.11,523.43 330.58,525.34 331.05,527.22 331.53,529.09 332.00,530.97 332.47,532.85 332.94,534.73 333.42,536.61 333.89,538.49 334.36,540.37 334.83,542.25 335.30,544.13 335.78,545.80 336.25,547.03 336.72,548.27 337.19,549.51 337.67,550.75 338.14,551.98 338.61,553.22 339.08,554.46 339.56,555.70 340.03,556.93 340.50,558.17 340.97,559.41 341.44,560.65 341.76,561.47 341.76,509.10 341.92,509.10 342.39,509.10 342.86,509.10 343.33,509.10 343.81,509.10 344.28,509.10 344.75,509.10 345.22,509.10 345.69,509.10 346.17,509.10 346.64,509.10 347.11,509.10 347.58,509.10 348.06,509.10 348.53,509.10 349.00,509.10 349.47,509.10 349.95,509.10 350.42,509.10 350.89,509.10 351.36,509.10 351.83,509.10 352.31,509.10 352.78,509.10 353.25,509.10 353.72,509.10 354.20,509.10 354.67,509.10 355.14,509.10 355.61,509.10 356.09,509.10 356.56,509.10 357.03,509.10 357.50,509.10 357.97,509.10 358.45,509.10 358.92,509.10 359.39,509.10 359.86,509.10 360.34,509.10 360.81,509.10 361.28,509.10 361.75,509.10 362.23,509.10 362.70,509.10 363.17,509.10 363.64,509.10 364.11,509.10 364.59,509.10 365.06,509.10 365.53,509.10 366.00,509.10 366.48,509.10 366.95,509.10 367.42,509.10 367.89,509.10 368.37,509.10 368.84,509.10 369.31,509.10 369.78,509.10 370.25,509.10 370.73,509.10 371.20,509.10 371.67,509.10 372.14,509.10 372.62,509.10 373.09,509.10 373.56,509.10 374.03,509.10 374.51,509.10 374.98,509.10 375.45,509.10 375.92,509.10 376.39,509.10 376.87,509.10 377.34,509.10 377.81,509.10 378.28,509.10 378.76,509.10 379.23,509.10 379.70,509.10 380.17,509.10 380.65,509.10 381.12,509.10 381.59,509.10 382.06,509.10 382.53,509.10 383.01,509.10 383.48,509.10 383.95,509.10 384.42,509.10 384.90,509.10 385.37,509.10 385.84,509.10 386.31,509.10 386.79,509.10 387.26,509.10 387.73,509.10 388.20,509.10 388.67,509.10 389.15,509.10 389.62,509.10 390.09,509.10 390.56,509.10 391.04,509.10 391.51,509.10 391.98,509.10 392.45,509.10 392.93,509.10 393.40,509.10 393.87,509.10 394.34,509.10 394.81,509.10 395.29,509.10 395.76,509.10 396.23,509.10 396.70,509.10 397.18,509.10 397.65,509.10 398.12,509.10 398.59,509.10 399.06,509.10 399.54,509.10 400.01,509.10 400.48,509.10 400.95,509.10 401.43,509.10 401.90,509.10 402.37,509.10 402.84,509.10 403.32,509.10 403.79,509.10 404.26,509.10 404.73,509.10 405.20,509.10 405.68,509.10 406.15,509.10 406.62,509.10 407.09,509.10 407.57,509.10 408.04,509.10 408.51,509.10 408.98,509.10 409.46,509.10 409.93,509.10 410.40,509.10 410.87,509.10 411.34,509.10 411.82,509.10 412.29,509.10 412.76,509.10 413.23,509.10 413.71,509.10 414.18,509.10 414.65,509.10 415.12,509.10 415.60,509.10 416.07,509.10 416.54,509.10 417.01,509.10 417.48,509.10 417.96,509.10 418.43,509.10 418.90,509.10 419.37,509.10 419.85,509.10 420.32,509.10 420.48,509.10 420.48,561.47 420.79,561.81 421.26,562.31 421.74,562.82 422.21,563.32 422.68,563.82 423.15,564.33 423.62,564.83 424.10,565.33 424.57,565.84 425.04,566.34 425.51,566.84 425.99,567.35 426.46,567.85 426.93,568.35 427.40,568.48 427.88,567.47 428.35,566.47 428.82,565.47 429.29,564.46 429.76,563.46 430.24,562.45 430.71,561.45 431.18,560.44 431.65,559.44 432.13,558.43 432.60,557.43 433.07,556.43 433.54,554.42 434.02,552.41 434.49,550.41 434.96,548.40 435.43,546.40 435.90,544.39 436.38,542.39 436.85,540.38 437.32,538.37 437.79,536.37 438.27,534.36 438.74,532.36 439.21,530.35 439.68,528.35 440.16,526.34 440.63,524.21 441.10,521.99 441.57,519.77 442.04,517.54 442.52,515.32 442.99,513.10 443.46,510.88 443.93,508.65 444.41,506.43 444.88,504.21 445.35,501.99 445.82,499.78 446.29,497.74 446.77,495.69 447.24,493.65 447.71,491.61 448.18,489.57 448.66,487.52 449.13,485.48 449.60,483.44 450.07,481.40 450.55,479.35 451.02,477.31 451.49,475.61 451.96,474.26 452.43,472.91 452.91,471.56 453.38,470.21 453.85,468.86 454.32,467.51 454.80,466.16 455.27,464.81 455.74,463.46 456.21,462.63 456.69,461.84 457.16,461.05 457.63,460.26 458.10,459.47 458.57,458.68 459.05,457.89 459.52,457.10 459.99,456.31 460.46,455.52 460.94,454.73 461.41,454.04 461.88,453.54 462.35,453.05 462.83,452.55 463.30,452.06 463.77,451.56 464.24,451.07 464.71,450.57 465.19,450.08 465.66,449.58 466.13,449.09 466.60,449.28 467.08,450.17 467.55,451.05 468.02,451.94 468.49,452.82 468.97,453.71 469.44,454.59 469.91,455.48 470.38,456.37 470.85,457.25 471.33,458.20 471.80,459.46 472.27,460.72 472.74,461.99 473.22,463.25 473.69,464.51 474.16,465.77 474.63,467.03 475.11,468.30 475.58,469.56 476.05,470.82 476.52,472.08 476.99,473.97 477.47,476.18 477.94,478.39 478.41,480.59 478.88,482.80 479.36,485.00 479.83,487.21 480.30,489.42 480.77,491.62 481.25,493.83 481.72,496.04 482.19,498.24 482.66,500.46 483.13,502.69 483.61,504.91 484.08,507.13 484.55,509.35 485.02,511.58 485.50,513.80 485.97,516.02 486.44,518.24 486.91,520.46 487.39,522.69 487.86,524.71 488.33,526.59 488.80,528.47 489.27,530.35 489.75,532.23 490.22,534.11 490.69,535.99 491.16,537.86 491.64,539.74 492.11,541.62 492.58,543.50 493.05,545.38 493.52,546.62 494.00,547.86 494.47,549.10 494.94,550.33 495.41,551.57 495.89,552.81 496.36,554.05 496.83,555.28 497.30,556.52 497.78,557.76 498.25,559.00 498.72,560.24 499.19,561.47 499.19,509.10 499.19,509.10 499.66,509.10 500.14,509.10 500.61,509.10 501.08,509.10 501.55,509.10 502.03,509.10 502.50,509.10 502.97,509.10 503.44,509.10 503.92,509.10 504.39,509.10 504.86,509.10 505.33,509.10 505.80,509.10 506.28,509.10 506.75,509.10 507.22,509.10 507.69,509.10 508.17,509.10 508.64,509.10 509.11,509.10 509.58,509.10 510.06,509.10 510.53,509.10" fill="none" stroke="#ff2626" stroke-width="1.3" stroke-linejoin="round" />
<line x1="38.70" y1="509.10" x2="105.61" y2="509.10" stroke="#a82838" stroke-width="1.5"/>
<line x1="184.33" y1="509.10" x2="263.04" y2="509.10" stroke="#a82838" stroke-width="1.5"/>
<line x1="341.76" y1="509.10" x2="420.48" y2="509.10" stroke="#a82838" stroke-width="1.5"/>
<line x1="499.19" y1="509.10" x2="511.00" y2="509.10" stroke="#a82838" stroke-width="1.5"/>
</g>
<rect x="38.7" y="446.0" width="472.30" height="126.20" fill="none" stroke="#6e6e6e" stroke-width="1.3"/>
<path d="M38.70,572.2v-5.0M38.70,446.0v5.0M117.42,572.2v-5.0M117.42,446.0v5.0M196.13,572.2v-5.0M196.13,446.0v5.0M274.85,572.2v-5.0M274.85,446.0v5.0M353.57,572.2v-5.0M353.57,446.0v5.0M432.28,572.2v-5.0M432.28,446.0v5.0M511.00,572.2v-5.0M511.00,446.0v5.0M38.7,572.20h5.0M511.0,572.20h-5.0M38.7,540.65h5.0M511.0,540.65h-5.0M38.7,509.10h5.0M511.0,509.10h-5.0M38.7,477.55h5.0M511.0,477.55h-5.0M38.7,446.00h5.0M511.0,446.00h-5.0" stroke="#6e6e6e" stroke-width="1.1" fill="none"/>
<rect x="330.4" y="448.2" width="143.20" height="12.30" fill="#fff" stroke="#555" stroke-width="1"/>
<line x1="333" y1="454.35" x2="363.6" y2="454.35" stroke="#2c2cff" stroke-width="1.1"/>
<text x="367.6" y="459.59" font-size="9.0" class="lt">S1</text>
<line x1="380" y1="454.35" x2="411" y2="454.35" stroke="#ff2626" stroke-width="1.1"/>
<text x="415.5" y="459.59" font-size="9.0" class="lt">S2</text>
<line x1="429" y1="454.35" x2="459" y2="454.35" stroke="#222" stroke-width="1.1"/>
<text x="463" y="459.59" font-size="9.0" class="lt">S3</text>
<text x="41.10" y="582.80" text-anchor="middle" font-size="9.5" class="tl">0</text>
<text x="119.82" y="582.80" text-anchor="middle" font-size="9.5" class="tl">0.02</text>
<text x="198.53" y="582.80" text-anchor="middle" font-size="9.5" class="tl">0.04</text>
<text x="277.25" y="582.80" text-anchor="middle" font-size="9.5" class="tl">0.06</text>
<text x="355.97" y="582.80" text-anchor="middle" font-size="9.5" class="tl">0.08</text>
<text x="434.68" y="582.80" text-anchor="middle" font-size="9.5" class="tl">0.1</text>
<text x="513.40" y="582.80" text-anchor="middle" font-size="9.5" class="tl">0.12</text>
<text x="36.00" y="577.54" text-anchor="end" font-size="9.5" class="tl">−0.2</text>
<text x="36.00" y="545.99" text-anchor="end" font-size="9.5" class="tl">−0.1</text>
<text x="36.00" y="514.44" text-anchor="end" font-size="9.5" class="tl">0</text>
<text x="36.00" y="482.88" text-anchor="end" font-size="9.5" class="tl">0.1</text>
<text x="36.00" y="451.33" text-anchor="end" font-size="9.5" class="tl">0.2</text>
<clipPath id="ce"><rect x="39.5" y="584.6" width="471.80" height="126.10"/></clipPath>
<g clip-path="url(#ce)">
<polyline points="39.50,647.65 39.97,647.65 40.44,647.65 40.92,647.65 41.39,647.65 41.86,647.65 42.33,647.65 42.80,647.65 43.27,647.65 43.75,647.65 44.22,647.65 44.69,647.65 45.16,647.65 45.63,647.65 46.11,647.65 46.58,647.65 47.05,647.65 47.52,647.65 47.99,647.65 48.46,647.65 48.94,647.65 49.41,647.65 49.88,647.65 50.35,647.65 50.82,647.65 51.30,647.65 51.77,647.65 52.24,647.65 52.71,647.65 53.18,647.65 53.65,647.65 54.13,647.65 54.60,647.65 55.07,647.65 55.54,647.65 56.01,647.65 56.48,647.65 56.96,647.65 57.43,647.65 57.90,647.65 58.37,647.65 58.84,647.65 59.32,647.65 59.79,647.65 60.26,647.65 60.73,647.65 61.20,647.65 61.67,647.65 62.15,647.65 62.62,647.65 63.09,647.65 63.56,647.65 64.03,647.65 64.51,647.65 64.98,647.65 65.45,647.65 65.92,647.65 66.39,647.65 66.86,647.65 67.34,647.65 67.81,647.65 68.28,647.65 68.75,647.65 69.22,647.65 69.70,647.65 70.17,647.65 70.64,647.65 71.11,647.65 71.58,647.65 72.05,647.65 72.53,647.65 73.00,647.65 73.47,647.65 73.94,647.65 74.41,647.65 74.89,647.65 75.36,647.65 75.83,647.65 76.30,647.65 76.77,647.65 77.24,647.65 77.72,647.65 78.19,647.65 78.66,647.65 79.13,647.65 79.60,647.65 80.07,647.65 80.55,647.65 81.02,647.65 81.49,647.65 81.96,647.65 82.43,647.65 82.91,647.65 83.38,647.65 83.85,647.65 84.32,647.65 84.79,647.65 85.26,647.65 85.74,647.65 86.21,647.65 86.68,647.65 87.15,647.65 87.62,647.65 88.10,647.65 88.57,647.65 89.04,647.65 89.51,647.65 89.98,647.65 90.45,647.65 90.93,647.65 91.40,647.65 91.87,647.65 92.34,647.65 92.81,647.65 93.29,647.65 93.76,647.65 94.23,647.65 94.70,647.65 95.17,647.65 95.64,647.65 96.12,647.65 96.59,647.65 97.06,647.65 97.53,647.65 98.00,647.65 98.48,647.65 98.95,647.65 99.42,647.65 99.89,647.65 100.36,647.65 100.83,647.65 101.31,647.65 101.78,647.65 102.25,647.65 102.72,647.65 103.19,647.65 103.66,647.65 104.14,647.65 104.61,647.65 105.08,647.65 105.55,647.65 106.02,647.65 106.50,647.65 106.97,647.65 107.44,647.65 107.91,647.65 108.38,647.65 108.85,647.65 109.33,647.65 109.80,647.65 110.27,647.65 110.74,647.65 111.21,647.65 111.69,647.65 112.16,647.65 112.63,647.65 113.10,647.65 113.57,647.65 114.04,647.65 114.52,647.65 114.99,647.65 115.46,647.65 115.93,647.65 116.40,647.65 116.88,647.65 117.35,647.65 117.82,647.65 118.13,647.65 118.13,650.13 118.29,645.61 118.76,645.65 119.23,645.69 119.71,645.73 120.18,645.77 120.65,645.81 121.12,645.85 121.59,645.89 122.07,645.93 122.54,645.97 123.01,646.01 123.48,646.05 123.95,646.09 124.42,646.13 124.90,646.17 125.37,646.21 125.84,646.25 126.31,646.30 126.78,646.34 127.25,646.38 127.73,646.42 128.20,646.46 128.67,646.50 129.14,646.54 129.61,646.58 130.09,646.62 130.56,646.66 131.03,646.70 131.50,646.78 131.97,646.87 132.44,646.96 132.92,647.05 133.39,647.14 133.86,647.23 134.33,647.32 134.80,647.41 135.28,647.50 135.75,647.59 136.22,647.68 136.69,647.77 137.16,647.87 137.63,647.96 138.11,648.05 138.58,648.14 139.05,648.23 139.52,648.32 139.99,648.41 140.47,648.50 140.94,648.59 141.41,648.68 141.88,648.77 142.35,648.86 142.82,648.95 143.30,649.04 143.77,649.13 144.24,649.22 144.71,649.31 145.18,649.40 145.66,649.49 146.13,649.58 146.60,649.67 147.07,649.76 147.54,649.86 148.01,649.95 148.49,650.04 148.96,650.13 149.43,650.18 149.90,650.20 150.37,650.22 150.84,650.24 151.32,650.26 151.79,650.29 152.26,650.31 152.73,650.33 153.20,650.35 153.68,650.37 154.15,650.39 154.62,650.41 155.09,650.43 155.56,650.45 156.03,650.47 156.51,650.49 156.98,650.51 157.45,650.53 157.92,650.55 158.39,650.57 158.87,650.59 159.34,650.61 159.81,650.63 160.28,650.66 160.75,650.68 161.22,650.70 161.70,650.72 162.17,650.74 162.64,650.76 163.11,650.78 163.58,650.80 164.06,650.82 164.53,650.84 165.00,650.86 165.47,650.88 165.94,650.90 166.41,650.92 166.89,650.94 167.36,650.95 167.83,650.88 168.30,650.80 168.77,650.73 169.25,650.66 169.72,650.59 170.19,650.52 170.66,650.45 171.13,650.37 171.60,650.30 172.08,650.23 172.55,650.16 173.02,650.09 173.49,650.02 173.96,649.94 174.43,649.87 174.91,649.80 175.38,649.73 175.85,649.66 176.32,649.58 176.79,649.51 177.27,649.44 177.74,649.37 178.21,649.30 178.68,649.23 179.15,649.04 179.62,648.85 180.10,648.66 180.57,648.47 181.04,648.28 181.51,648.09 181.98,647.90 182.46,647.71 182.93,647.52 183.40,647.33 183.87,647.15 184.34,646.96 184.81,646.77 184.97,646.70 184.97,650.17 185.29,650.17 185.76,650.17 186.23,650.17 186.70,650.17 187.17,650.17 187.65,650.17 188.12,650.17 188.59,650.17 189.06,650.17 189.53,650.17 190.00,650.17 190.48,650.17 190.95,650.17 191.42,650.17 191.89,650.17 192.36,650.17 192.84,650.17 193.31,650.17 193.78,650.17 194.25,650.17 194.72,650.17 195.19,650.17 195.67,650.17 196.14,650.17 196.61,650.17 196.77,650.17 196.77,647.65 197.08,647.65 197.55,647.65 198.02,647.65 198.50,647.65 198.97,647.65 199.44,647.65 199.91,647.65 200.38,647.65 200.86,647.65 201.33,647.65 201.80,647.65 202.27,647.65 202.74,647.65 203.21,647.65 203.69,647.65 204.16,647.65 204.63,647.65 205.10,647.65 205.57,647.65 206.05,647.65 206.52,647.65 206.99,647.65 207.46,647.65 207.93,647.65 208.40,647.65 208.88,647.65 209.35,647.65 209.82,647.65 210.29,647.65 210.76,647.65 211.24,647.65 211.71,647.65 212.18,647.65 212.65,647.65 213.12,647.65 213.59,647.65 214.07,647.65 214.54,647.65 215.01,647.65 215.48,647.65 215.95,647.65 216.42,647.65 216.90,647.65 217.37,647.65 217.84,647.65 218.31,647.65 218.78,647.65 219.26,647.65 219.73,647.65 220.20,647.65 220.67,647.65 221.14,647.65 221.61,647.65 222.09,647.65 222.56,647.65 223.03,647.65 223.50,647.65 223.97,647.65 224.45,647.65 224.92,647.65 225.39,647.65 225.86,647.65 226.33,647.65 226.80,647.65 227.28,647.65 227.75,647.65 228.22,647.65 228.69,647.65 229.16,647.65 229.64,647.65 230.11,647.65 230.58,647.65 231.05,647.65 231.52,647.65 231.99,647.65 232.47,647.65 232.94,647.65 233.41,647.65 233.88,647.65 234.35,647.65 234.83,647.65 235.30,647.65 235.77,647.65 236.24,647.65 236.71,647.65 237.18,647.65 237.66,647.65 238.13,647.65 238.60,647.65 239.07,647.65 239.54,647.65 240.02,647.65 240.49,647.65 240.96,647.65 241.43,647.65 241.90,647.65 242.37,647.65 242.85,647.65 243.32,647.65 243.79,647.65 244.26,647.65 244.73,647.65 245.20,647.65 245.68,647.65 246.15,647.65 246.62,647.65 247.09,647.65 247.56,647.65 248.04,647.65 248.51,647.65 248.98,647.65 249.45,647.65 249.92,647.65 250.39,647.65 250.87,647.65 251.34,647.65 251.81,647.65 252.28,647.65 252.75,647.65 253.23,647.65 253.70,647.65 254.17,647.65 254.64,647.65 255.11,647.65 255.58,647.65 256.06,647.65 256.53,647.65 257.00,647.65 257.47,647.65 257.94,647.65 258.42,647.65 258.89,647.65 259.36,647.65 259.83,647.65 260.30,647.65 260.77,647.65 261.25,647.65 261.72,647.65 262.19,647.65 262.66,647.65 263.13,647.65 263.61,647.65 264.08,647.65 264.55,647.65 265.02,647.65 265.49,647.65 265.96,647.65 266.44,647.65 266.91,647.65 267.38,647.65 267.85,647.65 268.32,647.65 268.79,647.65 269.27,647.65 269.74,647.65 270.21,647.65 270.68,647.65 271.15,647.65 271.63,647.65 272.10,647.65 272.57,647.65 273.04,647.65 273.51,647.65 273.98,647.65 274.46,647.65 274.93,647.65 275.40,647.65 275.40,650.17 275.40,650.13 275.87,645.64 276.34,645.68 276.82,645.72 277.29,645.76 277.76,645.80 278.23,645.84 278.70,645.88 279.17,645.92 279.65,645.96 280.12,646.00 280.59,646.04 281.06,646.08 281.53,646.12 282.01,646.16 282.48,646.20 282.95,646.24 283.42,646.28 283.89,646.32 284.36,646.36 284.84,646.40 285.31,646.44 285.78,646.48 286.25,646.52 286.72,646.56 287.20,646.60 287.67,646.64 288.14,646.68 288.61,646.75 289.08,646.84 289.55,646.93 290.03,647.02 290.50,647.11 290.97,647.20 291.44,647.29 291.91,647.38 292.38,647.47 292.86,647.56 293.33,647.65 293.80,647.74 294.27,647.84 294.74,647.93 295.22,648.02 295.69,648.11 296.16,648.20 296.63,648.29 297.10,648.38 297.57,648.47 298.05,648.56 298.52,648.65 298.99,648.74 299.46,648.83 299.93,648.92 300.41,649.01 300.88,649.10 301.35,649.19 301.82,649.28 302.29,649.37 302.76,649.46 303.24,649.55 303.71,649.64 304.18,649.73 304.65,649.83 305.12,649.92 305.60,650.01 306.07,650.10 306.54,650.18 307.01,650.20 307.48,650.22 307.95,650.24 308.43,650.26 308.90,650.28 309.37,650.30 309.84,650.32 310.31,650.34 310.79,650.36 311.26,650.38 311.73,650.40 312.20,650.42 312.67,650.44 313.14,650.46 313.62,650.48 314.09,650.50 314.56,650.52 315.03,650.55 315.50,650.57 315.97,650.59 316.45,650.61 316.92,650.63 317.39,650.65 317.86,650.67 318.33,650.69 318.81,650.71 319.28,650.73 319.75,650.75 320.22,650.77 320.69,650.79 321.16,650.81 321.64,650.83 322.11,650.85 322.58,650.87 323.05,650.90 323.52,650.92 324.00,650.94 324.47,650.96 324.94,650.90 325.41,650.83 325.88,650.76 326.35,650.69 326.83,650.61 327.30,650.54 327.77,650.47 328.24,650.40 328.71,650.33 329.19,650.25 329.66,650.18 330.13,650.11 330.60,650.04 331.07,649.97 331.54,649.90 332.02,649.82 332.49,649.75 332.96,649.68 333.43,649.61 333.90,649.54 334.38,649.47 334.85,649.39 335.32,649.32 335.79,649.25 336.26,649.10 336.73,648.91 337.21,648.72 337.68,648.53 338.15,648.34 338.62,648.15 339.09,647.97 339.56,647.78 340.04,647.59 340.51,647.40 340.98,647.21 341.45,647.02 341.92,646.83 342.24,646.70 342.24,650.17 342.40,650.17 342.87,650.17 343.34,650.17 343.81,650.17 344.28,650.17 344.75,650.17 345.23,650.17 345.70,650.17 346.17,650.17 346.64,650.17 347.11,650.17 347.59,650.17 348.06,650.17 348.53,650.17 349.00,650.17 349.47,650.17 349.94,650.17 350.42,650.17 350.89,650.17 351.36,650.17 351.83,650.17 352.30,650.17 352.78,650.17 353.25,650.17 353.72,650.17 354.03,650.17 354.03,647.65 354.19,647.65 354.66,647.65 355.13,647.65 355.61,647.65 356.08,647.65 356.55,647.65 357.02,647.65 357.49,647.65 357.97,647.65 358.44,647.65 358.91,647.65 359.38,647.65 359.85,647.65 360.32,647.65 360.80,647.65 361.27,647.65 361.74,647.65 362.21,647.65 362.68,647.65 363.15,647.65 363.63,647.65 364.10,647.65 364.57,647.65 365.04,647.65 365.51,647.65 365.99,647.65 366.46,647.65 366.93,647.65 367.40,647.65 367.87,647.65 368.34,647.65 368.82,647.65 369.29,647.65 369.76,647.65 370.23,647.65 370.70,647.65 371.18,647.65 371.65,647.65 372.12,647.65 372.59,647.65 373.06,647.65 373.53,647.65 374.01,647.65 374.48,647.65 374.95,647.65 375.42,647.65 375.89,647.65 376.37,647.65 376.84,647.65 377.31,647.65 377.78,647.65 378.25,647.65 378.72,647.65 379.20,647.65 379.67,647.65 380.14,647.65 380.61,647.65 381.08,647.65 381.56,647.65 382.03,647.65 382.50,647.65 382.97,647.65 383.44,647.65 383.91,647.65 384.39,647.65 384.86,647.65 385.33,647.65 385.80,647.65 386.27,647.65 386.74,647.65 387.22,647.65 387.69,647.65 388.16,647.65 388.63,647.65 389.10,647.65 389.58,647.65 390.05,647.65 390.52,647.65 390.99,647.65 391.46,647.65 391.93,647.65 392.41,647.65 392.88,647.65 393.35,647.65 393.82,647.65 394.29,647.65 394.77,647.65 395.24,647.65 395.71,647.65 396.18,647.65 396.65,647.65 397.12,647.65 397.60,647.65 398.07,647.65 398.54,647.65 399.01,647.65 399.48,647.65 399.96,647.65 400.43,647.65 400.90,647.65 401.37,647.65 401.84,647.65 402.31,647.65 402.79,647.65 403.26,647.65 403.73,647.65 404.20,647.65 404.67,647.65 405.15,647.65 405.62,647.65 406.09,647.65 406.56,647.65 407.03,647.65 407.50,647.65 407.98,647.65 408.45,647.65 408.92,647.65 409.39,647.65 409.86,647.65 410.33,647.65 410.81,647.65 411.28,647.65 411.75,647.65 412.22,647.65 412.69,647.65 413.17,647.65 413.64,647.65 414.11,647.65 414.58,647.65 415.05,647.65 415.52,647.65 416.00,647.65 416.47,647.65 416.94,647.65 417.41,647.65 417.88,647.65 418.36,647.65 418.83,647.65 419.30,647.65 419.77,647.65 420.24,647.65 420.71,647.65 421.19,647.65 421.66,647.65 422.13,647.65 422.60,647.65 423.07,647.65 423.55,647.65 424.02,647.65 424.49,647.65 424.96,647.65 425.43,647.65 425.90,647.65 426.38,647.65 426.85,647.65 427.32,647.65 427.79,647.65 428.26,647.65 428.74,647.65 429.21,647.65 429.68,647.65 430.15,647.65 430.62,647.65 431.09,647.65 431.57,647.65 432.04,647.65 432.51,647.65 432.67,647.65 432.67,650.13 432.98,645.62 433.45,645.66 433.92,645.70 434.40,645.75 434.87,645.79 435.34,645.83 435.81,645.87 436.28,645.91 436.76,645.95 437.23,645.99 437.70,646.03 438.17,646.07 438.64,646.11 439.11,646.15 439.59,646.19 440.06,646.23 440.53,646.27 441.00,646.31 441.47,646.35 441.95,646.39 442.42,646.43 442.89,646.47 443.36,646.51 443.83,646.55 444.30,646.59 444.78,646.63 445.25,646.67 445.72,646.72 446.19,646.81 446.66,646.90 447.14,646.99 447.61,647.08 448.08,647.17 448.55,647.26 449.02,647.35 449.49,647.44 449.97,647.53 450.44,647.62 450.91,647.71 451.38,647.80 451.85,647.90 452.33,647.99 452.80,648.08 453.27,648.17 453.74,648.26 454.21,648.35 454.68,648.44 455.16,648.53 455.63,648.62 456.10,648.71 456.57,648.80 457.04,648.89 457.51,648.98 457.99,649.07 458.46,649.16 458.93,649.25 459.40,649.34 459.87,649.43 460.35,649.52 460.82,649.61 461.29,649.70 461.76,649.80 462.23,649.89 462.70,649.98 463.18,650.07 463.65,650.16 464.12,650.19 464.59,650.21 465.06,650.23 465.54,650.25 466.01,650.27 466.48,650.29 466.95,650.31 467.42,650.33 467.89,650.35 468.37,650.37 468.84,650.39 469.31,650.42 469.78,650.44 470.25,650.46 470.73,650.48 471.20,650.50 471.67,650.52 472.14,650.54 472.61,650.56 473.08,650.58 473.56,650.60 474.03,650.62 474.50,650.64 474.97,650.66 475.44,650.68 475.92,650.70 476.39,650.72 476.86,650.74 477.33,650.76 477.80,650.79 478.27,650.81 478.75,650.83 479.22,650.85 479.69,650.87 480.16,650.89 480.63,650.91 481.10,650.93 481.58,650.95 482.05,650.92 482.52,650.85 482.99,650.78 483.46,650.71 483.94,650.64 484.41,650.57 484.88,650.49 485.35,650.42 485.82,650.35 486.29,650.28 486.77,650.21 487.24,650.14 487.71,650.06 488.18,649.99 488.65,649.92 489.13,649.85 489.60,649.78 490.07,649.70 490.54,649.63 491.01,649.56 491.48,649.49 491.96,649.42 492.43,649.35 492.90,649.27 493.37,649.16 493.84,648.97 494.32,648.78 494.79,648.60 495.26,648.41 495.73,648.22 496.20,648.03 496.67,647.84 497.15,647.65 497.62,647.46 498.09,647.27 498.56,647.08 499.03,646.89 499.50,646.70 499.51,650.17 499.51,650.17 499.98,650.17 500.45,650.17 500.92,650.17 501.39,650.17 501.86,650.17 502.34,650.17 502.81,650.17 503.28,650.17 503.75,650.17 504.22,650.17 504.69,650.17 505.17,650.17 505.64,650.17 506.11,650.17 506.58,650.17 507.05,650.17 507.53,650.17 508.00,650.17 508.47,650.17 508.94,650.17 509.41,650.17 509.88,650.17 510.36,650.17 510.83,650.17 511.30,650.17" fill="none" stroke="#2c2cff" stroke-width="1.3" stroke-linejoin="round" />
<polyline points="39.50,647.65 39.97,647.65 40.44,647.65 40.92,647.65 41.39,647.65 41.86,647.65 42.33,647.65 42.80,647.65 43.27,647.65 43.75,647.65 44.22,647.65 44.69,647.65 45.16,647.65 45.63,647.65 46.11,647.65 46.58,647.65 47.05,647.65 47.52,647.65 47.99,647.65 48.46,647.65 48.94,647.65 49.41,647.65 49.88,647.65 50.35,647.65 50.82,647.65 51.30,647.65 51.77,647.65 52.24,647.65 52.71,647.65 53.18,647.65 53.65,647.65 54.13,647.65 54.60,647.65 55.07,647.65 55.54,647.65 56.01,647.65 56.48,647.65 56.96,647.65 57.43,647.65 57.90,647.65 58.37,647.65 58.84,647.65 59.32,647.65 59.79,647.65 60.26,647.65 60.73,647.65 61.20,647.65 61.67,647.65 62.15,647.65 62.62,647.65 63.09,647.65 63.56,647.65 64.03,647.65 64.51,647.65 64.98,647.65 65.45,647.65 65.92,647.65 66.39,647.65 66.86,647.65 67.34,647.65 67.81,647.65 68.28,647.65 68.75,647.65 69.22,647.65 69.70,647.65 70.17,647.65 70.64,647.65 71.11,647.65 71.58,647.65 72.05,647.65 72.53,647.65 73.00,647.65 73.47,647.65 73.94,647.65 74.41,647.65 74.89,647.65 75.36,647.65 75.83,647.65 76.30,647.65 76.77,647.65 77.24,647.65 77.72,647.65 78.19,647.65 78.66,647.65 79.13,647.65 79.60,647.65 80.07,647.65 80.55,647.65 81.02,647.65 81.49,647.65 81.96,647.65 82.43,647.65 82.91,647.65 83.38,647.65 83.85,647.65 84.32,647.65 84.79,647.65 85.26,647.65 85.74,647.65 86.21,647.65 86.68,647.65 87.15,647.65 87.62,647.65 88.10,647.65 88.57,647.65 89.04,647.65 89.51,647.65 89.98,647.65 90.45,647.65 90.93,647.65 91.40,647.65 91.87,647.65 92.34,647.65 92.81,647.65 93.29,647.65 93.76,647.65 94.23,647.65 94.70,647.65 95.17,647.65 95.64,647.65 96.12,647.65 96.59,647.65 97.06,647.65 97.53,647.65 98.00,647.65 98.48,647.65 98.95,647.65 99.42,647.65 99.89,647.65 100.36,647.65 100.83,647.65 101.31,647.65 101.78,647.65 102.25,647.65 102.72,647.65 103.19,647.65 103.66,647.65 104.14,647.65 104.61,647.65 105.08,647.65 105.55,647.65 106.02,647.65 106.50,647.65 106.97,647.65 107.44,647.65 107.91,647.65 108.38,647.65 108.85,647.65 109.33,647.65 109.80,647.65 110.27,647.65 110.74,647.65 111.21,647.65 111.69,647.65 112.16,647.65 112.63,647.65 113.10,647.65 113.57,647.65 114.04,647.65 114.52,647.65 114.99,647.65 115.46,647.65 115.93,647.65 116.40,647.65 116.88,647.65 117.35,647.65 117.82,647.65 118.13,647.65 118.13,649.83 118.29,647.67 118.76,647.75 119.23,647.83 119.71,647.91 120.18,647.99 120.65,648.07 121.12,648.15 121.59,648.23 122.07,648.31 122.54,648.39 123.01,648.48 123.48,648.56 123.95,648.64 124.42,648.72 124.90,648.80 125.37,648.88 125.84,648.96 126.31,649.04 126.78,649.12 127.25,649.20 127.73,649.28 128.20,649.36 128.67,649.44 129.14,649.52 129.61,649.60 130.09,649.68 130.56,649.76 131.03,649.84 131.50,649.87 131.97,649.89 132.44,649.90 132.92,649.92 133.39,649.94 133.86,649.95 134.33,649.97 134.80,649.99 135.28,650.00 135.75,650.02 136.22,650.03 136.69,650.05 137.16,650.07 137.63,650.08 138.11,650.10 138.58,650.12 139.05,650.13 139.52,650.15 139.99,650.17 140.47,650.18 140.94,650.20 141.41,650.22 141.88,650.23 142.35,650.25 142.82,650.27 143.30,650.28 143.77,650.30 144.24,650.31 144.71,650.33 145.18,650.35 145.66,650.36 146.13,650.38 146.60,650.40 147.07,650.41 147.54,650.43 148.01,650.45 148.49,650.46 148.96,650.48 149.43,650.46 149.90,650.40 150.37,650.34 150.84,650.29 151.32,650.23 151.79,650.17 152.26,650.11 152.73,650.06 153.20,650.00 153.68,649.94 154.15,649.88 154.62,649.83 155.09,649.77 155.56,649.71 156.03,649.65 156.51,649.59 156.98,649.54 157.45,649.48 157.92,649.42 158.39,649.36 158.87,649.31 159.34,649.25 159.81,649.19 160.28,649.13 160.75,649.08 161.22,649.02 161.70,648.96 162.17,648.90 162.64,648.85 163.11,648.79 163.58,648.73 164.06,648.67 164.53,648.62 165.00,648.56 165.47,648.50 165.94,648.44 166.41,648.39 166.89,648.33 167.36,648.27 167.83,648.17 168.30,648.08 168.77,647.99 169.25,647.90 169.72,647.81 170.19,647.72 170.66,647.63 171.13,647.53 171.60,647.44 172.08,647.35 172.55,647.26 173.02,647.17 173.49,647.08 173.96,646.99 174.43,646.90 174.91,646.80 175.38,646.71 175.85,646.62 176.32,646.53 176.79,646.44 177.27,646.35 177.74,646.26 178.21,646.17 178.68,646.07 179.15,646.07 179.62,646.07 180.10,646.07 180.57,646.07 181.04,646.07 181.51,646.07 181.98,646.07 182.46,646.07 182.93,646.07 183.40,646.07 183.87,646.07 184.34,646.07 184.81,646.07 184.97,646.07 184.97,649.86 185.29,649.86 185.76,649.86 186.23,649.86 186.70,649.86 187.17,649.86 187.65,649.86 188.12,649.86 188.59,649.86 189.06,649.86 189.53,649.86 190.00,649.86 190.48,649.86 190.95,649.86 191.42,649.86 191.89,649.86 192.36,649.86 192.84,649.86 193.31,649.86 193.78,649.86 194.25,649.86 194.72,649.86 195.19,649.86 195.67,649.86 196.14,649.86 196.61,649.86 196.77,649.86 196.77,647.65 197.08,647.65 197.55,647.65 198.02,647.65 198.50,647.65 198.97,647.65 199.44,647.65 199.91,647.65 200.38,647.65 200.86,647.65 201.33,647.65 201.80,647.65 202.27,647.65 202.74,647.65 203.21,647.65 203.69,647.65 204.16,647.65 204.63,647.65 205.10,647.65 205.57,647.65 206.05,647.65 206.52,647.65 206.99,647.65 207.46,647.65 207.93,647.65 208.40,647.65 208.88,647.65 209.35,647.65 209.82,647.65 210.29,647.65 210.76,647.65 211.24,647.65 211.71,647.65 212.18,647.65 212.65,647.65 213.12,647.65 213.59,647.65 214.07,647.65 214.54,647.65 215.01,647.65 215.48,647.65 215.95,647.65 216.42,647.65 216.90,647.65 217.37,647.65 217.84,647.65 218.31,647.65 218.78,647.65 219.26,647.65 219.73,647.65 220.20,647.65 220.67,647.65 221.14,647.65 221.61,647.65 222.09,647.65 222.56,647.65 223.03,647.65 223.50,647.65 223.97,647.65 224.45,647.65 224.92,647.65 225.39,647.65 225.86,647.65 226.33,647.65 226.80,647.65 227.28,647.65 227.75,647.65 228.22,647.65 228.69,647.65 229.16,647.65 229.64,647.65 230.11,647.65 230.58,647.65 231.05,647.65 231.52,647.65 231.99,647.65 232.47,647.65 232.94,647.65 233.41,647.65 233.88,647.65 234.35,647.65 234.83,647.65 235.30,647.65 235.77,647.65 236.24,647.65 236.71,647.65 237.18,647.65 237.66,647.65 238.13,647.65 238.60,647.65 239.07,647.65 239.54,647.65 240.02,647.65 240.49,647.65 240.96,647.65 241.43,647.65 241.90,647.65 242.37,647.65 242.85,647.65 243.32,647.65 243.79,647.65 244.26,647.65 244.73,647.65 245.20,647.65 245.68,647.65 246.15,647.65 246.62,647.65 247.09,647.65 247.56,647.65 248.04,647.65 248.51,647.65 248.98,647.65 249.45,647.65 249.92,647.65 250.39,647.65 250.87,647.65 251.34,647.65 251.81,647.65 252.28,647.65 252.75,647.65 253.23,647.65 253.70,647.65 254.17,647.65 254.64,647.65 255.11,647.65 255.58,647.65 256.06,647.65 256.53,647.65 257.00,647.65 257.47,647.65 257.94,647.65 258.42,647.65 258.89,647.65 259.36,647.65 259.83,647.65 260.30,647.65 260.77,647.65 261.25,647.65 261.72,647.65 262.19,647.65 262.66,647.65 263.13,647.65 263.61,647.65 264.08,647.65 264.55,647.65 265.02,647.65 265.49,647.65 265.96,647.65 266.44,647.65 266.91,647.65 267.38,647.65 267.85,647.65 268.32,647.65 268.79,647.65 269.27,647.65 269.74,647.65 270.21,647.65 270.68,647.65 271.15,647.65 271.63,647.65 272.10,647.65 272.57,647.65 273.04,647.65 273.51,647.65 273.98,647.65 274.46,647.65 274.93,647.65 275.40,647.65 275.40,649.86 275.40,649.83 275.87,647.72 276.34,647.80 276.82,647.88 277.29,647.97 277.76,648.05 278.23,648.13 278.70,648.21 279.17,648.29 279.65,648.37 280.12,648.45 280.59,648.53 281.06,648.61 281.53,648.69 282.01,648.77 282.48,648.85 282.95,648.93 283.42,649.01 283.89,649.09 284.36,649.17 284.84,649.25 285.31,649.33 285.78,649.41 286.25,649.49 286.72,649.58 287.20,649.66 287.67,649.74 288.14,649.82 288.61,649.86 289.08,649.88 289.55,649.90 290.03,649.91 290.50,649.93 290.97,649.95 291.44,649.96 291.91,649.98 292.38,650.00 292.86,650.01 293.33,650.03 293.80,650.05 294.27,650.06 294.74,650.08 295.22,650.10 295.69,650.11 296.16,650.13 296.63,650.14 297.10,650.16 297.57,650.18 298.05,650.19 298.52,650.21 298.99,650.23 299.46,650.24 299.93,650.26 300.41,650.28 300.88,650.29 301.35,650.31 301.82,650.33 302.29,650.34 302.76,650.36 303.24,650.37 303.71,650.39 304.18,650.41 304.65,650.42 305.12,650.44 305.60,650.46 306.07,650.47 306.54,650.48 307.01,650.42 307.48,650.36 307.95,650.30 308.43,650.25 308.90,650.19 309.37,650.13 309.84,650.07 310.31,650.02 310.79,649.96 311.26,649.90 311.73,649.84 312.20,649.79 312.67,649.73 313.14,649.67 313.62,649.61 314.09,649.56 314.56,649.50 315.03,649.44 315.50,649.38 315.97,649.33 316.45,649.27 316.92,649.21 317.39,649.15 317.86,649.10 318.33,649.04 318.81,648.98 319.28,648.92 319.75,648.87 320.22,648.81 320.69,648.75 321.16,648.69 321.64,648.64 322.11,648.58 322.58,648.52 323.05,648.46 323.52,648.41 324.00,648.35 324.47,648.29 324.94,648.20 325.41,648.11 325.88,648.02 326.35,647.93 326.83,647.84 327.30,647.75 327.77,647.66 328.24,647.57 328.71,647.47 329.19,647.38 329.66,647.29 330.13,647.20 330.60,647.11 331.07,647.02 331.54,646.93 332.02,646.83 332.49,646.74 332.96,646.65 333.43,646.56 333.90,646.47 334.38,646.38 334.85,646.29 335.32,646.20 335.79,646.10 336.26,646.07 336.73,646.07 337.21,646.07 337.68,646.07 338.15,646.07 338.62,646.07 339.09,646.07 339.56,646.07 340.04,646.07 340.51,646.07 340.98,646.07 341.45,646.07 341.92,646.07 342.24,646.07 342.24,649.86 342.40,649.86 342.87,649.86 343.34,649.86 343.81,649.86 344.28,649.86 344.75,649.86 345.23,649.86 345.70,649.86 346.17,649.86 346.64,649.86 347.11,649.86 347.59,649.86 348.06,649.86 348.53,649.86 349.00,649.86 349.47,649.86 349.94,649.86 350.42,649.86 350.89,649.86 351.36,649.86 351.83,649.86 352.30,649.86 352.78,649.86 353.25,649.86 353.72,649.86 354.03,649.86 354.03,647.65 354.19,647.65 354.66,647.65 355.13,647.65 355.61,647.65 356.08,647.65 356.55,647.65 357.02,647.65 357.49,647.65 357.97,647.65 358.44,647.65 358.91,647.65 359.38,647.65 359.85,647.65 360.32,647.65 360.80,647.65 361.27,647.65 361.74,647.65 362.21,647.65 362.68,647.65 363.15,647.65 363.63,647.65 364.10,647.65 364.57,647.65 365.04,647.65 365.51,647.65 365.99,647.65 366.46,647.65 366.93,647.65 367.40,647.65 367.87,647.65 368.34,647.65 368.82,647.65 369.29,647.65 369.76,647.65 370.23,647.65 370.70,647.65 371.18,647.65 371.65,647.65 372.12,647.65 372.59,647.65 373.06,647.65 373.53,647.65 374.01,647.65 374.48,647.65 374.95,647.65 375.42,647.65 375.89,647.65 376.37,647.65 376.84,647.65 377.31,647.65 377.78,647.65 378.25,647.65 378.72,647.65 379.20,647.65 379.67,647.65 380.14,647.65 380.61,647.65 381.08,647.65 381.56,647.65 382.03,647.65 382.50,647.65 382.97,647.65 383.44,647.65 383.91,647.65 384.39,647.65 384.86,647.65 385.33,647.65 385.80,647.65 386.27,647.65 386.74,647.65 387.22,647.65 387.69,647.65 388.16,647.65 388.63,647.65 389.10,647.65 389.58,647.65 390.05,647.65 390.52,647.65 390.99,647.65 391.46,647.65 391.93,647.65 392.41,647.65 392.88,647.65 393.35,647.65 393.82,647.65 394.29,647.65 394.77,647.65 395.24,647.65 395.71,647.65 396.18,647.65 396.65,647.65 397.12,647.65 397.60,647.65 398.07,647.65 398.54,647.65 399.01,647.65 399.48,647.65 399.96,647.65 400.43,647.65 400.90,647.65 401.37,647.65 401.84,647.65 402.31,647.65 402.79,647.65 403.26,647.65 403.73,647.65 404.20,647.65 404.67,647.65 405.15,647.65 405.62,647.65 406.09,647.65 406.56,647.65 407.03,647.65 407.50,647.65 407.98,647.65 408.45,647.65 408.92,647.65 409.39,647.65 409.86,647.65 410.33,647.65 410.81,647.65 411.28,647.65 411.75,647.65 412.22,647.65 412.69,647.65 413.17,647.65 413.64,647.65 414.11,647.65 414.58,647.65 415.05,647.65 415.52,647.65 416.00,647.65 416.47,647.65 416.94,647.65 417.41,647.65 417.88,647.65 418.36,647.65 418.83,647.65 419.30,647.65 419.77,647.65 420.24,647.65 420.71,647.65 421.19,647.65 421.66,647.65 422.13,647.65 422.60,647.65 423.07,647.65 423.55,647.65 424.02,647.65 424.49,647.65 424.96,647.65 425.43,647.65 425.90,647.65 426.38,647.65 426.85,647.65 427.32,647.65 427.79,647.65 428.26,647.65 428.74,647.65 429.21,647.65 429.68,647.65 430.15,647.65 430.62,647.65 431.09,647.65 431.57,647.65 432.04,647.65 432.51,647.65 432.67,647.65 432.67,649.83 432.98,647.70 433.45,647.78 433.92,647.86 434.40,647.94 434.87,648.02 435.34,648.10 435.81,648.18 436.28,648.26 436.76,648.34 437.23,648.42 437.70,648.50 438.17,648.58 438.64,648.66 439.11,648.74 439.59,648.82 440.06,648.90 440.53,648.98 441.00,649.07 441.47,649.15 441.95,649.23 442.42,649.31 442.89,649.39 443.36,649.47 443.83,649.55 444.30,649.63 444.78,649.71 445.25,649.79 445.72,649.86 446.19,649.88 446.66,649.89 447.14,649.91 447.61,649.93 448.08,649.94 448.55,649.96 449.02,649.97 449.49,649.99 449.97,650.01 450.44,650.02 450.91,650.04 451.38,650.06 451.85,650.07 452.33,650.09 452.80,650.11 453.27,650.12 453.74,650.14 454.21,650.16 454.68,650.17 455.16,650.19 455.63,650.20 456.10,650.22 456.57,650.24 457.04,650.25 457.51,650.27 457.99,650.29 458.46,650.30 458.93,650.32 459.40,650.34 459.87,650.35 460.35,650.37 460.82,650.39 461.29,650.40 461.76,650.42 462.23,650.44 462.70,650.45 463.18,650.47 463.65,650.48 464.12,650.44 464.59,650.38 465.06,650.32 465.54,650.27 466.01,650.21 466.48,650.15 466.95,650.09 467.42,650.04 467.89,649.98 468.37,649.92 468.84,649.86 469.31,649.81 469.78,649.75 470.25,649.69 470.73,649.63 471.20,649.58 471.67,649.52 472.14,649.46 472.61,649.40 473.08,649.35 473.56,649.29 474.03,649.23 474.50,649.17 474.97,649.12 475.44,649.06 475.92,649.00 476.39,648.94 476.86,648.88 477.33,648.83 477.80,648.77 478.27,648.71 478.75,648.65 479.22,648.60 479.69,648.54 480.16,648.48 480.63,648.42 481.10,648.37 481.58,648.31 482.05,648.23 482.52,648.14 482.99,648.05 483.46,647.96 483.94,647.87 484.41,647.78 484.88,647.69 485.35,647.60 485.82,647.50 486.29,647.41 486.77,647.32 487.24,647.23 487.71,647.14 488.18,647.05 488.65,646.96 489.13,646.87 489.60,646.77 490.07,646.68 490.54,646.59 491.01,646.50 491.48,646.41 491.96,646.32 492.43,646.23 492.90,646.13 493.37,646.07 493.84,646.07 494.32,646.07 494.79,646.07 495.26,646.07 495.73,646.07 496.20,646.07 496.67,646.07 497.15,646.07 497.62,646.07 498.09,646.07 498.56,646.07 499.03,646.07 499.50,646.07 499.51,649.86 499.51,649.86 499.98,649.86 500.45,649.86 500.92,649.86 501.39,649.86 501.86,649.86 502.34,649.86 502.81,649.86 503.28,649.86 503.75,649.86 504.22,649.86 504.69,649.86 505.17,649.86 505.64,649.86 506.11,649.86 506.58,649.86 507.05,649.86 507.53,649.86 508.00,649.86 508.47,649.86 508.94,649.86 509.41,649.86 509.88,649.86 510.36,649.86 510.83,649.86 511.30,649.86" fill="none" stroke="#222" stroke-width="1.3" stroke-linejoin="round" />
<polyline points="39.50,647.65 39.97,647.65 40.44,647.65 40.92,647.65 41.39,647.65 41.86,647.65 42.33,647.65 42.80,647.65 43.27,647.65 43.75,647.65 44.22,647.65 44.69,647.65 45.16,647.65 45.63,647.65 46.11,647.65 46.58,647.65 47.05,647.65 47.52,647.65 47.99,647.65 48.46,647.65 48.94,647.65 49.41,647.65 49.88,647.65 50.35,647.65 50.82,647.65 51.30,647.65 51.77,647.65 52.24,647.65 52.71,647.65 53.18,647.65 53.65,647.65 54.13,647.65 54.60,647.65 55.07,647.65 55.54,647.65 56.01,647.65 56.48,647.65 56.96,647.65 57.43,647.65 57.90,647.65 58.37,647.65 58.84,647.65 59.32,647.65 59.79,647.65 60.26,647.65 60.73,647.65 61.20,647.65 61.67,647.65 62.15,647.65 62.62,647.65 63.09,647.65 63.56,647.65 64.03,647.65 64.51,647.65 64.98,647.65 65.45,647.65 65.92,647.65 66.39,647.65 66.86,647.65 67.34,647.65 67.81,647.65 68.28,647.65 68.75,647.65 69.22,647.65 69.70,647.65 70.17,647.65 70.64,647.65 71.11,647.65 71.58,647.65 72.05,647.65 72.53,647.65 73.00,647.65 73.47,647.65 73.94,647.65 74.41,647.65 74.89,647.65 75.36,647.65 75.83,647.65 76.30,647.65 76.77,647.65 77.24,647.65 77.72,647.65 78.19,647.65 78.66,647.65 79.13,647.65 79.60,647.65 80.07,647.65 80.55,647.65 81.02,647.65 81.49,647.65 81.96,647.65 82.43,647.65 82.91,647.65 83.38,647.65 83.85,647.65 84.32,647.65 84.79,647.65 85.26,647.65 85.74,647.65 86.21,647.65 86.68,647.65 87.15,647.65 87.62,647.65 88.10,647.65 88.57,647.65 89.04,647.65 89.51,647.65 89.98,647.65 90.45,647.65 90.93,647.65 91.40,647.65 91.87,647.65 92.34,647.65 92.81,647.65 93.29,647.65 93.76,647.65 94.23,647.65 94.70,647.65 95.17,647.65 95.64,647.65 96.12,647.65 96.59,647.65 97.06,647.65 97.53,647.65 98.00,647.65 98.48,647.65 98.95,647.65 99.42,647.65 99.89,647.65 100.36,647.65 100.83,647.65 101.31,647.65 101.78,647.65 102.25,647.65 102.72,647.65 103.19,647.65 103.66,647.65 104.14,647.65 104.61,647.65 105.08,647.65 105.55,647.65 106.02,647.65 106.50,647.65 106.97,647.65 107.44,647.65 107.91,647.65 108.38,647.65 108.85,647.65 109.33,647.65 109.80,647.65 110.27,647.65 110.74,647.65 111.21,647.65 111.69,647.65 112.16,647.65 112.63,647.65 113.10,647.65 113.57,647.65 114.04,647.65 114.52,647.65 114.99,647.65 115.46,647.65 115.93,647.65 116.40,647.65 116.88,647.65 117.35,647.65 117.82,647.65 118.13,647.65 118.13,696.61 118.29,696.28 118.76,695.27 119.23,693.60 119.71,691.60 120.18,689.59 120.65,687.59 121.12,685.59 121.59,683.58 122.07,681.58 122.54,679.57 123.01,677.57 123.48,675.57 123.95,673.56 124.42,671.56 124.90,669.55 125.37,667.55 125.84,665.55 126.31,663.49 126.78,661.27 127.25,659.05 127.73,656.83 128.20,654.61 128.67,652.39 129.14,650.17 129.61,647.94 130.09,645.72 130.56,643.50 131.03,641.28 131.50,639.06 131.97,636.98 132.44,634.94 132.92,632.89 133.39,630.85 133.86,628.81 134.33,626.77 134.80,624.73 135.28,622.69 135.75,620.65 136.22,618.61 136.69,616.56 137.16,614.64 137.63,613.29 138.11,611.94 138.58,610.59 139.05,609.24 139.52,607.90 139.99,606.55 140.47,605.20 140.94,603.85 141.41,602.50 141.88,601.48 142.35,600.69 142.82,599.90 143.30,599.11 143.77,598.32 144.24,597.53 144.71,596.74 145.18,595.95 145.66,595.16 146.13,594.38 146.60,593.59 147.07,592.80 147.54,592.30 148.01,591.81 148.49,591.31 148.96,590.82 149.43,590.32 149.90,589.83 150.37,589.33 150.84,588.84 151.32,588.34 151.79,587.85 152.26,587.58 152.73,588.47 153.20,589.35 153.68,590.24 154.15,591.12 154.62,592.01 155.09,592.89 155.56,593.78 156.03,594.66 156.51,595.55 156.98,596.43 157.45,597.63 157.92,598.89 158.39,600.15 158.87,601.41 159.34,602.67 159.81,603.94 160.28,605.20 160.75,606.46 161.22,607.72 161.70,608.98 162.17,610.24 162.64,611.82 163.11,614.02 163.58,616.22 164.06,618.43 164.53,620.63 165.00,622.84 165.47,625.04 165.94,627.25 166.41,629.45 166.89,631.66 167.36,633.86 167.83,636.07 168.30,638.28 168.77,640.50 169.25,642.72 169.72,644.94 170.19,647.16 170.66,649.38 171.13,651.60 171.60,653.82 172.08,656.05 172.55,658.27 173.02,660.49 173.49,662.62 173.96,664.50 174.43,666.38 174.91,668.25 175.38,670.13 175.85,672.01 176.32,673.89 176.79,675.77 177.27,677.64 177.74,679.52 178.21,681.40 178.68,683.28 179.15,684.73 179.62,685.97 180.10,687.20 180.57,688.44 181.04,689.68 181.51,690.91 181.98,692.15 182.46,693.39 182.93,694.62 183.40,695.86 183.87,697.10 184.34,698.33 184.81,699.57 184.97,699.98 184.97,595.32 185.29,594.98 185.76,594.48 186.23,593.98 186.70,593.47 187.17,592.97 187.65,592.47 188.12,591.97 188.59,591.46 189.06,590.96 189.53,590.46 190.00,589.95 190.48,589.45 190.95,588.95 191.42,588.44 191.89,588.32 192.36,589.32 192.84,590.33 193.31,591.33 193.78,592.33 194.25,593.34 194.72,594.34 195.19,595.34 195.67,596.35 196.14,597.35 196.61,598.36 196.77,598.69 196.77,647.65 197.08,647.65 197.55,647.65 198.02,647.65 198.50,647.65 198.97,647.65 199.44,647.65 199.91,647.65 200.38,647.65 200.86,647.65 201.33,647.65 201.80,647.65 202.27,647.65 202.74,647.65 203.21,647.65 203.69,647.65 204.16,647.65 204.63,647.65 205.10,647.65 205.57,647.65 206.05,647.65 206.52,647.65 206.99,647.65 207.46,647.65 207.93,647.65 208.40,647.65 208.88,647.65 209.35,647.65 209.82,647.65 210.29,647.65 210.76,647.65 211.24,647.65 211.71,647.65 212.18,647.65 212.65,647.65 213.12,647.65 213.59,647.65 214.07,647.65 214.54,647.65 215.01,647.65 215.48,647.65 215.95,647.65 216.42,647.65 216.90,647.65 217.37,647.65 217.84,647.65 218.31,647.65 218.78,647.65 219.26,647.65 219.73,647.65 220.20,647.65 220.67,647.65 221.14,647.65 221.61,647.65 222.09,647.65 222.56,647.65 223.03,647.65 223.50,647.65 223.97,647.65 224.45,647.65 224.92,647.65 225.39,647.65 225.86,647.65 226.33,647.65 226.80,647.65 227.28,647.65 227.75,647.65 228.22,647.65 228.69,647.65 229.16,647.65 229.64,647.65 230.11,647.65 230.58,647.65 231.05,647.65 231.52,647.65 231.99,647.65 232.47,647.65 232.94,647.65 233.41,647.65 233.88,647.65 234.35,647.65 234.83,647.65 235.30,647.65 235.77,647.65 236.24,647.65 236.71,647.65 237.18,647.65 237.66,647.65 238.13,647.65 238.60,647.65 239.07,647.65 239.54,647.65 240.02,647.65 240.49,647.65 240.96,647.65 241.43,647.65 241.90,647.65 242.37,647.65 242.85,647.65 243.32,647.65 243.79,647.65 244.26,647.65 244.73,647.65 245.20,647.65 245.68,647.65 246.15,647.65 246.62,647.65 247.09,647.65 247.56,647.65 248.04,647.65 248.51,647.65 248.98,647.65 249.45,647.65 249.92,647.65 250.39,647.65 250.87,647.65 251.34,647.65 251.81,647.65 252.28,647.65 252.75,647.65 253.23,647.65 253.70,647.65 254.17,647.65 254.64,647.65 255.11,647.65 255.58,647.65 256.06,647.65 256.53,647.65 257.00,647.65 257.47,647.65 257.94,647.65 258.42,647.65 258.89,647.65 259.36,647.65 259.83,647.65 260.30,647.65 260.77,647.65 261.25,647.65 261.72,647.65 262.19,647.65 262.66,647.65 263.13,647.65 263.61,647.65 264.08,647.65 264.55,647.65 265.02,647.65 265.49,647.65 265.96,647.65 266.44,647.65 266.91,647.65 267.38,647.65 267.85,647.65 268.32,647.65 268.79,647.65 269.27,647.65 269.74,647.65 270.21,647.65 270.68,647.65 271.15,647.65 271.63,647.65 272.10,647.65 272.57,647.65 273.04,647.65 273.51,647.65 273.98,647.65 274.46,647.65 274.93,647.65 275.40,647.65 275.40,696.61 275.40,696.61 275.87,695.61 276.34,694.27 276.82,692.27 277.29,690.26 277.76,688.26 278.23,686.25 278.70,684.25 279.17,682.25 279.65,680.24 280.12,678.24 280.59,676.23 281.06,674.23 281.53,672.23 282.01,670.22 282.48,668.22 282.95,666.21 283.42,664.21 283.89,662.01 284.36,659.79 284.84,657.57 285.31,655.35 285.78,653.13 286.25,650.91 286.72,648.68 287.20,646.46 287.67,644.24 288.14,642.02 288.61,639.80 289.08,637.66 289.55,635.62 290.03,633.57 290.50,631.53 290.97,629.49 291.44,627.45 291.91,625.41 292.38,623.37 292.86,621.33 293.33,619.29 293.80,617.25 294.27,615.20 294.74,613.74 295.22,612.39 295.69,611.04 296.16,609.69 296.63,608.35 297.10,607.00 297.57,605.65 298.05,604.30 298.52,602.95 298.99,601.74 299.46,600.95 299.93,600.16 300.41,599.37 300.88,598.58 301.35,597.80 301.82,597.01 302.29,596.22 302.76,595.43 303.24,594.64 303.71,593.85 304.18,593.06 304.65,592.47 305.12,591.97 305.60,591.48 306.07,590.98 306.54,590.49 307.01,589.99 307.48,589.50 307.95,589.00 308.43,588.51 308.90,588.01 309.37,587.52 309.84,588.17 310.31,589.06 310.79,589.94 311.26,590.83 311.73,591.71 312.20,592.60 312.67,593.48 313.14,594.37 313.62,595.25 314.09,596.14 314.56,597.21 315.03,598.47 315.50,599.73 315.97,600.99 316.45,602.25 316.92,603.51 317.39,604.78 317.86,606.04 318.33,607.30 318.81,608.56 319.28,609.82 319.75,611.08 320.22,613.29 320.69,615.49 321.16,617.69 321.64,619.90 322.11,622.10 322.58,624.31 323.05,626.51 323.52,628.72 324.00,630.92 324.47,633.13 324.94,635.33 325.41,637.54 325.88,639.76 326.35,641.98 326.83,644.20 327.30,646.42 327.77,648.64 328.24,650.86 328.71,653.08 329.19,655.31 329.66,657.53 330.13,659.75 330.60,661.97 331.07,663.87 331.54,665.75 332.02,667.63 332.49,669.51 332.96,671.38 333.43,673.26 333.90,675.14 334.38,677.02 334.85,678.90 335.32,680.77 335.79,682.65 336.26,684.32 336.73,685.55 337.21,686.79 337.68,688.03 338.15,689.26 338.62,690.50 339.09,691.74 339.56,692.97 340.04,694.21 340.51,695.45 340.98,696.68 341.45,697.92 341.92,699.16 342.24,699.98 342.24,595.32 342.40,595.15 342.87,594.65 343.34,594.14 343.81,593.64 344.28,593.14 344.75,592.64 345.23,592.13 345.70,591.63 346.17,591.13 346.64,590.62 347.11,590.12 347.59,589.62 348.06,589.12 348.53,588.61 349.00,588.11 349.47,588.99 349.94,589.99 350.42,591.00 350.89,592.00 351.36,593.00 351.83,594.01 352.30,595.01 352.78,596.01 353.25,597.02 353.72,598.02 354.03,598.69 354.03,647.65 354.19,647.65 354.66,647.65 355.13,647.65 355.61,647.65 356.08,647.65 356.55,647.65 357.02,647.65 357.49,647.65 357.97,647.65 358.44,647.65 358.91,647.65 359.38,647.65 359.85,647.65 360.32,647.65 360.80,647.65 361.27,647.65 361.74,647.65 362.21,647.65 362.68,647.65 363.15,647.65 363.63,647.65 364.10,647.65 364.57,647.65 365.04,647.65 365.51,647.65 365.99,647.65 366.46,647.65 366.93,647.65 367.40,647.65 367.87,647.65 368.34,647.65 368.82,647.65 369.29,647.65 369.76,647.65 370.23,647.65 370.70,647.65 371.18,647.65 371.65,647.65 372.12,647.65 372.59,647.65 373.06,647.65 373.53,647.65 374.01,647.65 374.48,647.65 374.95,647.65 375.42,647.65 375.89,647.65 376.37,647.65 376.84,647.65 377.31,647.65 377.78,647.65 378.25,647.65 378.72,647.65 379.20,647.65 379.67,647.65 380.14,647.65 380.61,647.65 381.08,647.65 381.56,647.65 382.03,647.65 382.50,647.65 382.97,647.65 383.44,647.65 383.91,647.65 384.39,647.65 384.86,647.65 385.33,647.65 385.80,647.65 386.27,647.65 386.74,647.65 387.22,647.65 387.69,647.65 388.16,647.65 388.63,647.65 389.10,647.65 389.58,647.65 390.05,647.65 390.52,647.65 390.99,647.65 391.46,647.65 391.93,647.65 392.41,647.65 392.88,647.65 393.35,647.65 393.82,647.65 394.29,647.65 394.77,647.65 395.24,647.65 395.71,647.65 396.18,647.65 396.65,647.65 397.12,647.65 397.60,647.65 398.07,647.65 398.54,647.65 399.01,647.65 399.48,647.65 399.96,647.65 400.43,647.65 400.90,647.65 401.37,647.65 401.84,647.65 402.31,647.65 402.79,647.65 403.26,647.65 403.73,647.65 404.20,647.65 404.67,647.65 405.15,647.65 405.62,647.65 406.09,647.65 406.56,647.65 407.03,647.65 407.50,647.65 407.98,647.65 408.45,647.65 408.92,647.65 409.39,647.65 409.86,647.65 410.33,647.65 410.81,647.65 411.28,647.65 411.75,647.65 412.22,647.65 412.69,647.65 413.17,647.65 413.64,647.65 414.11,647.65 414.58,647.65 415.05,647.65 415.52,647.65 416.00,647.65 416.47,647.65 416.94,647.65 417.41,647.65 417.88,647.65 418.36,647.65 418.83,647.65 419.30,647.65 419.77,647.65 420.24,647.65 420.71,647.65 421.19,647.65 421.66,647.65 422.13,647.65 422.60,647.65 423.07,647.65 423.55,647.65 424.02,647.65 424.49,647.65 424.96,647.65 425.43,647.65 425.90,647.65 426.38,647.65 426.85,647.65 427.32,647.65 427.79,647.65 428.26,647.65 428.74,647.65 429.21,647.65 429.68,647.65 430.15,647.65 430.62,647.65 431.09,647.65 431.57,647.65 432.04,647.65 432.51,647.65 432.67,647.65 432.67,696.61 432.98,695.94 433.45,694.94 433.92,692.93 434.40,690.93 434.87,688.93 435.34,686.92 435.81,684.92 436.28,682.91 436.76,680.91 437.23,678.91 437.70,676.90 438.17,674.90 438.64,672.89 439.11,670.89 439.59,668.89 440.06,666.88 440.53,664.88 441.00,662.75 441.47,660.53 441.95,658.31 442.42,656.09 442.89,653.87 443.36,651.65 443.83,649.42 444.30,647.20 444.78,644.98 445.25,642.76 445.72,640.54 446.19,638.34 446.66,636.30 447.14,634.26 447.61,632.21 448.08,630.17 448.55,628.13 449.02,626.09 449.49,624.05 449.97,622.01 450.44,619.97 450.91,617.93 451.38,615.88 451.85,614.19 452.33,612.84 452.80,611.49 453.27,610.14 453.74,608.79 454.21,607.45 454.68,606.10 455.16,604.75 455.63,603.40 456.10,602.05 456.57,601.22 457.04,600.43 457.51,599.64 457.99,598.85 458.46,598.06 458.93,597.27 459.40,596.48 459.87,595.69 460.35,594.90 460.82,594.11 461.29,593.32 461.76,592.63 462.23,592.14 462.70,591.64 463.18,591.15 463.65,590.65 464.12,590.16 464.59,589.66 465.06,589.17 465.54,588.67 466.01,588.18 466.48,587.68 466.95,587.88 467.42,588.76 467.89,589.65 468.37,590.53 468.84,591.42 469.31,592.30 469.78,593.19 470.25,594.07 470.73,594.96 471.20,595.84 471.67,596.79 472.14,598.05 472.61,599.31 473.08,600.57 473.56,601.83 474.03,603.09 474.50,604.36 474.97,605.62 475.44,606.88 475.92,608.14 476.39,609.40 476.86,610.66 477.33,612.55 477.80,614.76 478.27,616.96 478.75,619.16 479.22,621.37 479.69,623.57 480.16,625.78 480.63,627.98 481.10,630.19 481.58,632.39 482.05,634.60 482.52,636.80 482.99,639.02 483.46,641.24 483.94,643.46 484.41,645.68 484.88,647.90 485.35,650.12 485.82,652.34 486.29,654.56 486.77,656.79 487.24,659.01 487.71,661.23 488.18,663.25 488.65,665.12 489.13,667.00 489.60,668.88 490.07,670.76 490.54,672.64 491.01,674.51 491.48,676.39 491.96,678.27 492.43,680.15 492.90,682.03 493.37,683.90 493.84,685.14 494.32,686.38 494.79,687.61 495.26,688.85 495.73,690.09 496.20,691.32 496.67,692.56 497.15,693.80 497.62,695.03 498.09,696.27 498.56,697.51 499.03,698.74 499.50,699.98 499.51,595.32 499.51,595.32 499.98,594.82 500.45,594.31 500.92,593.81 501.39,593.31 501.86,592.80 502.34,592.30 502.81,591.80 503.28,591.29 503.75,590.79 504.22,590.29 504.69,589.79 505.17,589.28 505.64,588.78 506.11,588.28 506.58,588.65 507.05,589.66 507.53,590.66 508.00,591.66 508.47,592.67 508.94,593.67 509.41,594.68 509.88,595.68 510.36,596.68 510.83,597.69 511.30,598.69" fill="none" stroke="#ff2626" stroke-width="1.3" stroke-linejoin="round" />
<line x1="39.50" y1="647.65" x2="118.13" y2="647.65" stroke="#583848" stroke-width="1.35"/>
<line x1="196.77" y1="647.65" x2="275.40" y2="647.65" stroke="#583848" stroke-width="1.35"/>
<line x1="354.03" y1="647.65" x2="432.67" y2="647.65" stroke="#583848" stroke-width="1.35"/>
<polyline points="106.9,697.5 113.9,704.8 118.5,697.6" fill="none" stroke="#3a8ee8" stroke-width="1.3" stroke-dasharray="2.6,1.9"/>
</g>
<rect x="39.5" y="584.6" width="471.80" height="126.10" fill="none" stroke="#6e6e6e" stroke-width="1.3"/>
<path d="M39.50,710.7v-5.0M39.50,584.6v5.0M118.13,710.7v-5.0M118.13,584.6v5.0M196.77,710.7v-5.0M196.77,584.6v5.0M275.40,710.7v-5.0M275.40,584.6v5.0M354.03,710.7v-5.0M354.03,584.6v5.0M432.67,710.7v-5.0M432.67,584.6v5.0M511.30,710.7v-5.0M511.30,584.6v5.0M39.5,710.70h5.0M511.3,710.70h-5.0M39.5,679.18h5.0M511.3,679.18h-5.0M39.5,647.65h5.0M511.3,647.65h-5.0M39.5,616.12h5.0M511.3,616.12h-5.0M39.5,584.60h5.0M511.3,584.60h-5.0" stroke="#6e6e6e" stroke-width="1.1" fill="none"/>
<rect x="361.5" y="586.5" width="143.20" height="11.70" fill="#fff" stroke="#555" stroke-width="1"/>
<line x1="364.5" y1="592.35" x2="394.8" y2="592.35" stroke="#2c2cff" stroke-width="1.1"/>
<text x="399.5" y="597.59" font-size="9.0" class="lt">S1</text>
<line x1="412.3" y1="592.35" x2="442.6" y2="592.35" stroke="#ff2626" stroke-width="1.1"/>
<text x="446.5" y="597.59" font-size="9.0" class="lt">S2</text>
<line x1="460.4" y1="592.35" x2="490.2" y2="592.35" stroke="#222" stroke-width="1.1"/>
<text x="495.0" y="597.59" font-size="9.0" class="lt">S3</text>
<text x="41.90" y="721.40" text-anchor="middle" font-size="9.5" class="tl">0</text>
<text x="120.53" y="721.40" text-anchor="middle" font-size="9.5" class="tl">0.02</text>
<text x="199.17" y="721.40" text-anchor="middle" font-size="9.5" class="tl">0.04</text>
<text x="277.80" y="721.40" text-anchor="middle" font-size="9.5" class="tl">0.06</text>
<text x="356.43" y="721.40" text-anchor="middle" font-size="9.5" class="tl">0.08</text>
<text x="435.07" y="721.40" text-anchor="middle" font-size="9.5" class="tl">0.1</text>
<text x="513.70" y="721.40" text-anchor="middle" font-size="9.5" class="tl">0.12</text>
<text x="36.80" y="716.04" text-anchor="end" font-size="9.5" class="tl">−0.2</text>
<text x="36.80" y="684.51" text-anchor="end" font-size="9.5" class="tl">−0.1</text>
<text x="36.80" y="652.99" text-anchor="end" font-size="9.5" class="tl">0</text>
<text x="36.80" y="621.46" text-anchor="end" font-size="9.5" class="tl">0.1</text>
<text x="36.80" y="589.94" text-anchor="end" font-size="9.5" class="tl">0.2</text>
<line x1="111.7" y1="200.5" x2="176.0" y2="200.5" stroke="#000" stroke-width="1.3"/>
<path d="M105.2,200.5L112.7,196.6L112.7,204.4Z" fill="#000"/>
<path d="M182.5,200.5L175.0,196.6L175.0,204.4Z" fill="#000"/>
<text x="141.0" y="213.0" text-anchor="middle" font-size="10" font-weight="bold" fill="#222">FFT</text>
<line x1="113.3" y1="527.1" x2="177.4" y2="527.1" stroke="#000" stroke-width="1.3"/>
<path d="M106.8,527.1L114.3,523.2L114.3,531.0Z" fill="#000"/>
<path d="M183.9,527.1L176.4,523.2L176.4,531.0Z" fill="#000"/>
<text x="141.5" y="540.3" text-anchor="middle" font-size="10.5" fill="#111" class="an">FFT</text>
<line x1="114.5" y1="616.4" x2="178.1" y2="616.4" stroke="#000" stroke-width="1.3"/>
<path d="M108.0,616.4L115.5,612.5L115.5,620.3Z" fill="#000"/>
<path d="M184.6,616.4L177.1,612.5L177.1,620.3Z" fill="#000"/>
<text x="144.6" y="629.3" text-anchor="middle" font-size="10.5" fill="#111" class="an">FFT</text>
<line x1="67.3" y1="450.0" x2="88.12" y2="425.90" stroke="#000" stroke-width="1.4"/>
<path d="M92.7,420.6L89.89,428.75L85.05,424.56Z" fill="#000"/>
<text x="49.3" y="460.8" font-size="9.8" fill="#111" class="an">Edge detection</text>
<line x1="106.9" y1="603.3" x2="106.9" y2="697.8" stroke="#444" stroke-width="1.6" stroke-dasharray="6,3.6"/>
<ellipse cx="191.2" cy="597.8" rx="13.7" ry="12.8" fill="none" stroke="#8058c0" stroke-width="1.5" stroke-dasharray="5.5,3"/>
<line x1="182.2" y1="605.1" x2="117.00" y2="691.80" stroke="#9270d8" stroke-width="1.0"/>
<path d="M114.3,695.4L115.45,689.38L119.76,692.63Z" fill="#6a1fb0"/>
<text x="79.0" y="686.0" text-anchor="middle" font-size="10" fill="#111" class="an">Antiphase</text>
<text x="80.0" y="695.8" text-anchor="middle" font-size="10" fill="#111" class="an">and joint</text>
<text x="536.0" y="63.9" text-anchor="middle" font-size="16" fill="#222">(a)</text>
<text x="536.0" y="219.1" text-anchor="middle" font-size="16" fill="#222">(b)</text>
<text x="536.0" y="378.9" text-anchor="middle" font-size="16" fill="#222">(c)</text>
<text x="536.0" y="516.6" text-anchor="middle" font-size="16" fill="#222">(d)</text>
<text x="536.0" y="655.7" text-anchor="middle" font-size="16" fill="#222">(e)</text>
<text transform="translate(14.8,70.2) rotate(-90)" text-anchor="middle" font-size="12" font-weight="bold" fill="#222">Voltage (V)</text>
<text transform="translate(19.9,218.8) rotate(-90)" text-anchor="middle" font-size="12.3" font-weight="normal" fill="#222" stroke="#222" stroke-width="0.4">Voltage (V)</text>
<text transform="translate(17.3,381.5) rotate(-90)" text-anchor="middle" font-size="12" font-weight="bold" fill="#222">Voltage (V)</text>
<text transform="translate(18.9,510.3) rotate(-90)" text-anchor="middle" font-size="12.3" font-weight="normal" fill="#222" stroke="#222" stroke-width="0.55">Voltage (V)</text>
<text transform="translate(20.0,648.8) rotate(-90)" text-anchor="middle" font-size="12.3" font-weight="normal" fill="#222" stroke="#222" stroke-width="0.55">Voltage (V)</text>
<text x="272.8" y="735.4" text-anchor="middle" font-size="11.1" fill="#222" stroke="#222" stroke-width="0.3" xml:space="preserve" style="white-space:pre">Time  (s)</text>
</svg>
</body></html>
